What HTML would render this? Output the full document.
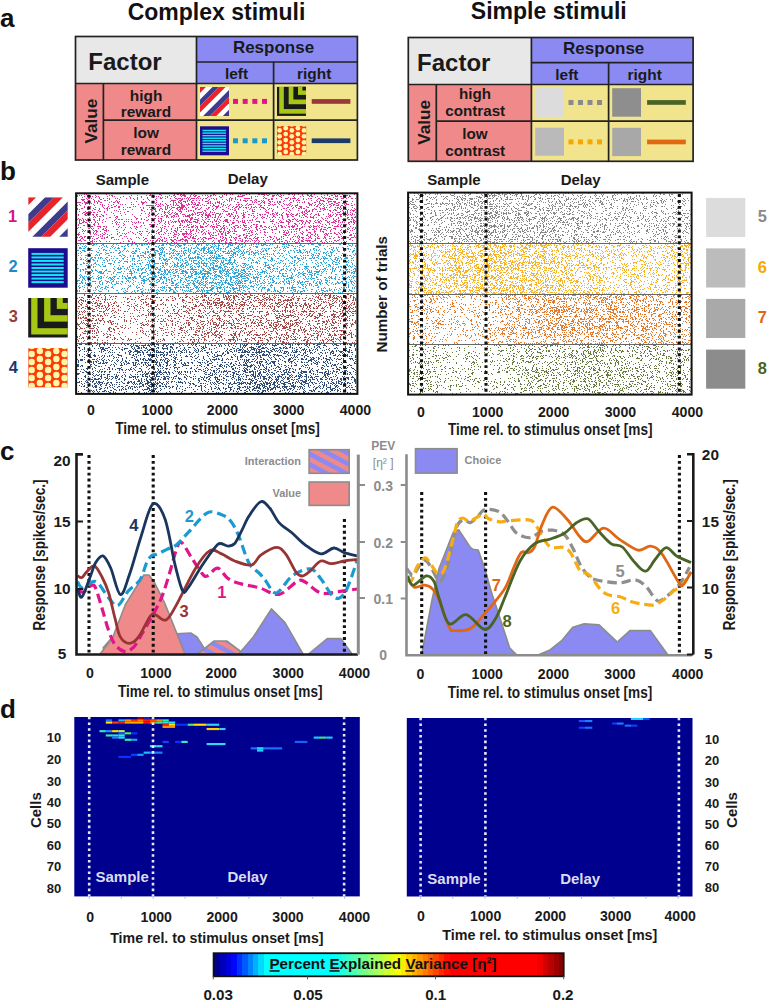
<!DOCTYPE html>
<html><head><meta charset="utf-8"><title>figure</title>
<style>html,body{margin:0;padding:0;background:#fff;overflow:hidden;width:767px;height:1007px;} svg{display:block;} text{font-family:"Liberation Sans", sans-serif;}</style>
</head><body>
<svg width="767" height="1007" viewBox="0 0 767 1007">
<defs><pattern id="hatch" patternUnits="userSpaceOnUse" width="9.25" height="9.25" patternTransform="translate(309 456.2) rotate(28)"><rect width="9.25" height="9.25" fill="#8a8af2"/><rect width="9.25" height="4.6" fill="#f08a8a"/></pattern></defs>
<text x="0.00" y="27.00" font-size="26" fill="#111" text-anchor="start" font-weight="bold" >a</text><text x="216.50" y="19.60" font-size="23" fill="#111" text-anchor="middle" font-weight="bold" >Complex stimuli</text><text x="548.80" y="18.80" font-size="23" fill="#111" text-anchor="middle" font-weight="bold" >Simple stimuli</text><rect x="75.5" y="36.5" width="121.0" height="47.0" fill="#e8e8e8"/><rect x="196.5" y="36.5" width="160.89999999999998" height="47.0" fill="#8a8af2"/><rect x="75.5" y="83.5" width="121.0" height="76.5" fill="#f08a8a"/><rect x="196.5" y="83.5" width="160.89999999999998" height="76.5" fill="#f2e48c"/><clipPath id="cs1"><rect x="200.00" y="87.00" width="29.00" height="29.00"/></clipPath><g clip-path="url(#cs1)"><rect x="200.00" y="87.00" width="29.00" height="29.00" fill="#fff"/><path d="M199.3 87.0 L205.9 87.0 L200.0 92.9 L200.0 86.3Z" fill="#e8232a"/><path d="M212.5 87.0 L219.0 87.0 L200.0 106.0 L200.0 99.5Z" fill="#3e3a8c"/><path d="M219.0 87.0 L225.6 87.0 L200.0 112.6 L200.0 106.0Z" fill="#e8232a"/><path d="M232.1 87.0 L238.7 87.0 L200.0 125.7 L200.0 119.1Z" fill="#3e3a8c"/><path d="M238.7 87.0 L245.3 87.0 L200.0 132.3 L200.0 125.7Z" fill="#e8232a"/><path d="M251.8 87.0 L258.4 87.0 L200.0 145.4 L200.0 138.8Z" fill="#3e3a8c"/><path d="M258.4 87.0 L264.9 87.0 L200.0 151.9 L200.0 145.4Z" fill="#e8232a"/><path d="M271.5 87.0 L278.0 87.0 L200.0 165.0 L200.0 158.5Z" fill="#3e3a8c"/></g><rect x="233.00" y="98.90" width="5.0" height="5.0" fill="#e0148c"/><rect x="242.67" y="98.90" width="5.0" height="5.0" fill="#e0148c"/><rect x="252.33" y="98.90" width="5.0" height="5.0" fill="#e0148c"/><rect x="262.00" y="98.90" width="5.0" height="5.0" fill="#e0148c"/><rect x="277.00" y="86.90" width="29.00" height="29.00" fill="#1a1a1a"/><rect x="279.20" y="86.90" width="26.80" height="26.80" fill="#a6c814"/><rect x="283.83" y="86.90" width="22.17" height="22.17" fill="#1a1a1a"/><rect x="288.67" y="86.90" width="17.33" height="17.33" fill="#a6c814"/><rect x="293.37" y="86.90" width="12.63" height="12.63" fill="#1a1a1a"/><rect x="298.00" y="86.90" width="8.00" height="8.00" fill="#a6c814"/><rect x="302.40" y="86.90" width="3.60" height="3.60" fill="#1a1a1a"/><rect x="311.7" y="99.1" width="38.7" height="4.7" fill="#983838"/><rect x="200.00" y="126.30" width="29.00" height="29.00" fill="#1e0c8e"/><rect x="202.42" y="129.75" width="23.64" height="1.47" fill="#10e6f4"/><rect x="202.42" y="132.34" width="23.64" height="1.47" fill="#10e6f4"/><rect x="202.42" y="134.93" width="23.64" height="1.47" fill="#10e6f4"/><rect x="202.42" y="137.51" width="23.64" height="1.47" fill="#10e6f4"/><rect x="202.42" y="140.10" width="23.64" height="1.47" fill="#10e6f4"/><rect x="202.42" y="142.69" width="23.64" height="1.47" fill="#10e6f4"/><rect x="202.42" y="145.28" width="23.64" height="1.47" fill="#10e6f4"/><rect x="202.42" y="147.87" width="23.64" height="1.47" fill="#10e6f4"/><rect x="202.42" y="150.45" width="23.64" height="1.47" fill="#10e6f4"/><rect x="233.00" y="138.30" width="5.0" height="5.0" fill="#1a98cc"/><rect x="242.67" y="138.30" width="5.0" height="5.0" fill="#1a98cc"/><rect x="252.33" y="138.30" width="5.0" height="5.0" fill="#1a98cc"/><rect x="262.00" y="138.30" width="5.0" height="5.0" fill="#1a98cc"/><clipPath id="cd1"><rect x="277.00" y="126.00" width="29.40" height="29.40"/></clipPath><g clip-path="url(#cd1)"><rect x="277.00" y="126.00" width="29.40" height="29.40" fill="#fa3c0a"/><circle cx="279.61" cy="124.44" r="2.38" fill="#fff6a8"/><circle cx="279.61" cy="130.39" r="2.38" fill="#fff6a8"/><circle cx="279.61" cy="136.35" r="2.38" fill="#fff6a8"/><circle cx="279.61" cy="142.30" r="2.38" fill="#fff6a8"/><circle cx="279.61" cy="148.25" r="2.38" fill="#fff6a8"/><circle cx="279.61" cy="154.21" r="2.38" fill="#fff6a8"/><circle cx="279.61" cy="160.16" r="2.38" fill="#fff6a8"/><circle cx="285.71" cy="122.20" r="2.38" fill="#fff6a8"/><circle cx="285.71" cy="128.16" r="2.38" fill="#fff6a8"/><circle cx="285.71" cy="134.11" r="2.38" fill="#fff6a8"/><circle cx="285.71" cy="140.07" r="2.38" fill="#fff6a8"/><circle cx="285.71" cy="146.02" r="2.38" fill="#fff6a8"/><circle cx="285.71" cy="151.98" r="2.38" fill="#fff6a8"/><circle cx="285.71" cy="157.93" r="2.38" fill="#fff6a8"/><circle cx="291.81" cy="124.44" r="2.38" fill="#fff6a8"/><circle cx="291.81" cy="130.39" r="2.38" fill="#fff6a8"/><circle cx="291.81" cy="136.35" r="2.38" fill="#fff6a8"/><circle cx="291.81" cy="142.30" r="2.38" fill="#fff6a8"/><circle cx="291.81" cy="148.25" r="2.38" fill="#fff6a8"/><circle cx="291.81" cy="154.21" r="2.38" fill="#fff6a8"/><circle cx="291.81" cy="160.16" r="2.38" fill="#fff6a8"/><circle cx="297.91" cy="122.20" r="2.38" fill="#fff6a8"/><circle cx="297.91" cy="128.16" r="2.38" fill="#fff6a8"/><circle cx="297.91" cy="134.11" r="2.38" fill="#fff6a8"/><circle cx="297.91" cy="140.07" r="2.38" fill="#fff6a8"/><circle cx="297.91" cy="146.02" r="2.38" fill="#fff6a8"/><circle cx="297.91" cy="151.98" r="2.38" fill="#fff6a8"/><circle cx="297.91" cy="157.93" r="2.38" fill="#fff6a8"/><circle cx="304.02" cy="124.44" r="2.38" fill="#fff6a8"/><circle cx="304.02" cy="130.39" r="2.38" fill="#fff6a8"/><circle cx="304.02" cy="136.35" r="2.38" fill="#fff6a8"/><circle cx="304.02" cy="142.30" r="2.38" fill="#fff6a8"/><circle cx="304.02" cy="148.25" r="2.38" fill="#fff6a8"/><circle cx="304.02" cy="154.21" r="2.38" fill="#fff6a8"/><circle cx="304.02" cy="160.16" r="2.38" fill="#fff6a8"/></g><rect x="311.7" y="138.4" width="38.7" height="4.7" fill="#1c3a68"/><rect x="75.5" y="36.5" width="281.9" height="123.5" fill="none" stroke="#222" stroke-width="1.7"/><path d="M196.5 36.5V160M75.5 83.5H357.4M196.5 62H357.4M273.6 62V160M103.4 83.5V160M103.4 120.2H357.4" fill="none" stroke="#222" stroke-width="1.7"/><text x="125.00" y="69.60" font-size="24" fill="#1a1a1a" text-anchor="middle" font-weight="bold" >Factor</text><text x="273.50" y="53.30" font-size="17" fill="#1a1a1a" text-anchor="middle" font-weight="bold" >Response</text><text x="236.50" y="79.20" font-size="15.4" fill="#1a1a1a" text-anchor="middle" font-weight="bold" >left</text><text x="314.20" y="79.20" font-size="15.4" fill="#1a1a1a" text-anchor="middle" font-weight="bold" >right</text><text x="146.10" y="100.70" font-size="15.4" fill="#1a1a1a" text-anchor="middle" font-weight="bold" >high</text><text x="146.00" y="117.30" font-size="15.4" fill="#1a1a1a" text-anchor="middle" font-weight="bold" >reward</text><text x="146.10" y="137.60" font-size="15.4" fill="#1a1a1a" text-anchor="middle" font-weight="bold" >low</text><text x="146.00" y="154.60" font-size="15.4" fill="#1a1a1a" text-anchor="middle" font-weight="bold" >reward</text><text transform="translate(90.70,121.10) rotate(-90)" x="0" y="6.19" font-size="17.2" fill="#1a1a1a" text-anchor="middle" font-weight="bold">Value</text><rect x="408.3" y="37.5" width="123.09999999999997" height="47.0" fill="#e8e8e8"/><rect x="531.4" y="37.5" width="161.70000000000005" height="47.0" fill="#8a8af2"/><rect x="408.3" y="84.5" width="123.09999999999997" height="76.80000000000001" fill="#f08a8a"/><rect x="531.4" y="84.5" width="161.70000000000005" height="76.80000000000001" fill="#f2e48c"/><rect x="535.2" y="87.8" width="28.8" height="29.1" fill="#dcdcdc"/><rect x="568.50" y="100.00" width="5.0" height="5.0" fill="#8a8a8a"/><rect x="578.00" y="100.00" width="5.0" height="5.0" fill="#8a8a8a"/><rect x="587.50" y="100.00" width="5.0" height="5.0" fill="#8a8a8a"/><rect x="597.00" y="100.00" width="5.0" height="5.0" fill="#8a8a8a"/><rect x="612.2" y="88.2" width="28.8" height="28.5" fill="#8e8e8e"/><rect x="647.1" y="100.1" width="38.7" height="4.7" fill="#4a6428"/><rect x="535.2" y="127.7" width="28.8" height="28" fill="#bababa"/><rect x="568.50" y="139.40" width="5.0" height="5.0" fill="#f6a800"/><rect x="578.00" y="139.40" width="5.0" height="5.0" fill="#f6a800"/><rect x="587.50" y="139.40" width="5.0" height="5.0" fill="#f6a800"/><rect x="597.00" y="139.40" width="5.0" height="5.0" fill="#f6a800"/><rect x="612.2" y="127.8" width="28.8" height="28.3" fill="#a8a8a8"/><rect x="647.1" y="139.6" width="38.7" height="4.7" fill="#e06810"/><rect x="408.3" y="37.5" width="284.8" height="123.80000000000001" fill="none" stroke="#222" stroke-width="1.7"/><path d="M531.4 37.5V161.3M408.3 84.5H693.1M531.4 62.6H693.1M608.6 62.6V161.3M436.3 84.5V161.3M436.3 121.2H693.1" fill="none" stroke="#222" stroke-width="1.7"/><text x="453.80" y="70.50" font-size="24" fill="#1a1a1a" text-anchor="middle" font-weight="bold" >Factor</text><text x="603.70" y="54.00" font-size="17" fill="#1a1a1a" text-anchor="middle" font-weight="bold" >Response</text><text x="566.90" y="80.20" font-size="15.4" fill="#1a1a1a" text-anchor="middle" font-weight="bold" >left</text><text x="644.70" y="80.20" font-size="15.4" fill="#1a1a1a" text-anchor="middle" font-weight="bold" >right</text><text x="475.00" y="99.40" font-size="15.2" fill="#1a1a1a" text-anchor="middle" font-weight="bold" >high</text><text x="475.20" y="116.10" font-size="15.2" fill="#1a1a1a" text-anchor="middle" font-weight="bold" >contrast</text><text x="475.00" y="139.00" font-size="15.2" fill="#1a1a1a" text-anchor="middle" font-weight="bold" >low</text><text x="475.20" y="155.70" font-size="15.2" fill="#1a1a1a" text-anchor="middle" font-weight="bold" >contrast</text><text transform="translate(423.50,122.30) rotate(-90)" x="0" y="6.19" font-size="17.2" fill="#1a1a1a" text-anchor="middle" font-weight="bold">Value</text><text x="0.00" y="179.80" font-size="26" fill="#111" text-anchor="start" font-weight="bold" >b</text><text x="122.40" y="184.50" font-size="15" fill="#1a1a1a" text-anchor="middle" font-weight="bold" >Sample</text><text x="247.80" y="184.30" font-size="15" fill="#1a1a1a" text-anchor="middle" font-weight="bold" >Delay</text><text x="454.00" y="184.50" font-size="15" fill="#1a1a1a" text-anchor="middle" font-weight="bold" >Sample</text><text x="580.70" y="184.60" font-size="15" fill="#1a1a1a" text-anchor="middle" font-weight="bold" >Delay</text><clipPath id="bs1"><rect x="28.20" y="197.20" width="39.50" height="39.50"/></clipPath><g clip-path="url(#bs1)"><rect x="28.20" y="197.20" width="39.50" height="39.50" fill="#fff"/><path d="M27.3 197.2 L36.2 197.2 L28.2 205.2 L28.2 196.3Z" fill="#e8232a"/><path d="M45.2 197.2 L54.1 197.2 L28.2 223.1 L28.2 214.2Z" fill="#3e3a8c"/><path d="M54.1 197.2 L63.0 197.2 L28.2 232.0 L28.2 223.1Z" fill="#e8232a"/><path d="M72.0 197.2 L80.9 197.2 L28.2 249.9 L28.2 241.0Z" fill="#3e3a8c"/><path d="M80.9 197.2 L89.8 197.2 L28.2 258.8 L28.2 249.9Z" fill="#e8232a"/><path d="M98.8 197.2 L107.7 197.2 L28.2 276.7 L28.2 267.8Z" fill="#3e3a8c"/><path d="M107.7 197.2 L116.6 197.2 L28.2 285.6 L28.2 276.7Z" fill="#e8232a"/><path d="M125.6 197.2 L134.5 197.2 L28.2 303.5 L28.2 294.6Z" fill="#3e3a8c"/></g><rect x="28.20" y="248.20" width="39.50" height="39.50" fill="#1e0c8e"/><rect x="31.50" y="252.90" width="32.20" height="2.00" fill="#10e6f4"/><rect x="31.50" y="256.43" width="32.20" height="2.00" fill="#10e6f4"/><rect x="31.50" y="259.95" width="32.20" height="2.00" fill="#10e6f4"/><rect x="31.50" y="263.47" width="32.20" height="2.00" fill="#10e6f4"/><rect x="31.50" y="267.00" width="32.20" height="2.00" fill="#10e6f4"/><rect x="31.50" y="270.52" width="32.20" height="2.00" fill="#10e6f4"/><rect x="31.50" y="274.05" width="32.20" height="2.00" fill="#10e6f4"/><rect x="31.50" y="277.57" width="32.20" height="2.00" fill="#10e6f4"/><rect x="31.50" y="281.10" width="32.20" height="2.00" fill="#10e6f4"/><rect x="28.20" y="298.00" width="39.50" height="39.50" fill="#1a1a1a"/><rect x="31.20" y="298.00" width="36.50" height="36.50" fill="#a6c814"/><rect x="37.50" y="298.00" width="30.20" height="30.20" fill="#1a1a1a"/><rect x="44.10" y="298.00" width="23.60" height="23.60" fill="#a6c814"/><rect x="50.50" y="298.00" width="17.20" height="17.20" fill="#1a1a1a"/><rect x="56.80" y="298.00" width="10.90" height="10.90" fill="#a6c814"/><rect x="62.80" y="298.00" width="4.90" height="4.90" fill="#1a1a1a"/><clipPath id="bd1"><rect x="28.20" y="348.10" width="39.50" height="39.50"/></clipPath><g clip-path="url(#bd1)"><rect x="28.20" y="348.10" width="39.50" height="39.50" fill="#fa3c0a"/><circle cx="31.70" cy="346.00" r="3.20" fill="#fff6a8"/><circle cx="31.70" cy="354.00" r="3.20" fill="#fff6a8"/><circle cx="31.70" cy="362.00" r="3.20" fill="#fff6a8"/><circle cx="31.70" cy="370.00" r="3.20" fill="#fff6a8"/><circle cx="31.70" cy="378.00" r="3.20" fill="#fff6a8"/><circle cx="31.70" cy="386.00" r="3.20" fill="#fff6a8"/><circle cx="31.70" cy="394.00" r="3.20" fill="#fff6a8"/><circle cx="39.90" cy="343.00" r="3.20" fill="#fff6a8"/><circle cx="39.90" cy="351.00" r="3.20" fill="#fff6a8"/><circle cx="39.90" cy="359.00" r="3.20" fill="#fff6a8"/><circle cx="39.90" cy="367.00" r="3.20" fill="#fff6a8"/><circle cx="39.90" cy="375.00" r="3.20" fill="#fff6a8"/><circle cx="39.90" cy="383.00" r="3.20" fill="#fff6a8"/><circle cx="39.90" cy="391.00" r="3.20" fill="#fff6a8"/><circle cx="48.10" cy="346.00" r="3.20" fill="#fff6a8"/><circle cx="48.10" cy="354.00" r="3.20" fill="#fff6a8"/><circle cx="48.10" cy="362.00" r="3.20" fill="#fff6a8"/><circle cx="48.10" cy="370.00" r="3.20" fill="#fff6a8"/><circle cx="48.10" cy="378.00" r="3.20" fill="#fff6a8"/><circle cx="48.10" cy="386.00" r="3.20" fill="#fff6a8"/><circle cx="48.10" cy="394.00" r="3.20" fill="#fff6a8"/><circle cx="56.30" cy="343.00" r="3.20" fill="#fff6a8"/><circle cx="56.30" cy="351.00" r="3.20" fill="#fff6a8"/><circle cx="56.30" cy="359.00" r="3.20" fill="#fff6a8"/><circle cx="56.30" cy="367.00" r="3.20" fill="#fff6a8"/><circle cx="56.30" cy="375.00" r="3.20" fill="#fff6a8"/><circle cx="56.30" cy="383.00" r="3.20" fill="#fff6a8"/><circle cx="56.30" cy="391.00" r="3.20" fill="#fff6a8"/><circle cx="64.50" cy="346.00" r="3.20" fill="#fff6a8"/><circle cx="64.50" cy="354.00" r="3.20" fill="#fff6a8"/><circle cx="64.50" cy="362.00" r="3.20" fill="#fff6a8"/><circle cx="64.50" cy="370.00" r="3.20" fill="#fff6a8"/><circle cx="64.50" cy="378.00" r="3.20" fill="#fff6a8"/><circle cx="64.50" cy="386.00" r="3.20" fill="#fff6a8"/><circle cx="64.50" cy="394.00" r="3.20" fill="#fff6a8"/></g><text x="12.60" y="222.00" font-size="16.4" fill="#d4148c" text-anchor="middle" font-weight="bold" >1</text><text x="13.00" y="272.30" font-size="16.4" fill="#1a8ac8" text-anchor="middle" font-weight="bold" >2</text><text x="13.20" y="322.30" font-size="16.4" fill="#9a3a3a" text-anchor="middle" font-weight="bold" >3</text><text x="13.20" y="372.70" font-size="16.4" fill="#1a3a6a" text-anchor="middle" font-weight="bold" >4</text><rect x="706.1" y="197.9" width="39.2" height="39.1" fill="#dcdcdc"/><text x="762.30" y="222.30" font-size="16.4" fill="#8a8a8a" text-anchor="middle" font-weight="bold" >5</text><rect x="706.1" y="248.4" width="39.2" height="39.1" fill="#bcbcbc"/><text x="762.30" y="272.80" font-size="16.4" fill="#f5a800" text-anchor="middle" font-weight="bold" >6</text><rect x="706.1" y="298.9" width="39.2" height="39.1" fill="#a9a9a9"/><text x="762.30" y="323.30" font-size="16.4" fill="#e06810" text-anchor="middle" font-weight="bold" >7</text><rect x="706.1" y="349.6" width="39.2" height="39.1" fill="#8c8c8c"/><text x="762.30" y="374.00" font-size="16.4" fill="#4a6428" text-anchor="middle" font-weight="bold" >8</text><rect x="76.1" y="193.3" width="281.29999999999995" height="200.59999999999997" fill="#fff"/><g stroke="#dc1a8e" stroke-width="1" fill="none" stroke-opacity="0.9"><path d="M77 194.5h279" stroke-dasharray="0,7,1,1,1,19,1,43,1,8,2,13,1,2,2,1,2,1,2,6,1,2,1,18,2,9,1,1,1,3,1,1,1,7,1,5,1,2,1,8,2,1,4,1,1,2,1,7,1,2,1,7,2,2,1,1,1,3,1,3,1,4,1,3,1,2,1,6,1,5,1,6,1,4,1,2,1,11,1,1"/><path d="M77 195.5h279" stroke-dasharray="1,1,1,1,1,5,1,1,1,5,1,13,1,1,2,18,1,5,1,8,1,2,2,10,1,7,1,3,2,5,1,1,4,4,1,2,1,1,2,5,1,2,1,1,1,2,2,1,1,1,1,6,1,3,1,11,1,3,3,19,1,2,2,3,3,1,1,1,1,2,1,1,1,10,1,7,1,4,2,1,2,12,1,2,1,3,2,2,1,1,1,6,1,1,2,1,1,6"/><path d="M77 196.5h279" stroke-dasharray="1,6,1,2,2,1,1,1,1,3,1,1,1,8,1,4,1,1,1,8,1,5,1,11,1,12,1,1,1,1,1,6,1,1,1,3,1,3,1,5,1,2,2,4,1,3,2,2,2,8,1,1,1,8,1,2,1,14,6,8,1,3,1,1,1,5,1,8,2,5,2,12,1,6,1,2,1,5,1,1,2,4,1,3,1,7,1,5,3,2,2,3,1,3,2,5"/><path d="M77 197.5h279" stroke-dasharray="0,5,1,12,1,3,1,20,1,9,1,6,1,3,1,5,1,5,1,6,1,1,1,4,1,6,1,12,1,1,1,7,1,9,1,12,2,8,1,4,1,15,1,12,1,16,1,6,1,5,1,20,1,6,1,1,1,8,1,10,2,2,1,7"/><path d="M77 198.5h279" stroke-dasharray="0,9,1,1,2,1,1,7,1,3,1,3,1,1,1,5,1,1,1,8,1,3,1,2,1,3,1,9,1,8,1,3,2,3,1,4,1,4,2,1,3,1,1,1,1,1,1,1,1,2,4,1,1,1,1,1,1,2,1,1,2,4,1,1,1,2,1,12,1,1,2,2,1,8,6,1,1,11,1,1,2,4,2,3,1,8,3,2,1,1,4,2,1,4,1,4,1,1,2,6,2,3,1,1,2,1,3,4,1,1,1,3,3,2,1,4,2,2,1"/><path d="M77 199.5h279" stroke-dasharray="0,4,4,2,1,5,1,6,2,7,1,9,1,14,1,2,1,5,1,4,1,6,1,21,1,3,2,5,1,1,1,11,1,6,1,4,1,1,1,5,1,3,1,2,1,1,1,3,1,1,1,2,1,14,2,11,2,1,2,8,1,8,1,6,1,5,1,2,1,10,1,2,1,7,1,1,3,3,2,18"/><path d="M77 200.5h279" stroke-dasharray="0,5,2,4,2,4,1,3,1,5,2,1,1,8,1,32,1,6,1,14,5,3,3,5,1,1,1,2,2,2,1,2,1,2,1,5,1,18,1,1,1,1,1,8,1,2,3,1,1,2,2,2,1,1,1,4,1,1,1,4,1,15,1,4,1,3,1,2,1,1,2,11,1,4,1,3,4,3,1,13,1,3,1,10"/><path d="M77 201.5h279" stroke-dasharray="0,7,1,9,1,1,1,1,2,11,1,3,1,1,1,1,1,16,1,4,1,3,1,6,1,9,1,7,1,2,1,4,1,1,1,2,3,1,1,3,1,13,3,2,1,6,1,1,1,4,1,4,1,4,1,10,2,5,1,2,1,2,2,2,1,1,1,4,2,1,1,4,1,1,2,2,1,9,1,10,1,12,1,1,1,3,2,3,4,1,3,8,4,4,1,3"/><path d="M77 202.5h279" stroke-dasharray="4,3,3,7,1,2,1,2,2,7,1,3,2,2,2,12,1,9,4,1,1,6,1,2,1,16,1,1,1,2,2,1,1,3,1,5,2,1,1,3,2,8,1,1,1,4,1,1,3,3,1,13,2,13,1,1,1,1,1,4,1,1,2,5,1,3,1,2,1,1,2,9,2,5,1,1,1,2,1,1,1,3,1,5,2,3,1,8,1,5,2,2,2,4,1,11"/><path d="M77 203.5h279" stroke-dasharray="0,5,1,2,3,1,1,1,1,5,1,20,1,23,2,11,1,4,1,4,1,7,1,2,1,3,2,6,1,3,1,2,1,3,1,7,2,1,1,1,1,2,1,3,1,1,1,25,1,12,1,3,1,3,2,8,1,4,1,5,1,18,2,2,1,6,2,1,1,3,1,4,2,3,2,4,1,3,1,4,1,4"/><path d="M77 204.5h279" stroke-dasharray="0,2,1,5,1,3,1,3,1,6,1,1,1,5,1,4,1,6,1,1,1,2,1,5,1,1,1,4,1,3,1,13,1,1,1,1,1,1,1,3,1,3,1,2,1,2,1,4,2,3,1,1,2,1,1,1,3,1,2,3,1,10,1,7,1,1,1,3,1,2,1,5,1,1,2,1,1,4,1,2,3,1,1,4,2,10,1,1,1,1,2,3,1,4,1,1,1,1,1,1,1,6,1,11,3,3,1,2,1,2,1,1,1,5,2,2,2,3,1,5,1,1,3,5,1,1"/><path d="M77 205.5h279" stroke-dasharray="1,2,1,13,1,7,1,1,1,6,1,4,1,29,8,1,1,3,1,3,1,3,2,4,1,1,1,1,2,2,4,2,1,8,3,1,1,3,1,1,1,3,1,2,2,3,1,4,1,1,1,3,1,8,1,3,1,2,1,2,1,11,2,2,1,3,2,3,1,7,1,5,1,1,1,2,1,2,3,11,1,1,1,2,1,2,1,2,1,3,1,2,1,3,1,1,1,2,3,2,2,2,1,5,2,3"/><path d="M77 206.5h279" stroke-dasharray="0,7,1,3,1,1,1,11,1,5,1,5,2,2,2,13,1,1,1,21,2,1,1,4,1,1,1,3,1,7,1,1,4,7,1,1,1,17,1,2,4,3,1,5,1,4,1,2,2,1,1,1,1,9,1,3,1,4,1,16,1,4,1,8,1,3,1,3,3,4,1,9,2,5,1,6,1,9,1,2,1,12"/><path d="M77 207.5h279" stroke-dasharray="0,7,1,2,1,1,1,5,1,7,1,3,1,3,2,5,2,3,1,3,1,1,2,9,1,2,1,5,1,1,1,13,1,1,1,1,1,2,3,2,7,1,1,2,1,3,2,3,1,3,1,6,2,6,2,2,1,5,1,5,1,2,2,2,2,2,1,1,2,1,1,2,1,1,2,1,1,2,1,1,3,3,1,9,1,9,2,4,1,2,1,3,2,5,2,10,1,4,1,1,1,2,1,5,1,1,2,1,1,11,1,3"/><path d="M77 208.5h279" stroke-dasharray="1,3,2,4,1,5,1,5,1,4,1,1,2,1,1,33,1,11,1,4,2,3,1,1,1,3,1,4,2,2,3,3,1,8,2,3,1,5,1,1,1,4,1,2,1,11,1,5,1,3,1,7,1,3,1,12,2,4,1,1,1,11,2,1,1,5,1,5,2,1,1,1,2,9,1,5,1,1,3,12,1,1,1,1,1,2,1,9,1,1"/><path d="M77 209.5h279" stroke-dasharray="1,1,1,7,2,5,2,3,1,7,1,11,1,3,1,1,1,6,1,8,1,5,1,2,2,2,2,3,1,2,1,2,2,3,1,6,1,1,2,1,1,1,1,1,1,8,1,2,2,7,1,4,1,2,1,6,2,6,1,1,1,2,1,2,1,10,1,2,1,1,1,5,1,4,1,2,1,4,1,7,1,7,1,16,1,5,2,1,2,3,1,3,2,1,1,6,2,4,1,2,1,1,2,1,1,2,1,3,1"/><path d="M77 210.5h279" stroke-dasharray="0,15,1,5,1,8,1,6,1,1,1,24,2,8,2,2,1,3,1,9,1,2,1,5,1,1,1,7,1,1,2,1,1,10,2,7,1,10,1,9,2,7,1,8,1,13,1,5,1,13,1,3,1,7,1,6,2,2,1,2,1,10,1,5,2,2,1,1,2,5,1,4,1,2,1,1,3,1"/><path d="M77 211.5h279" stroke-dasharray="0,2,1,5,1,2,3,8,2,3,1,13,1,1,1,6,2,15,1,6,1,3,2,5,1,1,1,3,1,10,3,4,1,1,1,4,1,8,1,2,1,4,1,12,1,1,3,8,1,10,1,4,3,10,1,6,1,15,1,13,1,1,1,1,1,1,2,2,1,4,1,1,2,9,1,9,1,2,1,1,1,1,1,5,1,2"/><path d="M77 212.5h279" stroke-dasharray="0,6,2,1,6,1,2,2,1,6,1,6,1,12,1,24,1,14,2,1,1,1,1,2,1,2,1,5,1,12,1,2,5,1,1,2,1,3,1,1,1,1,1,18,1,2,1,6,1,1,1,20,3,6,1,1,1,5,1,5,1,11,2,1,1,2,1,24,1,4,3,3,1,1,1,1,1,2,1,4,1"/><path d="M77 213.5h279" stroke-dasharray="0,5,1,2,2,3,1,22,1,6,1,20,1,3,1,3,1,8,1,5,1,3,1,2,1,2,1,1,2,2,1,11,1,2,1,1,1,5,1,1,1,3,1,6,3,1,1,1,1,5,2,1,1,4,1,4,1,1,1,8,2,3,1,10,1,3,2,2,2,4,1,3,1,4,1,5,1,1,1,2,1,2,2,4,1,6,1,9,1,6,1,6,1,1,1,2,1,4,1,3"/><path d="M77 214.5h279" stroke-dasharray="0,1,1,5,2,1,1,4,2,2,2,3,1,4,1,18,1,6,1,15,1,2,2,1,1,2,1,3,1,3,1,3,2,4,3,4,3,4,1,1,3,1,1,3,1,1,2,2,2,1,2,2,2,1,1,3,2,5,1,1,2,1,2,10,2,3,2,9,2,1,1,1,2,4,1,1,1,1,1,1,1,2,1,1,1,4,3,1,1,1,2,2,2,5,2,2,1,2,1,4,2,1,1,4,1,4,1,1,1,2,1,2,2,1,3,4,1,1,1,1,1,1,1,1,1,1"/><path d="M77 215.5h279" stroke-dasharray="0,1,1,6,2,1,1,4,1,2,1,5,2,10,1,6,1,18,1,8,1,2,1,2,2,7,1,1,2,5,2,3,1,6,1,1,4,1,1,4,2,3,1,2,6,4,1,3,1,7,1,2,1,4,1,1,1,4,2,7,1,1,1,3,1,2,1,6,1,5,1,3,1,3,2,4,1,3,1,3,2,2,1,2,1,1,1,9,1,3,2,9,2,1,1,3,1,3,1,6,1,3,1,4"/><path d="M77 216.5h279" stroke-dasharray="0,17,1,2,1,1,2,2,1,12,2,16,1,13,1,6,1,2,1,2,2,3,2,3,2,1,1,1,1,1,1,4,1,1,5,11,1,5,2,1,1,4,1,2,1,2,1,7,2,2,1,1,1,2,1,4,2,9,1,7,1,4,1,5,2,7,1,4,2,3,2,5,1,5,2,3,1,2,1,12,1,1,1,1,2,3,1,4,2,3,1,9,1"/><path d="M77 217.5h279" stroke-dasharray="0,12,1,3,1,1,1,13,2,4,1,1,1,17,1,10,1,19,1,1,1,2,1,1,1,15,1,1,2,2,1,6,1,2,1,1,2,3,1,1,2,2,1,1,1,3,1,9,1,3,1,4,2,3,1,4,1,3,1,3,1,1,2,4,1,2,1,2,1,3,1,2,1,4,1,13,1,1,1,3,1,2,4,2,1,4,1,7,1,8,1,8,2,2,2,1,2"/><path d="M77 218.5h279" stroke-dasharray="0,1,1,3,1,16,1,6,1,9,1,19,2,3,1,9,2,1,2,2,1,1,2,17,1,10,3,5,1,7,1,10,1,15,2,2,1,4,1,13,1,5,1,3,1,15,1,11,1,18,1,8,1,2,1,1,1,5,1,4,1,8,1,4,1,3"/><path d="M77 219.5h279" stroke-dasharray="1,1,2,2,1,1,1,2,2,3,2,4,1,3,1,11,1,2,2,1,2,3,1,1,1,2,1,4,1,4,1,2,1,3,1,12,1,11,1,4,1,6,1,1,1,2,2,2,4,4,1,2,1,2,2,4,1,2,1,1,1,5,3,24,1,2,1,14,1,2,1,4,1,4,1,4,2,2,2,1,1,1,1,20,1,4,1,9,1,2,1,5,1,5,2,1,1,1,1,2"/><path d="M77 220.5h279" stroke-dasharray="0,2,1,1,1,1,1,2,1,2,2,3,1,2,1,1,1,2,1,11,1,31,2,5,1,4,1,2,1,1,1,6,1,7,1,2,3,1,3,2,1,6,2,4,1,10,1,1,1,3,1,3,4,2,1,2,1,2,2,4,1,1,1,2,1,1,2,1,1,19,1,7,1,5,1,2,2,5,1,2,4,3,1,2,2,4,1,1,1,2,1,4,2,7,2,2,2,4,1,8,2,1"/><path d="M77 221.5h279" stroke-dasharray="0,2,1,3,2,3,1,6,1,9,1,6,1,3,1,7,1,1,1,1,1,2,1,6,1,19,2,1,1,3,1,2,1,3,1,1,3,1,2,1,2,1,1,1,1,1,2,3,3,1,1,3,1,2,1,2,2,1,1,1,1,2,2,1,1,4,1,1,3,10,1,1,1,1,1,1,1,11,4,3,1,6,4,5,1,1,1,4,3,1,1,1,1,4,2,2,1,1,1,2,2,2,1,3,1,3,2,1,1,5,1,1,1,3,1,1,2,1,1,3,1,7,2,1,1,1,1"/><path d="M77 222.5h279" stroke-dasharray="0,2,1,2,2,1,2,2,1,1,1,3,1,1,1,4,1,12,1,1,1,1,1,12,1,1,1,1,1,1,1,1,1,2,1,7,1,2,1,5,1,4,1,2,1,2,1,1,1,1,1,3,1,2,1,1,1,2,1,1,3,3,3,6,2,6,1,6,1,7,2,3,3,3,1,3,3,3,1,2,1,7,1,3,2,11,1,3,4,4,2,12,1,2,1,2,2,5,2,1,2,7,2,2,4,3,1,1,1,1,1,1,1,3,2,1,1,1,2,1"/><path d="M77 223.5h279" stroke-dasharray="0,2,3,5,1,6,1,3,1,13,1,3,1,6,1,11,1,7,1,15,1,4,1,3,1,11,1,18,1,3,1,2,1,9,1,1,1,4,1,8,2,11,1,26,1,5,1,9,1,5,2,3,1,2,1,2,1,3,1,3,1,6,1,8,1,5,1,12,1,5,1,1"/><path d="M77 224.5h279" stroke-dasharray="0,1,1,8,2,4,2,3,1,17,1,1,1,5,1,7,1,16,2,3,1,2,1,7,1,3,1,10,1,6,1,1,1,1,1,11,1,4,1,4,1,2,1,12,1,1,1,11,1,9,2,1,2,16,1,13,1,6,2,4,1,2,1,17,1,2,1,3,1,8,1,2,1,4,1,2,1,3,1,2"/><path d="M77 225.5h279" stroke-dasharray="0,1,1,4,2,9,1,28,1,17,1,2,1,6,1,10,1,10,1,5,2,1,1,4,2,4,1,1,1,4,1,6,1,3,1,5,3,3,2,4,1,5,3,2,1,2,4,4,1,4,1,3,2,16,1,1,2,4,1,5,1,1,1,2,1,12,1,2,1,3,1,1,1,6,1,5,1,4,1,2,1,4,1,10"/><path d="M77 226.5h279" stroke-dasharray="0,14,2,4,4,2,2,1,1,6,1,5,1,14,1,1,1,3,1,9,3,3,1,7,2,2,1,3,1,11,1,1,1,4,3,2,2,2,3,2,2,3,1,1,3,1,1,3,1,2,1,2,1,6,2,3,1,5,1,5,1,5,2,2,2,2,2,3,1,3,1,1,1,2,1,2,2,1,1,3,2,1,4,2,1,4,1,1,1,3,2,1,1,1,4,1,1,2,2,11,5,1,1,3,2,4,1,5"/><path d="M77 227.5h279" stroke-dasharray="0,1,1,1,1,9,1,9,1,5,1,11,1,2,1,3,1,4,1,5,2,14,2,6,1,1,1,14,1,1,2,2,1,4,2,1,2,2,1,1,1,2,4,8,1,1,1,1,2,4,1,1,1,6,1,2,1,2,2,1,1,4,2,1,1,2,1,3,2,5,1,3,1,1,1,2,1,4,1,4,2,2,1,3,1,2,2,7,2,6,2,2,1,5,1,4,2,2,3,10,2,5,1,4,1,1,1"/><path d="M77 228.5h279" stroke-dasharray="1,10,2,1,1,1,1,4,1,4,1,1,1,25,1,3,1,9,1,15,1,2,1,6,1,3,1,1,1,19,1,15,1,7,1,1,2,2,1,4,1,2,1,6,1,6,1,6,1,2,1,9,1,6,1,19,2,1,2,13,1,1,1,4,1,5,1,5,3,11,1,1,1,2,1,2,1"/><path d="M77 229.5h279" stroke-dasharray="0,5,1,9,1,9,2,2,1,9,2,6,1,11,1,10,1,4,1,5,1,2,1,4,1,4,1,5,1,3,1,1,1,2,1,1,1,1,1,2,1,2,1,1,1,3,1,1,1,8,1,1,1,2,1,1,2,2,1,4,1,4,1,9,3,1,1,7,2,5,3,5,2,1,3,12,1,1,1,1,1,1,2,2,1,6,1,2,1,2,2,2,1,3,2,1,3,5,1,3,1,5,1,3,1,1,2,5,1,1"/><path d="M77 230.5h279" stroke-dasharray="0,6,1,1,1,3,1,3,1,1,2,7,3,1,1,14,1,33,1,3,1,5,1,6,2,1,1,12,1,1,2,2,1,2,1,3,1,4,1,7,1,2,1,4,1,4,1,4,1,8,2,5,1,1,1,4,1,2,1,11,1,10,1,1,1,1,1,11,1,6,2,6,1,5,1,5,1,3,1,9,1,3,2,4,1,1,1,3"/><path d="M77 231.5h279" stroke-dasharray="0,5,1,1,1,9,1,1,2,2,1,5,1,10,1,12,1,8,2,1,1,3,2,8,1,3,2,4,1,4,1,3,2,3,2,3,2,3,2,4,1,4,2,3,1,10,1,1,3,1,1,3,2,1,1,1,1,1,3,10,1,1,1,1,1,3,1,8,1,14,1,4,1,3,1,2,1,2,1,1,1,5,1,11,2,4,1,1,2,6,1,16,1,8"/><path d="M77 232.5h279" stroke-dasharray="0,2,1,10,1,2,1,2,1,7,1,14,1,8,1,3,1,4,1,11,1,8,2,4,1,8,1,2,1,9,1,3,1,7,1,2,1,2,1,3,1,1,1,2,1,1,1,4,1,2,1,1,1,2,2,21,2,7,1,3,2,1,1,4,1,6,1,3,2,1,1,1,1,2,1,8,1,2,1,4,3,3,1,8,1,10,1,3,1,2,1,2,1,4,1,6"/><path d="M77 233.5h279" stroke-dasharray="0,1,1,4,1,5,2,2,1,1,1,6,1,2,1,11,1,4,1,1,1,1,1,6,1,5,1,1,1,6,1,7,1,1,1,6,1,2,1,1,1,3,1,3,1,3,6,1,1,1,1,3,1,7,1,1,1,2,2,3,1,4,1,2,2,2,1,1,2,4,2,11,1,1,2,6,1,18,1,10,2,8,1,4,2,7,1,4,1,9,2,1,1,1,2,2,2,3,1,2,1,1,1,8,1,1,1"/><path d="M77 234.5h279" stroke-dasharray="3,10,1,3,1,1,1,3,1,2,2,2,1,3,1,5,1,7,1,9,1,4,1,10,1,7,1,1,1,1,1,10,3,2,1,2,3,1,1,1,1,1,1,2,1,8,1,2,1,3,1,1,1,6,1,2,2,2,1,10,1,6,2,7,1,2,1,1,1,6,1,18,3,3,1,4,1,7,1,4,1,3,2,2,1,1,1,6,1,1,2,8,2,2,1,9,2,4"/><path d="M77 235.5h279" stroke-dasharray="0,1,1,19,1,3,1,6,1,10,2,19,1,5,1,4,1,1,1,13,1,4,1,4,1,4,1,7,1,4,1,13,1,1,2,1,2,8,2,3,1,8,2,2,1,2,2,2,2,13,1,19,2,1,1,9,1,7,2,2,1,3,1,2,1,7,1,1,1,21,3,2,1,1"/><path d="M77 236.5h279" stroke-dasharray="0,3,2,2,2,3,1,1,1,1,1,6,1,1,1,4,1,11,1,4,1,1,1,33,1,13,2,8,3,3,1,2,1,1,1,14,1,9,1,1,1,8,1,6,2,6,1,2,1,5,1,13,2,3,1,6,1,1,1,9,1,1,1,1,1,1,1,8,1,1,1,4,1,2,1,5,1,4,1,1,1,6,1,2,1,12,1,1"/><path d="M77 237.5h279" stroke-dasharray="1,1,1,2,1,1,1,2,2,9,1,5,1,1,2,3,3,22,1,1,1,4,1,9,1,7,1,2,1,4,1,1,1,1,1,3,1,6,2,1,1,2,1,1,2,6,1,2,3,6,2,6,1,2,1,1,1,3,1,1,1,1,1,1,2,7,3,7,1,2,2,2,1,1,1,3,1,2,2,4,1,4,1,5,1,4,1,4,1,1,1,1,3,5,2,6,1,6,2,8,1,3,2,2,1,1,1,2,2,2,3,1,1"/><path d="M77 238.5h279" stroke-dasharray="0,4,2,4,1,4,1,3,2,3,2,1,1,6,1,10,1,4,1,2,1,8,1,5,2,8,1,2,2,4,1,1,1,10,1,4,1,5,2,2,4,2,1,3,1,2,2,1,4,2,1,1,1,5,1,2,2,7,1,1,1,2,2,4,1,1,1,1,2,2,1,1,3,15,1,2,1,2,1,3,1,6,1,7,1,3,1,3,1,1,1,2,1,3,1,1,3,3,1,1,1,3,2,2,1,7,3,6,1,5"/><path d="M77 239.5h279" stroke-dasharray="0,3,1,2,1,5,1,4,1,19,1,1,1,1,1,12,1,12,1,12,1,2,1,1,1,7,2,2,2,4,4,1,2,10,1,3,1,1,1,4,1,11,1,3,1,1,1,3,1,4,1,6,1,8,1,5,1,5,1,6,1,1,1,4,3,1,1,8,1,2,1,5,1,3,1,11,1,10,1,12,1,3,1,5,2,5"/><path d="M77 240.5h279" stroke-dasharray="0,1,3,3,2,3,1,2,1,6,1,28,1,14,1,3,1,2,1,1,2,2,2,1,1,1,2,3,1,4,3,2,1,1,3,3,4,3,1,2,1,8,1,9,1,4,2,1,3,2,1,3,2,3,1,2,1,1,1,1,1,2,2,1,1,3,1,1,1,1,1,1,1,7,1,1,1,5,1,2,1,7,2,8,1,2,1,2,2,2,6,3,2,5,1,3,1,8,2,1,2,4,1,8,1,3"/><path d="M77 241.5h279" stroke-dasharray="0,4,1,8,3,1,1,1,1,3,1,5,1,2,1,13,1,4,2,2,1,12,2,5,1,2,2,2,1,2,1,1,2,6,2,8,1,2,1,1,1,5,3,2,1,1,1,1,1,1,2,6,1,5,2,1,1,3,1,15,2,2,1,1,1,2,1,4,1,3,1,4,1,8,2,4,1,1,2,4,1,1,1,2,1,1,1,3,1,2,3,3,1,1,1,2,2,6,2,4,1,2,1,1,1,4,1,7,1,1,1,9"/><path d="M77 242.5h279" stroke-dasharray="0,10,3,2,1,27,1,11,1,1,1,13,1,4,1,1,1,11,1,3,1,2,1,1,1,10,1,7,1,7,1,10,1,4,1,5,2,2,3,3,2,7,1,9,1,3,1,6,1,9,1,3,1,4,1,2,1,7,3,1,1,10,1,6,1,4,1,1,1,2,1,5,1,7,1,14"/></g><g stroke="#1a9ad2" stroke-width="1" fill="none" stroke-opacity="0.9"><path d="M77 243.5h279" stroke-dasharray="1,4,2,2,1,1,3,6,1,2,1,9,1,3,1,1,1,1,5,11,3,4,1,4,2,5,1,3,1,3,2,1,1,1,3,2,2,2,1,5,2,3,1,1,1,3,7,4,1,2,1,1,1,2,1,2,3,4,1,6,2,1,1,1,1,2,1,1,1,4,1,1,1,2,3,1,4,5,2,4,1,7,3,6,2,4,1,3,1,5,1,3,3,5,1,1,1,1,1,1,1,10,1,1,1,3,1,1,4,3,1,11"/><path d="M77 244.5h279" stroke-dasharray="0,3,1,2,1,4,1,2,1,1,2,1,1,5,2,9,1,2,1,10,2,2,2,2,2,2,1,1,2,1,1,1,2,1,1,2,1,9,2,2,1,2,2,3,1,2,2,4,3,6,1,4,3,1,1,4,1,1,1,3,1,1,1,3,1,3,1,2,1,2,3,1,1,2,1,3,1,1,2,2,1,5,1,1,1,2,1,1,1,2,1,1,3,4,1,1,1,9,3,1,1,1,1,11,1,7,1,2,3,4,3,18,2,3,1,3,1,3,1,3"/><path d="M77 245.5h279" stroke-dasharray="0,1,1,6,1,6,2,7,1,1,1,2,1,5,1,5,1,6,1,1,1,3,1,5,1,3,2,8,1,1,1,5,1,1,3,6,4,2,1,1,4,2,1,3,1,1,1,5,1,1,1,2,1,4,2,2,1,4,1,2,2,8,1,1,3,5,1,1,1,4,1,3,1,1,1,9,3,2,2,1,1,7,1,10,2,1,2,6,3,2,1,14,2,2,1,6,1,18,2,1,1,2,1"/><path d="M77 246.5h279" stroke-dasharray="0,5,1,1,1,1,1,12,1,4,1,1,1,4,1,1,1,7,2,1,1,3,1,8,1,10,1,6,2,1,1,16,1,1,1,1,2,15,1,7,1,6,2,1,1,1,1,1,1,4,1,3,2,8,2,3,1,1,1,8,1,1,3,19,1,4,1,1,1,1,1,6,1,1,1,1,1,4,2,11,3,9,1,19,1,3,1,3,1"/><path d="M77 247.5h279" stroke-dasharray="0,2,2,4,1,2,1,13,1,4,1,4,1,2,1,2,1,29,1,9,1,2,2,1,1,4,1,5,1,2,1,5,1,1,1,4,1,3,1,1,1,5,2,1,1,1,1,1,2,1,1,4,1,7,2,6,1,1,1,1,1,2,2,7,1,5,2,16,1,1,2,1,1,4,1,2,2,10,1,18,1,12,1,1,1,2,1,1,1,3,2,12"/><path d="M77 248.5h279" stroke-dasharray="0,2,3,1,2,3,1,2,1,6,1,2,1,8,1,3,1,2,3,4,2,7,1,2,1,1,1,7,1,12,2,1,2,6,2,9,1,1,2,3,1,2,1,1,2,2,2,2,5,2,2,3,1,2,3,1,2,1,1,1,1,4,1,4,4,10,1,12,1,1,1,1,1,1,2,1,1,3,1,7,1,1,1,8,2,17,2,9,1,4,1,3,1,2,1,10,2,5,1,1"/><path d="M77 249.5h279" stroke-dasharray="0,26,2,19,1,14,1,7,1,2,2,7,1,1,1,1,1,2,1,3,1,2,2,13,1,1,1,8,1,1,1,1,2,2,2,5,1,3,1,1,1,4,1,7,2,4,1,4,1,2,1,2,1,10,1,3,1,2,1,11,1,18,1,3,1,1,1,4,1,2,1,2,1,2,1,5,1,5,2,4,1,5,1,4,1,1,1,5"/><path d="M77 250.5h279" stroke-dasharray="2,3,3,2,1,3,2,6,1,3,1,1,2,2,1,5,2,2,1,3,1,3,1,7,2,14,1,3,3,2,1,1,1,9,2,1,1,5,1,2,3,1,1,1,1,4,2,3,2,1,2,3,1,1,1,1,1,1,1,2,1,2,1,7,1,2,1,2,1,3,1,1,1,2,1,5,1,5,1,1,1,5,1,1,2,6,1,1,1,3,1,3,1,1,1,4,2,1,1,2,2,1,2,3,1,5,1,3,1,1,1,1,1,13,1,1,1,2,1,5,1,9,2,1"/><path d="M77 251.5h279" stroke-dasharray="0,3,1,3,2,10,1,23,1,1,1,3,1,1,1,3,2,1,2,2,1,5,1,1,2,1,1,3,1,2,2,3,1,1,1,4,1,4,1,1,2,1,1,1,1,1,1,4,1,1,1,3,2,2,1,4,1,2,1,1,2,1,1,3,2,1,1,3,4,2,1,1,3,3,2,1,1,1,1,1,1,2,3,2,2,5,1,1,1,1,2,2,1,7,1,9,1,3,1,5,1,4,2,5,2,1,1,10,1,6,1,2,1,2,1,4,2,4,1,4,1,2,2,2"/><path d="M77 252.5h279" stroke-dasharray="0,4,1,7,1,7,2,6,1,4,2,1,1,5,2,10,1,2,1,7,2,1,1,1,2,5,2,4,3,1,1,6,1,1,1,9,1,1,1,3,1,2,1,1,2,3,1,3,1,3,2,1,3,2,1,7,1,3,1,1,1,3,3,2,1,3,1,1,1,1,1,2,1,1,1,1,1,1,3,3,1,16,1,9,1,5,1,2,2,1,2,1,1,1,1,1,1,1,1,4,1,8,2,1,1,3,3,19,1,3"/><path d="M77 253.5h279" stroke-dasharray="0,1,1,1,1,10,1,8,2,4,3,9,2,12,4,4,1,3,2,4,1,4,1,2,2,1,1,4,2,1,2,1,2,1,1,1,3,1,1,1,2,1,1,3,1,2,2,2,1,3,1,2,3,2,4,1,2,4,1,4,5,1,1,1,3,5,2,1,1,4,1,3,3,2,1,1,1,5,2,5,1,3,1,1,1,1,2,6,1,12,1,4,1,3,1,4,1,1,2,3,1,1,1,2,1,2,1,4,1,5,1,12,1"/><path d="M77 254.5h279" stroke-dasharray="0,19,1,2,1,5,1,16,1,22,1,3,1,1,1,3,1,3,3,2,1,4,1,6,1,1,1,5,1,4,1,7,3,16,1,1,1,13,2,1,1,1,1,2,1,2,1,4,2,1,1,2,1,3,1,2,1,1,2,2,1,1,1,1,1,1,1,12,1,25,2,5,1,6,1,4,1,21,1,1,1"/><path d="M77 255.5h279" stroke-dasharray="0,1,1,2,1,3,2,3,1,4,1,1,1,1,1,8,2,9,2,2,2,5,1,2,1,3,2,1,4,4,1,4,3,3,1,3,2,6,1,1,2,2,1,2,1,1,1,1,1,3,2,11,1,2,1,2,1,2,1,1,1,1,1,3,2,1,2,5,1,1,2,1,1,3,1,4,2,9,1,1,1,18,1,5,1,2,1,5,1,6,1,3,1,2,1,1,1,1,2,2,1,1,1,1,1,1,2,7,1,1,2,1,1,2,1,6,1,5,1,1,2,3,1,1"/><path d="M77 256.5h279" stroke-dasharray="0,34,1,2,1,6,1,3,1,4,1,2,1,3,2,4,1,5,1,10,1,3,1,6,1,8,2,6,1,6,1,1,2,3,2,7,1,2,1,1,1,1,3,11,1,2,1,4,1,22,1,1,1,1,1,1,1,5,1,3,1,2,1,7,1,3,2,5,1,10,1,5,1,3,1,1,1,4,2,7,1,4,1,7,1,4"/><path d="M77 257.5h279" stroke-dasharray="0,3,1,4,1,5,2,1,2,2,1,1,2,4,2,16,1,2,1,11,1,1,1,2,2,1,1,1,2,1,1,2,1,3,1,2,1,6,2,1,1,2,2,2,1,6,1,1,1,1,1,1,1,1,2,1,4,8,2,1,3,1,2,4,2,5,3,1,1,5,1,3,2,4,1,4,1,4,1,2,2,7,1,12,1,6,2,1,2,1,1,5,1,1,1,6,1,1,1,1,2,5,1,1,1,9,2,3,1,4,3,5,1,2"/><path d="M77 258.5h279" stroke-dasharray="0,4,1,5,1,2,2,3,1,2,1,1,1,1,1,2,1,5,1,1,1,2,2,4,2,8,3,4,1,8,1,3,2,5,2,2,1,2,1,4,1,2,1,1,2,2,1,3,2,3,5,1,1,1,2,1,2,2,1,1,1,1,2,1,1,1,1,1,6,1,3,1,1,3,1,10,1,3,1,2,1,1,1,6,1,2,1,3,2,5,2,4,2,7,1,5,1,4,3,1,1,1,1,1,1,3,3,1,2,3,1,2,1,1,5,2,1,4,1,1,2,2,1,2,4,3,2,3"/><path d="M77 259.5h279" stroke-dasharray="0,3,2,1,1,2,1,3,1,1,2,12,1,2,1,13,1,3,1,4,1,1,1,10,1,5,1,7,1,3,4,1,2,6,1,1,1,3,1,6,1,11,1,4,1,3,1,5,1,8,1,3,2,3,1,9,1,7,1,14,1,3,2,12,1,12,1,3,1,17,1,3,1,6,1,2,2,1,1,3,1,14"/><path d="M77 260.5h279" stroke-dasharray="1,7,1,7,2,2,1,5,2,2,1,1,1,2,1,2,1,3,1,1,1,10,1,5,2,1,1,6,1,1,1,3,1,6,1,2,2,1,1,10,1,1,1,1,1,2,2,2,1,1,1,1,4,2,1,2,2,2,1,3,1,1,4,1,1,3,1,1,1,1,2,1,3,3,2,12,1,3,2,4,1,9,1,1,1,1,1,1,1,5,2,1,1,4,1,5,2,3,2,5,1,4,1,3,2,6,1,4,1,3,1,3,2,1,1,8,1,2,1,1,1,2"/><path d="M77 261.5h279" stroke-dasharray="0,9,1,10,1,9,1,6,1,5,1,3,4,2,1,3,1,2,1,11,1,1,1,2,1,11,2,4,1,10,1,3,1,3,1,1,1,4,1,2,1,6,1,6,2,1,1,2,1,1,1,5,1,4,1,21,1,2,1,11,1,4,1,5,1,9,1,1,1,3,1,24,1,9,2,4,1,5,3,8"/><path d="M77 262.5h279" stroke-dasharray="0,6,1,11,1,6,1,1,1,9,1,3,2,7,1,14,1,4,1,1,1,4,1,7,1,2,1,7,1,3,1,2,1,4,3,5,1,4,2,1,1,2,1,4,1,2,2,3,1,3,3,4,4,1,2,2,1,13,1,1,1,1,3,6,3,11,1,1,1,9,1,3,1,2,1,5,1,8,1,4,1,2,2,2,1,1,1,5,1,2,2,1,1,7,1,1,1,2,1,4"/><path d="M77 263.5h279" stroke-dasharray="0,6,2,1,2,1,1,4,2,12,4,11,1,8,1,1,1,2,1,1,2,8,1,2,1,1,5,1,1,1,2,1,3,2,1,3,1,2,2,3,1,1,2,2,1,2,1,2,4,1,1,1,7,2,2,1,2,1,1,3,1,1,1,2,4,1,1,1,1,2,1,6,4,5,1,5,1,1,1,5,1,9,1,1,1,1,1,3,1,1,1,3,1,1,2,3,1,9,1,8,1,2,1,2,1,3,1,6,1,6,1,12,1,3"/><path d="M77 264.5h279" stroke-dasharray="1,2,2,6,1,2,1,1,1,2,1,1,1,3,1,7,1,2,1,18,1,1,2,4,1,5,3,1,1,2,2,10,1,1,1,6,2,1,1,3,2,3,1,1,1,1,1,5,1,1,1,4,1,2,1,3,1,1,1,7,1,2,2,2,1,1,1,1,2,3,1,7,1,1,1,1,1,14,1,1,1,2,1,2,1,2,1,10,1,8,1,5,1,1,1,3,1,9,1,5,1,5,2,3,1,1,3,8,2,4,1,3"/><path d="M77 265.5h279" stroke-dasharray="0,9,1,4,1,7,1,5,1,13,1,10,1,14,1,2,1,1,4,8,2,2,1,5,1,1,1,1,2,2,2,1,1,2,2,4,1,6,1,3,2,1,1,3,1,2,1,1,3,3,1,1,1,14,1,1,1,2,1,1,1,1,1,3,1,13,4,3,2,10,1,4,1,3,2,2,1,20,1,1,1,5,1,2,2,16,1,1,1,4,1,1"/><path d="M77 266.5h279" stroke-dasharray="0,16,1,1,1,4,1,2,3,8,1,7,2,5,1,1,2,3,1,1,1,2,1,6,1,1,2,1,2,5,1,2,1,5,1,1,1,2,2,1,2,1,1,1,2,1,1,4,2,2,1,2,3,1,1,3,2,1,1,4,1,1,3,1,2,3,3,5,2,2,2,3,1,3,1,3,2,1,1,4,1,6,2,3,1,3,1,3,1,5,1,2,1,1,1,15,5,4,2,2,2,4,1,4,1,1,1,2,1,4,1,1,2,1,2,3,1,1,1,1,1,2,1"/><path d="M77 267.5h279" stroke-dasharray="0,10,1,5,1,24,1,1,1,6,1,1,1,14,1,3,1,2,1,4,2,4,1,1,1,5,1,2,1,2,1,4,1,3,1,4,1,1,1,2,1,2,1,2,1,7,1,1,3,4,4,2,1,2,1,1,1,3,1,8,3,2,1,1,2,1,1,7,1,6,4,8,1,14,1,4,1,5,2,4,1,1,1,1,1,10,1,5,1,3,1,1,1,2,1,4,1,4,1,4"/><path d="M77 268.5h279" stroke-dasharray="2,6,1,27,1,3,2,1,2,2,1,2,1,4,2,4,1,1,1,1,2,2,1,1,1,4,1,1,1,1,1,2,1,18,1,3,1,7,2,9,2,3,1,1,2,1,3,3,1,1,1,1,1,2,1,5,2,2,1,10,1,1,1,4,1,9,1,4,2,3,2,1,2,5,1,2,1,4,1,3,1,8,1,1,2,7,1,8,2,6,2,1,1,9,1,8,2"/><path d="M77 269.5h279" stroke-dasharray="0,3,1,1,2,1,2,4,1,3,1,6,1,3,1,7,1,3,3,5,1,1,1,1,1,4,1,1,2,2,2,2,1,4,1,2,1,1,2,1,3,3,1,1,2,2,1,1,2,1,3,2,2,5,2,1,7,1,1,4,2,3,1,1,1,2,5,4,1,1,2,1,2,1,2,2,1,1,1,1,1,2,1,1,2,2,1,2,2,4,2,3,1,3,1,4,1,1,1,4,1,3,3,3,1,2,1,2,1,1,1,3,1,2,1,2,1,2,1,7,2,2,1,1,2,1,1,1,1,2,1,1,1,2,1,4,1,4,3,1,1,3,1,1,1"/><path d="M77 270.5h279" stroke-dasharray="0,3,1,2,1,7,2,2,2,8,2,8,1,14,1,2,1,3,2,2,1,3,1,3,2,2,1,5,2,3,2,1,1,1,1,1,1,3,1,3,1,2,2,1,1,7,1,6,1,1,2,1,1,3,2,2,1,5,2,1,3,2,1,1,1,2,1,2,2,1,1,2,4,9,1,7,1,3,1,6,1,6,2,3,1,3,2,3,1,2,1,9,1,1,1,1,1,7,1,4,1,7,1,1,1,5,1,2,1,2,1,4,1,3,1"/><path d="M77 271.5h279" stroke-dasharray="0,3,1,4,3,1,2,1,1,4,1,1,3,2,1,3,3,3,1,6,1,2,1,4,3,2,1,11,1,4,1,1,1,4,1,2,2,1,2,2,2,3,1,2,2,3,6,3,1,1,1,1,3,3,2,2,5,5,3,2,3,1,1,1,4,4,1,4,1,1,1,3,2,2,2,2,1,2,1,1,1,4,4,4,1,1,1,2,1,1,1,1,1,6,1,7,1,8,1,3,1,1,1,1,1,2,6,1,1,1,1,2,1,5,1,1,1,4,1,5,1,1,3,3,3"/><path d="M77 272.5h279" stroke-dasharray="0,8,1,3,1,1,1,6,4,1,1,9,1,3,4,10,1,2,1,1,1,5,4,4,1,2,2,2,3,4,2,2,3,1,1,2,2,5,1,2,3,2,1,2,1,1,2,1,1,1,2,5,3,3,1,1,1,3,2,1,1,3,1,1,1,3,1,1,4,3,2,2,1,12,1,1,3,1,1,1,1,4,1,7,1,11,1,6,2,2,1,5,4,4,3,3,1,8,1,12,1,2,1,1,1,1,2,1,1,1"/><path d="M77 273.5h279" stroke-dasharray="0,8,1,7,1,6,4,3,1,5,1,9,1,3,1,1,4,6,1,1,2,4,1,2,1,3,2,2,1,2,1,1,1,1,1,1,1,5,2,3,1,1,4,2,2,3,2,2,3,1,2,1,10,2,1,5,2,2,1,1,2,1,2,2,3,2,3,2,2,1,2,1,2,6,1,6,1,2,1,1,1,9,2,1,2,1,2,5,1,5,1,1,2,1,3,6,1,1,2,5,1,4,1,4,1,13,1,5,1,1,2,1"/><path d="M77 274.5h279" stroke-dasharray="0,3,1,6,1,23,1,4,1,14,1,9,1,6,1,2,1,2,1,5,3,1,1,1,2,2,1,14,1,5,1,2,3,1,1,2,2,1,2,1,1,2,1,4,2,4,1,3,2,1,1,5,1,3,2,1,2,2,1,2,1,1,1,1,1,2,1,1,1,1,2,21,1,9,1,3,1,2,1,2,2,3,1,1,3,2,1,2,2,16,2,4,2,13"/><path d="M77 275.5h279" stroke-dasharray="0,2,1,1,1,8,1,7,1,5,1,17,1,4,1,3,1,7,2,6,1,4,1,1,2,2,1,4,1,9,3,1,2,4,1,1,1,2,1,2,2,11,1,3,1,3,1,1,2,1,3,2,1,1,1,2,2,7,3,1,2,2,1,1,3,9,1,7,1,2,1,3,1,4,1,3,2,3,1,3,1,3,1,2,1,4,2,6,2,1,1,5,2,28,1,2,1,2"/><path d="M77 276.5h279" stroke-dasharray="0,3,1,1,1,1,1,1,1,1,2,2,1,4,1,2,2,5,1,5,3,3,1,2,1,1,1,2,1,6,2,3,2,2,3,6,5,4,1,2,1,5,1,4,1,2,1,5,1,3,4,4,1,2,1,2,4,1,2,5,1,1,1,1,4,3,2,1,1,1,1,1,6,2,6,3,1,3,1,2,1,3,2,3,2,2,3,2,1,2,2,2,1,1,3,1,1,3,1,1,1,3,1,2,1,4,1,2,1,2,1,4,1,12,1,1,1,3,1,6,1,2,1,2,1,3,1,1,2"/><path d="M77 277.5h279" stroke-dasharray="0,3,1,1,2,3,2,1,2,6,2,1,1,1,1,2,1,2,2,1,1,1,1,10,1,2,3,1,4,4,1,2,1,5,3,3,1,3,3,1,3,2,1,5,1,3,1,1,1,5,3,1,1,1,1,5,3,1,2,2,1,3,1,4,2,3,1,1,1,7,2,1,2,3,2,1,1,4,2,3,1,1,6,5,1,3,1,4,1,15,4,5,1,6,1,5,1,4,2,6,2,2,1,1,2,3,1,3,1,3,2,2,1,1,1,1,1,1,1,2"/><path d="M77 278.5h279" stroke-dasharray="0,2,1,3,2,8,1,2,1,1,1,1,2,6,1,1,2,1,1,3,2,3,1,2,2,1,3,2,1,1,2,4,2,3,1,1,1,5,1,5,2,2,1,1,1,4,2,8,2,2,1,3,1,4,3,5,2,1,3,2,1,1,1,1,1,6,1,1,1,2,1,3,2,3,3,4,4,1,2,4,2,2,1,2,1,9,1,1,1,3,1,1,1,4,1,2,3,1,3,10,1,2,1,1,1,1,1,1,3,11,1,2,1,1,2,1,2,6,1,2,2,6,1,2"/><path d="M77 279.5h279" stroke-dasharray="0,5,1,1,1,3,1,9,1,12,2,1,1,11,1,5,1,10,2,2,2,8,2,1,1,1,1,3,1,1,2,1,1,5,1,2,1,4,2,8,1,5,1,1,1,1,1,7,1,1,2,1,1,7,1,3,2,6,1,2,1,6,1,6,1,1,1,6,1,2,1,2,1,1,1,11,1,1,1,7,1,9,1,2,1,3,1,5,2,1,1,4,1,9,1,2,2,3,1,1,1,3,1,1,1,4"/><path d="M77 280.5h279" stroke-dasharray="3,2,1,2,1,2,1,1,1,10,1,3,1,4,1,2,1,13,2,4,1,7,6,2,1,6,1,2,1,6,1,2,1,1,1,2,2,4,2,4,1,1,2,1,2,1,1,2,2,2,1,5,1,5,1,6,2,1,1,1,3,2,1,2,1,2,2,1,1,1,1,2,4,2,1,4,1,3,1,3,1,8,2,10,1,3,1,2,1,1,1,5,1,14,1,6,1,3,3,1,1,20,1,3,1,1"/><path d="M77 281.5h279" stroke-dasharray="1,3,1,6,1,3,4,3,2,5,3,3,2,2,1,1,1,2,2,3,1,1,1,1,1,4,1,7,2,4,2,1,1,1,1,3,2,3,1,2,1,4,2,7,1,3,1,2,1,5,1,1,1,1,1,2,1,2,1,1,2,5,1,8,1,3,1,4,1,4,1,2,3,1,1,1,2,4,1,1,2,1,1,1,1,1,1,4,1,3,1,4,2,5,1,1,2,2,1,1,2,4,1,2,1,1,1,2,1,2,4,4,1,3,1,1,1,1,1,5,1,9,1,3,2,2,2,3,3,2,1"/><path d="M77 282.5h279" stroke-dasharray="0,4,2,2,1,3,2,8,1,2,1,4,1,1,1,1,1,4,1,5,1,6,1,3,1,4,1,2,1,2,1,6,1,4,2,4,2,5,1,2,2,4,1,1,1,2,1,1,1,4,1,2,1,2,2,1,1,1,2,2,1,1,1,1,5,1,1,1,4,1,1,1,3,1,1,2,2,1,1,1,1,1,1,1,2,7,3,5,1,4,1,2,1,4,1,1,2,2,1,2,1,3,1,2,1,2,1,1,1,1,1,3,2,1,3,1,1,8,1,2,1,2,2,4,2,2,1,2,1,4,2,1,1,1,1,3,1,1,1,2,1,1,1,2"/><path d="M77 283.5h279" stroke-dasharray="1,1,2,1,1,2,1,1,2,1,1,4,1,3,1,2,1,3,1,4,1,4,3,1,1,4,1,6,1,8,1,1,2,5,1,1,1,8,1,1,1,1,2,4,3,2,2,9,3,2,3,3,3,2,1,2,1,2,1,1,1,2,3,2,1,2,1,2,1,1,3,5,1,1,4,1,1,1,2,4,1,2,1,1,1,4,2,1,2,3,2,5,2,1,1,1,1,3,1,2,3,8,1,1,1,6,1,1,2,4,2,2,2,1,1,3,1,4,1,3,2,1,2,2,1,3,1,4,1,2,1,1"/><path d="M77 284.5h279" stroke-dasharray="0,9,1,13,1,1,1,9,1,1,2,5,1,11,1,5,1,9,2,2,1,21,2,5,2,4,1,4,2,4,1,1,2,2,1,1,1,8,1,1,1,2,3,4,5,2,1,1,1,18,1,1,1,12,1,12,1,4,1,3,1,3,1,3,3,1,1,3,1,1,1,5,1,2,1,6,1,5,1,1,1,12,1,3,1,3"/><path d="M77 285.5h279" stroke-dasharray="0,2,1,4,1,6,1,6,1,9,1,19,1,1,1,6,1,4,1,10,1,1,2,9,2,3,3,1,1,1,2,6,3,1,1,4,2,2,1,1,1,2,3,5,3,5,1,1,1,8,1,1,2,2,1,1,3,1,2,1,1,2,1,2,1,2,1,2,1,3,1,2,1,2,1,2,3,19,1,9,1,3,1,2,1,1,1,3,3,10,1,19,1,4,1,2"/><path d="M77 286.5h279" stroke-dasharray="0,1,1,3,1,8,1,5,1,1,1,5,2,5,1,16,2,5,1,6,1,9,1,8,1,1,1,11,1,3,1,2,1,2,1,7,1,1,2,7,1,5,1,2,1,1,1,3,1,3,1,2,1,3,1,7,1,2,1,1,1,1,1,3,4,6,1,9,1,21,1,5,1,4,1,1,1,7,1,4,1,29,1,6,1"/><path d="M77 287.5h279" stroke-dasharray="0,2,2,3,1,2,1,2,1,4,1,1,1,3,2,2,1,1,2,2,2,15,1,7,1,1,2,10,1,1,1,1,1,3,1,1,2,1,2,1,1,1,3,3,5,1,2,1,2,1,3,1,1,4,3,1,1,1,2,1,1,1,2,1,2,1,2,3,5,1,1,2,2,1,1,2,2,2,1,2,3,1,1,1,1,1,1,5,1,2,1,2,1,2,4,5,1,2,1,5,4,3,1,1,1,1,5,3,2,4,1,11,2,5,1,10,1,5,1,1,2,1,1,1,1,3,1,1,1,1"/><path d="M77 288.5h279" stroke-dasharray="0,2,1,7,1,7,1,4,1,3,2,7,1,8,1,1,1,2,1,9,1,4,1,8,1,10,1,1,1,4,2,4,1,12,1,4,1,2,1,1,1,4,1,3,1,3,3,2,2,1,2,3,1,5,1,1,6,1,1,3,1,4,2,8,1,3,1,1,1,3,1,5,1,6,1,1,1,3,1,1,1,1,2,9,2,2,1,14,1,1,1,1,1,3,1,9,1,3,2,7,1,1,1,1"/><path d="M77 289.5h279" stroke-dasharray="0,6,1,12,1,5,1,3,1,14,1,5,1,12,2,3,1,2,1,1,1,6,1,2,1,5,1,3,3,2,1,4,1,1,1,7,3,5,1,2,1,1,1,6,3,4,1,4,1,1,1,8,2,4,1,1,1,5,1,5,1,4,1,2,1,5,3,4,1,8,1,9,3,15,2,5,1,2,1,7,1,1,1,2,1,1,1,3,1,2,1,5,1,6"/><path d="M77 290.5h279" stroke-dasharray="1,1,1,13,1,1,1,2,1,9,1,7,2,7,1,8,1,2,2,4,1,4,1,4,2,1,1,1,1,2,3,2,1,2,2,2,1,2,1,5,1,1,1,1,1,1,1,1,1,6,1,1,1,1,2,1,1,1,6,5,1,6,1,1,1,2,2,2,1,3,3,3,2,9,1,6,1,5,3,4,2,1,1,2,1,2,1,6,2,1,1,1,1,2,1,4,2,2,1,8,1,4,3,2,2,1,2,3,1,3,1,4,1,5,3,4"/><path d="M77 291.5h279" stroke-dasharray="1,1,1,5,1,3,1,9,3,6,1,14,1,2,2,4,1,1,1,2,1,3,2,8,1,1,1,5,1,5,1,3,1,3,2,2,1,7,1,1,1,1,3,4,3,1,1,1,1,1,1,2,1,4,1,4,2,1,2,2,1,3,1,1,1,3,2,4,1,4,1,2,2,6,1,4,1,5,1,3,1,1,1,1,1,1,2,3,1,4,1,6,2,1,1,2,3,1,1,6,1,4,1,2,1,4,2,1,1,4,1,9,1,5,1,2,2,1,1,1"/><path d="M77 292.5h279" stroke-dasharray="0,12,1,4,1,23,1,5,2,5,1,3,1,5,2,2,1,1,1,1,1,1,1,4,2,15,3,7,1,9,1,1,1,6,1,3,3,5,1,4,2,5,4,3,1,1,1,1,1,4,1,6,1,15,1,13,2,11,1,4,1,2,1,14,1,1,1,4,1,10,1,4,1,1,1,1,1,13"/></g><g stroke="#9a3434" stroke-width="1" fill="none" stroke-opacity="0.9"><path d="M77 294.5h279" stroke-dasharray="0,7,1,7,1,7,1,4,1,36,1,14,1,20,1,7,1,14,1,2,1,6,1,3,2,6,1,3,1,10,1,1,1,3,3,3,1,7,1,4,2,2,1,6,1,18,1,7,1,13,1,2,1,3,1,2,1,2,1,1,1,16,2,4,1,2"/><path d="M77 295.5h279" stroke-dasharray="0,7,1,2,1,1,1,2,1,3,1,2,1,4,1,4,1,33,1,3,1,4,1,2,1,22,1,6,1,10,1,5,1,1,3,3,1,3,1,3,1,4,1,1,1,2,1,1,2,1,1,1,2,5,1,7,3,1,1,5,1,1,1,6,1,2,1,3,1,1,1,1,2,2,1,8,1,12,1,5,1,6,1,1,1,2,4,1,2,2,2,1,1,13,2,4"/><path d="M77 296.5h279" stroke-dasharray="0,14,1,3,1,9,1,5,1,1,1,1,2,13,1,7,1,2,1,4,1,7,1,15,1,1,1,5,1,7,2,4,1,5,1,2,2,1,2,17,1,1,2,1,2,3,2,1,2,5,1,3,3,6,2,4,1,1,1,4,1,4,1,6,2,3,1,5,1,3,1,2,1,13,1,2,1,1,1,5,1,4,2,2,1,3,2,1,1,2,1,1,2,3,1,2,1,2"/><path d="M77 297.5h279" stroke-dasharray="0,2,1,1,2,8,1,5,2,2,1,3,1,4,1,12,1,1,1,9,1,3,1,16,2,1,1,3,1,4,1,5,1,5,1,1,1,2,2,2,1,6,2,2,1,1,1,3,1,1,1,2,1,11,2,1,1,1,1,1,1,2,2,3,1,2,1,2,1,2,1,1,2,3,2,7,1,2,2,1,1,3,1,1,1,2,1,4,1,4,2,1,1,2,1,11,1,8,1,1,2,1,1,4,1,3,2,1,1,1,1,1,1,2,1,1,1,2,1,1,1,3,1,2,2,1"/><path d="M77 298.5h279" stroke-dasharray="1,5,1,9,2,3,1,6,1,9,1,11,2,9,1,7,1,1,1,1,1,21,1,2,1,3,1,10,1,3,1,13,1,4,1,2,4,6,2,1,1,3,2,7,2,5,1,4,1,2,2,5,2,2,1,1,1,3,1,17,2,3,3,2,1,2,1,3,2,1,1,5,1,1,1,7,2,3,5,3,1,3,2,1,1,4,1,1,1"/><path d="M77 299.5h279" stroke-dasharray="0,3,2,5,1,1,1,2,1,9,1,1,2,1,1,1,1,2,1,14,1,3,2,1,1,6,3,1,1,4,3,8,1,4,2,7,1,6,2,8,1,2,3,5,2,3,1,6,1,3,1,4,1,1,2,1,1,1,1,2,1,3,2,2,2,3,2,2,1,7,1,2,2,2,2,1,4,5,3,4,1,1,2,1,2,1,1,4,1,9,1,5,1,4,4,2,1,6,1,4,1,3,2,10,1,1,1"/><path d="M77 300.5h279" stroke-dasharray="0,2,1,1,3,1,1,10,1,1,1,6,1,34,1,11,4,4,2,4,1,1,1,3,2,8,3,7,1,9,3,1,1,2,3,2,1,2,3,8,1,1,1,2,1,1,1,9,2,6,1,1,2,1,1,1,2,2,1,1,1,2,1,2,1,1,1,3,1,1,1,2,9,5,2,4,3,4,2,3,1,1,1,10,1,1,1,2,1,2,1,2,1,2,1,1,1,3,1,3,2,1,1"/><path d="M77 301.5h279" stroke-dasharray="0,1,1,4,1,1,1,7,1,6,1,3,1,10,1,8,1,4,1,5,1,5,1,3,1,36,1,3,1,9,1,1,1,8,1,5,1,7,2,10,1,7,2,5,1,1,1,3,1,7,1,18,1,1,1,3,1,26,1,3,1,2,1,1,1,1,1,6,1,2,1,3,1,2,1,6,1,6"/><path d="M77 302.5h279" stroke-dasharray="0,1,1,2,1,5,2,2,1,3,2,7,1,2,1,2,1,3,1,1,1,4,1,5,2,14,1,1,2,5,1,1,1,8,1,19,1,4,3,1,1,4,1,5,1,1,1,1,3,3,5,1,5,3,2,2,3,3,1,2,1,2,3,4,2,6,4,2,2,3,1,5,1,2,3,3,1,4,1,1,2,2,1,1,1,7,1,10,1,6,2,1,1,1,1,5,1,1,1,4,1,1,3,1,1,4,1,1,1,1"/><path d="M77 303.5h279" stroke-dasharray="0,2,1,2,1,6,1,2,1,1,2,1,1,1,3,6,1,4,2,19,1,8,1,4,1,2,2,9,1,14,1,7,1,14,2,5,1,1,1,1,1,1,1,1,1,1,3,2,1,3,2,1,1,3,1,1,1,3,1,4,1,4,1,10,1,3,1,1,1,4,2,2,4,4,1,3,1,2,1,1,1,2,2,2,1,4,2,2,1,4,2,3,1,2,1,7,1,2,2,6,1,1,1,1,2,5,1,2,1,1"/><path d="M77 304.5h279" stroke-dasharray="0,3,2,4,1,10,1,2,1,7,1,2,1,11,1,7,1,5,1,3,1,4,3,8,1,2,2,1,1,1,1,5,1,5,1,15,1,1,1,4,1,1,1,4,2,1,2,3,2,3,3,1,1,3,2,1,1,3,3,2,5,1,1,5,1,7,1,1,1,1,1,5,1,6,1,1,1,1,2,3,2,1,1,2,1,8,1,2,3,1,1,2,1,2,1,5,1,8,3,7,1,2,1,4,1,2,1,2,2,1"/><path d="M77 305.5h279" stroke-dasharray="0,4,1,5,1,4,1,4,3,2,1,1,1,3,2,3,1,2,1,1,1,8,2,6,2,9,1,3,2,5,1,7,1,5,1,2,1,8,1,2,1,8,2,2,1,1,3,10,3,1,1,1,2,2,2,1,2,2,2,6,1,1,2,1,1,2,2,2,1,1,1,5,1,3,1,1,1,2,1,3,1,3,1,3,1,5,1,2,2,1,2,1,2,2,2,2,1,1,2,2,2,7,3,5,1,2,1,2,2,5,1,1,1,3,2,2,1,1,1,4"/><path d="M77 306.5h279" stroke-dasharray="0,1,2,5,3,1,1,5,2,2,1,1,2,2,1,2,1,3,1,4,2,10,1,1,1,1,1,3,1,2,1,7,1,1,2,3,2,18,1,5,1,1,3,3,1,4,3,1,1,5,1,2,1,1,3,8,1,2,2,4,2,1,1,3,1,3,1,2,1,9,2,1,2,4,1,1,1,2,1,1,2,1,1,1,1,2,3,4,1,1,1,3,2,5,1,2,2,1,1,3,1,1,2,5,1,1,1,6,1,4,2,3,1,3,1,2,1,1,1,1,1,1,2,5,1"/><path d="M77 307.5h279" stroke-dasharray="0,5,2,3,1,10,1,6,1,1,1,12,1,13,1,7,1,10,1,13,1,4,1,4,1,5,1,1,1,5,2,12,1,3,1,6,1,1,1,2,1,4,1,1,2,9,1,9,2,19,1,3,1,3,1,3,1,2,3,2,2,4,1,6,1,3,1,1,1,3,1,3,1,4,1,1,1,2,1,2,1,10,1,6,1,1,1,2,1,1,1"/><path d="M77 308.5h279" stroke-dasharray="0,1,1,2,1,3,1,5,2,3,1,2,1,1,1,1,1,2,1,2,1,2,1,1,1,14,1,4,1,5,1,2,1,9,1,4,1,4,1,23,2,3,3,8,1,1,1,1,1,1,1,2,1,4,1,2,1,5,1,2,2,1,1,1,1,1,1,1,2,2,2,3,1,1,1,3,1,1,1,3,1,2,1,3,1,1,1,2,1,2,1,10,1,10,1,5,1,3,1,3,1,2,2,1,2,3,3,6,1,6,1,7,3,1,1,1,2,3"/><path d="M77 309.5h279" stroke-dasharray="0,13,1,2,2,11,1,1,1,9,1,9,1,7,1,11,1,7,1,2,1,13,2,4,1,1,1,7,1,2,1,6,1,11,1,21,1,8,1,4,1,4,1,2,1,17,2,10,1,7,1,8,1,5,1,15,1,15,1,8,1,3,1,2"/><path d="M77 310.5h279" stroke-dasharray="0,7,1,7,1,4,1,7,1,1,1,4,2,4,1,1,1,13,1,2,1,1,1,3,1,3,1,5,1,8,1,4,1,5,1,4,1,7,1,2,2,7,3,3,1,8,1,6,2,1,1,4,1,8,2,2,1,30,1,2,1,1,1,4,1,1,2,1,1,2,1,1,1,3,1,7,1,5,1,9,1,2,1,9,1,8,2,1,1,2,1,6,1"/><path d="M77 311.5h279" stroke-dasharray="1,1,1,1,1,1,1,1,1,1,1,1,1,2,3,4,3,1,2,6,1,3,1,8,2,1,1,20,1,1,1,1,1,9,1,3,1,1,1,5,1,3,1,4,3,1,1,8,1,3,1,4,1,4,1,1,2,3,1,2,1,3,8,4,1,1,1,3,2,6,2,1,1,3,1,1,4,4,1,5,2,1,3,1,1,1,1,2,1,1,1,1,2,2,2,6,6,2,5,2,1,5,1,2,2,3,1,2,3,3,2,1,1,2,3,1,2,1,4"/><path d="M77 312.5h279" stroke-dasharray="0,2,1,2,1,1,1,18,1,10,1,1,1,22,1,9,1,17,1,9,1,8,1,1,1,9,1,4,1,5,1,3,2,4,1,5,1,10,1,16,1,5,1,6,2,17,1,4,1,1,1,5,1,4,1,2,1,7,1,9,1,11,2,4,1,2,1,1,1,3,1,4"/><path d="M77 313.5h279" stroke-dasharray="0,1,1,10,2,8,1,4,1,1,1,1,1,3,1,5,1,4,1,6,1,1,1,15,1,1,2,13,1,4,1,1,1,1,4,3,1,6,2,1,1,2,1,4,1,1,1,5,2,6,3,6,1,5,2,1,1,6,4,2,1,1,1,10,1,8,1,2,1,2,1,3,2,2,1,11,1,6,1,7,2,2,1,4,3,1,1,10,1,6,2,6,1,3,2,1,1"/><path d="M77 314.5h279" stroke-dasharray="0,2,2,1,1,14,1,6,1,37,2,4,1,1,1,27,1,26,1,18,1,13,2,12,1,13,3,6,1,6,2,6,1,4,1,2,1,1,1,1,1,3,1,2,1,2,1,6,2,10,5,4,1,15"/><path d="M77 315.5h279" stroke-dasharray="0,1,1,6,1,6,3,2,2,1,2,3,1,1,1,5,2,9,1,13,1,2,1,3,2,1,1,1,1,1,1,1,2,2,1,1,1,1,1,5,1,1,1,5,1,2,1,4,1,4,1,3,1,2,1,1,2,2,1,3,1,2,1,3,3,1,2,4,1,1,1,2,2,2,1,6,2,2,1,3,5,9,1,2,1,1,1,9,2,1,2,2,1,2,8,7,1,2,1,3,2,1,2,4,1,1,4,8,2,1,1,4,1,2,2,2,1,3,1,1,2,2"/><path d="M77 316.5h279" stroke-dasharray="0,6,1,4,1,1,1,2,1,1,1,4,1,1,1,8,1,7,1,10,1,2,1,3,1,1,1,13,1,3,1,10,2,1,1,8,2,2,1,13,4,1,1,8,1,4,1,1,1,4,1,5,1,10,1,3,1,8,2,1,2,2,1,3,1,9,1,3,1,1,2,1,2,2,1,2,1,2,2,1,1,9,1,2,2,2,2,3,1,4,1,2,1,1,1,3,3,1,2,2,3,3,1,1,1,6"/><path d="M77 317.5h279" stroke-dasharray="0,1,1,1,1,1,2,1,2,23,1,3,2,5,1,2,1,21,1,8,1,22,1,8,1,2,3,7,2,1,1,3,1,11,1,9,1,1,1,9,1,1,2,8,1,5,1,2,1,13,4,6,3,4,1,4,1,7,1,8,4,8,1,5,2,1,1,1,1,6,1,1,1,8"/><path d="M77 318.5h279" stroke-dasharray="0,1,1,1,2,2,3,5,2,4,1,3,2,27,1,2,1,19,1,6,1,3,1,5,1,2,2,7,1,5,1,1,2,14,1,4,1,3,1,1,3,14,2,3,1,3,1,2,2,11,2,1,1,2,1,9,2,2,2,3,1,12,1,4,1,10,2,1,1,4,1,9,1,6,1,1,1,2,3,2,1,6"/><path d="M77 319.5h279" stroke-dasharray="0,10,1,8,1,1,1,3,1,15,1,5,1,10,1,1,1,7,1,12,1,4,1,3,1,11,1,11,1,2,1,2,1,13,1,5,1,1,1,2,1,9,1,3,1,1,1,11,1,2,1,2,2,8,1,11,1,4,2,11,2,4,1,2,1,22,1,2,1,1,2,9,1,1,1,5,1,3"/><path d="M77 320.5h279" stroke-dasharray="0,6,1,1,2,3,3,2,2,2,3,1,1,5,2,13,1,1,1,3,1,17,1,14,1,4,1,1,1,1,1,13,3,3,2,6,1,6,1,2,1,1,1,6,2,3,1,1,1,2,1,3,1,3,1,1,1,3,2,5,1,2,1,4,1,1,2,5,3,1,1,1,1,3,1,5,2,5,2,2,3,2,1,9,1,2,1,5,2,6,1,1,1,3,1,5,1,1,1,2,3,1,1,1,1,2,1,2,1"/><path d="M77 321.5h279" stroke-dasharray="0,4,1,5,1,1,1,1,1,8,1,3,1,2,2,1,1,1,2,10,1,1,1,3,1,5,1,9,1,1,1,1,1,3,1,2,1,2,3,1,2,5,2,4,2,15,1,1,1,4,4,3,1,3,1,8,1,1,1,3,2,4,1,4,1,2,1,10,1,2,1,4,1,5,1,10,4,3,1,5,1,1,1,7,2,5,1,1,1,5,2,1,1,3,3,1,2,1,1,2,1,2,1,4,1,14,1"/><path d="M77 322.5h279" stroke-dasharray="0,4,1,1,1,4,1,8,1,6,1,3,1,1,2,21,1,8,1,9,1,22,1,4,1,5,1,1,2,7,1,2,1,7,1,1,1,2,3,3,1,4,1,4,1,3,1,13,1,3,2,1,1,2,1,1,3,3,1,2,1,2,1,2,4,6,1,1,1,1,1,6,4,1,1,22,2,2,1,4,2,1,2,17,2"/><path d="M77 323.5h279" stroke-dasharray="1,2,1,1,1,1,1,1,3,3,1,1,2,1,1,1,1,11,1,1,1,1,1,1,1,12,1,9,2,5,1,6,1,5,1,5,1,5,1,4,1,6,1,1,1,1,1,1,1,6,2,4,1,3,1,2,1,2,1,2,1,2,1,3,2,1,1,1,4,2,1,1,4,3,1,1,2,4,1,1,3,2,1,3,2,4,1,2,1,1,1,4,1,6,1,1,2,1,1,1,1,1,1,1,1,2,1,2,1,5,2,7,3,2,1,3,1,3,1,2,2,3,1,1,1,4,3,2,1,1,1,2,1"/><path d="M77 324.5h279" stroke-dasharray="3,5,1,1,1,2,1,12,1,7,2,4,1,19,1,4,2,1,2,1,1,3,1,8,1,4,1,5,1,2,1,7,1,4,2,6,1,4,2,2,1,4,1,2,4,1,1,4,1,7,1,1,1,6,2,3,1,12,1,2,1,7,2,2,1,1,2,1,1,1,2,4,1,1,1,1,1,1,2,2,2,8,1,2,1,7,1,7,2,4,1,12,1,1,1,4,3,2"/><path d="M77 325.5h279" stroke-dasharray="0,1,1,7,2,5,3,26,1,2,1,15,1,1,2,2,1,3,1,14,1,1,1,3,1,2,1,5,1,6,2,8,1,5,1,2,1,8,3,2,3,2,1,4,2,1,1,11,1,1,1,2,1,4,1,1,2,1,2,6,3,1,1,2,2,2,1,1,1,2,1,4,3,2,1,2,1,9,1,1,1,2,1,8,1,8,3,4,1,8,1,3,1,4"/><path d="M77 326.5h279" stroke-dasharray="0,2,1,10,1,2,1,3,1,17,2,3,1,29,1,12,1,14,1,6,1,11,1,1,1,2,2,7,1,3,1,1,1,3,1,13,1,1,2,7,1,1,1,1,1,3,1,2,1,6,1,1,1,4,1,2,3,2,1,2,3,1,1,2,2,3,1,2,1,2,1,4,1,8,1,4,1,5,1,3,1,21,1,4"/><path d="M77 327.5h279" stroke-dasharray="0,3,1,5,1,7,1,3,1,10,2,10,2,2,1,4,1,9,2,17,1,7,1,3,1,8,2,1,1,1,1,4,2,1,1,6,1,2,1,5,1,3,3,3,1,1,1,5,1,2,2,2,2,6,1,21,1,4,2,1,1,2,1,2,1,4,5,1,1,10,1,1,1,7,1,4,2,2,1,5,1,1,1,4,1,1,3,2,1,6,1,2,1,6"/><path d="M77 328.5h279" stroke-dasharray="1,2,3,1,1,4,5,2,1,11,2,1,1,1,1,3,2,5,1,3,1,8,1,4,1,10,1,6,3,11,1,5,3,8,1,4,1,1,3,2,1,3,1,3,1,4,1,1,1,4,2,1,1,4,2,2,1,1,2,1,2,2,2,6,1,3,1,3,1,1,1,3,2,5,4,5,4,3,2,9,1,3,1,5,2,1,1,1,1,1,1,2,1,1,1,3,1,2,1,1,1,1,2,1,1,6,1,2,1,9"/><path d="M77 329.5h279" stroke-dasharray="0,2,1,17,1,10,2,3,2,35,1,2,1,11,1,1,1,11,2,8,1,1,1,1,1,8,1,6,1,1,1,2,1,30,1,17,1,9,1,2,1,2,1,7,2,4,3,2,1,2,1,1,2,5,1,9,1,1,1,1,2,3,1,25,1"/><path d="M77 330.5h279" stroke-dasharray="0,8,1,4,1,1,1,1,1,2,1,11,1,4,1,25,1,1,1,8,1,1,1,1,1,5,1,1,1,10,1,6,2,1,1,2,1,8,2,1,1,6,1,4,1,4,1,12,1,11,1,1,1,8,1,1,1,13,1,4,1,3,1,3,1,3,1,3,2,3,1,3,2,1,1,1,1,1,2,4,1,1,1,2,1,10,1,6,1,2,1,1,4,7,1,5"/><path d="M77 331.5h279" stroke-dasharray="0,7,3,1,1,3,1,1,1,3,1,2,1,5,1,2,2,7,1,20,1,2,1,2,1,1,1,8,1,13,2,13,1,8,1,2,2,2,1,1,1,5,1,4,3,2,1,1,1,10,1,2,1,3,1,1,1,5,1,1,2,12,1,5,3,2,1,17,2,3,1,5,2,3,1,5,1,1,1,1,2,1,1,5,1,3,2,2,2,3,1,14"/><path d="M77 332.5h279" stroke-dasharray="0,5,1,13,1,1,1,15,1,7,1,9,1,3,1,5,1,22,2,1,1,4,1,7,1,2,1,2,1,7,2,5,1,4,3,1,1,2,2,3,1,4,1,10,1,4,1,3,1,1,1,2,2,5,1,7,1,1,1,9,1,9,2,6,1,7,1,1,1,13,1,3,1,2,1,17,1,5,1,1,1,4"/><path d="M77 333.5h279" stroke-dasharray="0,6,3,1,1,1,1,2,1,1,1,1,1,6,1,2,1,11,1,24,1,1,1,11,1,5,1,7,1,6,2,5,1,18,2,1,2,3,1,1,1,4,1,13,3,3,1,4,1,4,1,15,1,5,1,4,2,8,1,5,2,2,1,10,1,5,2,1,2,3,1,5,1,1,1,4,1,9,1,1,1,3,2,4"/><path d="M77 334.5h279" stroke-dasharray="0,3,1,6,1,16,1,2,1,1,2,8,1,16,1,8,1,3,1,3,3,15,1,2,1,14,1,3,4,4,1,2,1,1,1,5,2,1,1,1,2,2,2,7,2,2,2,2,2,7,2,2,1,2,4,2,1,1,3,3,2,7,1,3,2,1,1,1,1,6,1,3,1,6,1,2,2,1,1,7,1,2,1,1,1,5,2,3,2,2,1,1,5,3,2,1,1,1,1,2"/><path d="M77 335.5h279" stroke-dasharray="0,3,1,8,1,6,2,5,1,6,1,2,1,32,1,6,1,3,1,4,1,3,2,4,1,5,1,3,1,2,1,2,1,6,1,1,2,2,2,5,1,2,1,2,3,2,2,7,1,2,2,1,2,3,1,2,1,4,1,1,1,3,1,2,4,2,1,3,1,3,1,8,1,1,1,3,1,1,2,2,1,7,1,11,3,3,2,1,1,7,3,1,1,1,3,4,1,3,1,1,1,3,1,3,1"/><path d="M77 336.5h279" stroke-dasharray="1,1,1,6,1,1,2,2,1,1,1,12,2,16,1,22,1,4,1,37,1,12,2,2,1,7,1,3,2,11,1,2,1,2,1,25,1,10,1,6,1,4,1,1,1,2,1,1,1,9,1,5,1,5,1,2,1,10,1,8,1,2,1,7,1,3,1"/><path d="M77 337.5h279" stroke-dasharray="1,4,2,9,3,2,1,7,2,2,1,3,1,5,1,20,1,32,1,6,1,1,2,7,2,4,1,3,2,4,1,6,1,2,2,1,1,10,3,1,1,14,1,3,1,2,3,8,3,2,1,1,1,1,1,1,1,3,1,1,1,1,1,2,1,2,1,2,1,2,1,3,3,2,1,4,1,1,2,6,1,3,1,2,1,1,1,5,2,3,2,5,2,3"/><path d="M77 338.5h279" stroke-dasharray="0,2,1,1,1,1,1,30,2,5,1,6,1,10,1,23,1,35,1,4,1,14,1,4,1,8,1,3,1,7,1,1,1,4,3,5,1,1,1,1,1,5,1,1,1,6,2,5,2,7,1,3,1,8,1,8,1,8,1,6,1,1,1,1,1,2,1,15"/><path d="M77 339.5h279" stroke-dasharray="1,9,1,4,1,4,1,14,1,1,1,2,1,4,2,4,1,1,2,3,1,15,1,1,1,4,1,1,1,2,2,7,1,4,1,3,1,5,1,2,2,1,2,1,1,1,1,2,1,2,2,7,1,8,1,5,7,2,1,1,1,1,1,3,2,2,1,4,1,11,2,2,1,5,1,2,1,3,2,1,1,3,1,1,5,7,2,1,1,2,1,1,1,1,1,2,1,4,1,2,1,1,1,1,1,1,3,2,1,1,1,1,2,3,1,10"/><path d="M77 340.5h279" stroke-dasharray="0,1,1,5,1,12,1,4,1,4,1,19,1,1,1,19,1,6,1,5,1,1,1,17,1,7,1,3,1,3,1,5,1,1,1,5,1,2,1,3,1,1,1,4,1,2,2,2,1,1,1,1,1,3,1,4,1,4,1,3,1,2,1,1,3,4,2,6,1,4,1,6,1,13,1,1,2,2,2,6,1,4,1,1,2,4,1,1,2,7,1,8,1,6,1"/><path d="M77 341.5h279" stroke-dasharray="0,1,1,4,1,53,1,18,1,1,1,1,1,18,2,2,1,8,1,1,1,3,1,10,1,7,1,12,1,4,1,7,4,11,1,9,1,6,1,2,1,1,1,1,2,11,1,10,2,15,1,3,1,4,2,1,1,4,1,2,1,12"/><path d="M77 342.5h279" stroke-dasharray="0,4,1,8,2,2,2,1,1,4,1,1,2,1,1,6,1,7,1,12,1,4,1,10,1,1,1,3,1,17,1,1,1,10,1,3,2,3,1,1,1,3,1,12,1,11,1,5,1,13,1,8,2,3,1,4,1,7,1,6,3,1,1,1,1,4,1,4,1,7,2,2,1,8,1,1,1,1,1,2,1,6,1,9,1,2,1,5,1,1,1,1"/></g><g stroke="#1a3a6c" stroke-width="1" fill="none" stroke-opacity="0.9"><path d="M77 343.5h279" stroke-dasharray="0,3,2,1,1,3,3,1,4,1,1,7,1,5,3,7,1,1,2,1,1,2,1,6,1,6,1,1,1,5,2,2,3,2,1,4,1,1,2,1,1,7,2,2,1,7,1,6,1,6,1,1,3,3,2,3,2,6,2,6,1,6,2,2,1,3,3,4,5,1,2,1,4,1,3,1,1,7,2,1,1,8,3,2,2,2,3,3,1,1,2,1,3,7,2,6,1,4,2,5,8,4,2"/><path d="M77 344.5h279" stroke-dasharray="0,2,3,3,2,4,1,5,1,1,2,2,2,2,1,2,1,10,1,2,1,2,2,2,1,1,1,11,1,2,1,1,1,1,1,1,1,1,3,4,3,2,1,1,1,1,2,5,1,2,1,5,1,2,1,1,1,1,2,8,1,2,1,2,1,6,1,1,1,3,1,3,1,2,1,4,1,3,1,1,1,1,1,1,2,3,1,2,1,1,3,2,1,1,2,1,1,2,1,2,1,2,1,1,2,2,2,2,2,1,3,1,1,2,1,1,3,1,1,2,1,1,2,1,1,3,2,2,4,3,1,7,1,1,3,3,1,6,1,1,3,2,2"/><path d="M77 345.5h279" stroke-dasharray="1,14,1,3,1,2,1,4,1,5,1,2,1,11,1,4,1,2,1,1,3,1,1,1,5,1,3,1,1,2,1,3,1,3,2,2,2,5,1,6,1,2,1,3,1,4,1,2,1,3,1,5,1,5,2,1,2,3,1,1,1,3,1,2,1,4,1,6,1,2,4,13,1,1,1,2,1,6,5,6,1,6,1,1,1,5,1,6,2,2,1,6,2,5,3,7,1,2,3,11,2,2,1,1"/><path d="M77 346.5h279" stroke-dasharray="0,15,1,6,1,31,2,3,3,4,1,5,1,4,2,7,1,2,1,3,2,7,1,16,1,4,1,1,1,1,1,13,1,1,1,7,1,5,1,4,1,2,1,1,1,5,1,4,1,1,3,13,1,10,1,4,1,16,1,6,1,3,2,6,1,18,1,8,1,1"/><path d="M77 347.5h279" stroke-dasharray="0,1,2,4,1,4,1,10,4,4,2,2,1,2,1,2,1,3,1,8,1,2,1,3,2,1,1,1,2,1,1,3,1,6,2,3,1,4,1,2,3,3,2,6,1,3,3,2,1,8,2,1,2,9,1,15,1,7,1,1,1,1,1,4,5,4,2,2,2,1,2,5,1,6,2,2,2,1,1,2,2,1,1,3,1,2,1,1,1,6,1,5,1,2,1,1,1,3,1,12,1,8,1,3,2,5"/><path d="M77 348.5h279" stroke-dasharray="0,2,1,4,1,3,1,5,1,3,1,1,1,1,2,1,3,11,1,4,4,4,1,1,1,2,3,1,1,3,2,4,2,3,1,1,1,3,6,4,1,3,1,3,1,3,1,9,1,2,1,3,1,1,2,4,1,4,1,9,1,2,1,5,2,2,2,3,1,4,1,3,1,1,3,1,1,3,4,2,1,2,1,2,1,1,3,2,2,1,1,1,3,4,1,1,1,5,1,3,1,6,1,4,1,3,1,8,1,4,2,1,1,5,1,2,1,8,1"/><path d="M77 349.5h279" stroke-dasharray="0,5,1,1,1,16,4,5,1,5,1,4,2,1,1,8,1,1,1,11,1,1,3,11,1,3,1,2,1,2,1,9,1,1,1,2,1,6,1,2,1,3,1,6,1,1,1,15,1,2,2,4,1,2,3,1,1,3,1,3,4,1,1,1,3,7,1,3,3,4,1,16,2,4,3,1,1,2,1,3,1,1,1,1,1,8,1,1,1,20,1,5,1"/><path d="M77 350.5h279" stroke-dasharray="0,3,1,9,2,9,1,2,2,1,1,4,1,9,1,6,2,4,3,2,2,2,2,2,2,3,2,1,2,12,1,7,2,2,1,1,1,1,1,7,1,1,1,1,1,2,1,2,2,20,1,2,1,4,1,1,1,1,3,1,1,1,2,2,1,1,1,3,1,1,1,2,1,1,1,4,1,3,2,2,1,1,1,1,1,1,1,1,1,9,1,1,1,1,1,4,1,1,1,1,1,3,2,1,1,4,1,4,1,1,1,4,1,2,1,3,1,1,1,5,1,1,1,2,1,1,1,3,1"/><path d="M77 351.5h279" stroke-dasharray="0,2,1,4,1,1,1,1,1,10,1,1,1,1,1,5,1,18,1,1,2,2,6,2,1,4,1,5,2,1,1,1,1,1,1,3,1,4,2,1,1,1,1,3,1,1,2,4,1,2,1,5,1,2,1,1,1,1,1,8,1,5,1,1,1,5,1,1,1,2,2,2,1,1,1,5,1,1,4,1,1,6,1,1,2,1,4,1,3,2,2,2,1,1,1,2,1,3,4,4,1,2,3,1,1,5,1,1,1,1,1,5,1,15,3,2,1,2,4,2,1,1,3,6"/><path d="M77 352.5h279" stroke-dasharray="0,11,1,2,1,2,1,6,1,6,1,1,1,1,1,1,1,4,1,5,1,3,2,2,1,3,4,1,2,2,2,2,1,1,1,1,1,1,8,2,2,1,2,1,1,1,1,1,1,4,2,1,1,1,1,2,2,2,1,2,2,8,3,2,1,3,2,6,1,3,2,3,1,5,2,1,5,1,3,2,2,1,7,2,1,3,3,8,1,1,1,2,1,1,1,1,1,2,1,1,4,3,1,3,2,4,2,2,1,5,2,3,1,1,1,2,2,1,1,6,2,1,1,4,2,1,2,3"/><path d="M77 353.5h279" stroke-dasharray="0,10,1,2,1,14,1,19,1,3,1,7,1,5,1,6,1,12,1,3,1,12,1,11,1,14,1,4,1,9,2,3,2,27,1,2,1,3,1,5,1,13,3,2,1,14,1,1,1,4,1,1,1,5,1,3,1,2,1,4,1,1,2,8,1,1,1,11"/><path d="M77 354.5h279" stroke-dasharray="0,2,1,4,1,9,1,17,1,4,2,10,2,2,1,1,2,3,1,2,1,3,4,3,1,1,1,3,3,1,1,1,2,3,1,1,1,2,1,12,1,1,1,6,1,10,1,4,1,2,1,4,1,2,1,7,1,1,1,5,1,2,1,2,2,2,4,2,1,4,3,1,2,1,1,3,3,1,1,9,1,2,1,3,1,3,2,3,1,3,1,11,1,10,1,4,1,3,1,7,1,4,1,3"/><path d="M77 355.5h279" stroke-dasharray="0,2,1,6,1,6,3,2,1,3,1,1,1,4,1,1,1,6,4,10,2,4,1,1,1,7,4,4,1,1,1,1,1,2,2,1,1,2,2,5,1,3,1,5,1,8,1,11,1,6,1,2,5,2,1,9,1,5,4,4,1,3,1,3,1,2,2,1,5,1,1,1,1,3,1,1,6,6,1,1,1,1,1,1,1,2,1,3,2,2,2,14,1,4,1,6,3,2,1,1,1,1,2,1,3,7,1"/><path d="M77 356.5h279" stroke-dasharray="0,5,1,7,1,3,2,5,1,2,1,2,1,1,1,3,1,7,1,12,1,1,1,7,1,4,1,4,1,1,1,6,1,7,1,2,1,10,3,2,2,2,1,3,1,4,1,4,1,3,1,2,3,3,1,9,1,3,1,1,1,2,3,2,1,4,2,1,1,1,1,1,1,2,1,7,1,4,1,4,1,3,1,2,2,7,1,1,1,7,1,2,2,11,1,5,1,10,1,7,1,1,1,1,1,1,1,3,1"/><path d="M77 357.5h279" stroke-dasharray="0,7,1,4,3,7,1,3,1,10,1,1,1,1,1,7,1,4,2,3,1,14,2,4,1,3,1,2,1,8,1,1,2,4,1,10,1,4,1,5,1,9,2,16,2,4,1,2,2,4,1,10,1,2,2,7,1,1,1,2,1,8,1,7,1,1,1,1,1,1,1,6,1,5,1,1,2,2,1,1,1,4,1,5,2,24,1"/><path d="M77 358.5h279" stroke-dasharray="0,20,1,4,1,10,1,8,1,3,1,7,1,5,1,2,2,3,1,1,1,4,1,9,3,6,2,19,2,6,1,5,1,6,1,1,1,3,1,4,1,9,1,16,1,2,1,5,1,6,1,4,1,3,1,4,1,4,2,1,1,8,2,3,1,4,1,1,2,3,2,3,1,1,2,3,1,3,1,2,1,3,1,1,1,5,4,3"/><path d="M77 359.5h279" stroke-dasharray="1,2,3,1,1,3,2,2,3,1,1,2,1,1,1,2,1,3,1,8,1,4,1,12,1,1,1,2,1,1,2,1,1,2,4,4,1,3,2,1,1,1,1,2,1,2,1,3,1,1,1,3,1,9,1,7,1,4,1,5,1,1,5,1,2,2,1,3,1,1,1,1,1,1,1,4,1,2,1,1,1,1,1,1,1,1,2,2,2,2,1,3,2,1,2,2,1,3,1,3,2,3,1,7,3,3,2,2,1,2,3,1,2,3,4,4,1,2,1,4,4,1,1,4,1,1,3,2,1,6,1,1,1,2,1"/><path d="M77 360.5h279" stroke-dasharray="0,1,1,1,3,14,1,4,2,2,1,2,1,2,1,3,1,1,1,3,1,2,1,3,1,5,4,4,1,1,3,1,2,2,2,1,1,3,1,1,1,1,1,2,1,1,1,3,2,5,2,12,1,7,1,3,1,3,1,3,1,6,2,15,1,5,1,1,3,6,1,9,1,2,1,9,1,3,1,5,2,3,1,14,4,2,1,1,1,9,1,2,1,2,1,11,1,8,1,2"/><path d="M77 361.5h279" stroke-dasharray="0,1,1,8,1,2,2,1,1,1,2,1,1,4,1,7,1,5,1,3,1,3,2,11,1,14,1,1,1,1,1,6,1,2,2,5,2,3,1,17,1,9,2,2,1,23,2,7,1,1,1,1,1,2,2,1,1,2,1,1,4,3,1,4,5,2,1,5,2,2,1,1,3,4,1,3,1,6,1,2,1,3,1,2,1,4,1,1,1,1,1,8,1,18,1"/><path d="M77 362.5h279" stroke-dasharray="0,1,1,6,1,5,1,1,1,2,1,3,1,2,1,1,3,6,1,5,1,2,1,2,1,1,1,3,2,1,2,4,2,1,3,1,1,3,2,1,3,1,1,1,1,3,3,5,1,1,1,5,1,2,1,2,2,2,2,5,3,1,1,1,1,2,1,4,1,4,1,4,1,1,2,2,1,2,1,7,1,3,1,1,1,1,1,1,2,5,2,1,1,1,1,3,2,3,1,1,3,10,1,3,1,1,1,2,1,6,2,1,1,1,2,5,1,2,2,1,1,3,2,2,1,2,1,10,1,1,1,1,2,7,1,1"/><path d="M77 363.5h279" stroke-dasharray="0,12,1,3,1,4,3,1,3,1,1,8,1,5,1,2,1,2,3,3,1,1,1,2,1,2,1,3,1,1,1,8,1,2,1,6,2,8,1,1,1,2,1,2,2,2,1,3,1,7,1,4,1,3,3,18,2,3,1,3,1,5,2,10,1,1,2,6,1,1,2,2,2,3,1,12,1,3,1,15,1,2,2,1,1,7,1,2,1,1,1,7,1,3,1,11,2"/><path d="M77 364.5h279" stroke-dasharray="2,11,2,2,1,16,1,1,1,2,1,4,1,2,1,1,1,6,1,1,1,1,1,1,1,3,1,1,1,2,1,1,1,2,1,1,2,2,2,2,1,3,1,2,1,3,2,6,2,1,1,15,1,5,2,8,1,2,2,4,2,2,1,2,1,2,1,3,1,2,2,1,1,4,1,1,1,6,1,1,1,3,1,1,1,5,1,4,1,1,1,14,1,7,1,2,1,3,1,4,2,8,1,5,1,1,2,1,1,2,2,7,1,6"/><path d="M77 365.5h279" stroke-dasharray="2,2,2,7,1,4,2,8,1,4,1,3,1,5,3,10,3,7,1,2,1,1,3,2,1,3,1,1,2,5,2,1,1,4,2,7,6,5,1,2,1,1,2,6,2,3,1,6,2,1,1,1,1,3,1,4,2,3,2,1,1,1,5,2,3,1,1,3,1,1,1,1,2,7,1,2,2,8,2,2,1,2,1,2,3,5,1,2,2,1,1,13,2,2,1,4,1,1,3,7,1,3,2,1,2,4"/><path d="M77 366.5h279" stroke-dasharray="2,1,1,1,1,8,1,6,2,1,1,12,1,21,1,4,1,5,1,10,1,1,1,1,1,3,1,6,1,8,1,18,1,2,1,9,2,3,3,2,1,1,1,2,1,1,2,14,5,3,1,3,1,3,1,2,1,4,1,5,2,2,1,4,1,4,1,9,1,1,1,13,1,6,1,2,2,2,1,4,1,19"/><path d="M77 367.5h279" stroke-dasharray="0,17,1,13,2,11,1,9,1,3,1,10,1,4,1,1,1,9,1,6,1,3,3,1,2,11,1,5,1,8,1,4,2,9,1,3,1,4,1,3,1,3,1,4,1,2,1,2,1,3,1,1,1,2,1,4,1,1,1,2,1,6,1,1,2,5,1,2,1,16,1,1,1,1,1,11,2,13,1,2,2,3,1,2,1,3,1,4"/><path d="M77 368.5h279" stroke-dasharray="0,9,2,4,1,2,1,8,1,4,1,2,1,4,4,9,1,2,1,5,2,8,1,4,1,2,1,2,1,1,1,2,3,6,1,2,1,8,1,3,2,4,1,8,1,1,1,8,1,1,2,3,1,8,2,1,1,1,1,5,1,1,2,7,1,3,1,6,2,6,1,1,1,4,1,8,2,1,1,6,2,8,1,2,1,8,1,1,1,8,2,3,1,3,1,2,1,1,1,5,2,2"/><path d="M77 369.5h279" stroke-dasharray="2,2,1,1,1,3,1,4,1,7,1,1,1,4,1,1,1,2,1,2,1,3,1,1,2,3,1,1,1,1,2,2,1,6,1,6,1,4,2,3,1,7,1,2,1,7,1,16,1,3,3,2,1,4,1,1,1,6,1,14,2,5,1,4,1,1,2,1,1,4,2,4,2,1,2,1,1,1,1,2,1,7,2,4,3,1,1,3,1,1,1,3,1,8,1,2,1,6,1,3,1,2,1,1,1,8,4,14,1,1"/><path d="M77 370.5h279" stroke-dasharray="0,7,1,10,1,3,1,19,1,2,1,2,1,3,1,5,1,5,1,16,1,1,1,2,1,10,1,20,1,5,1,3,1,1,1,3,1,1,2,1,1,2,1,4,1,1,1,7,1,7,1,1,2,1,1,4,1,4,1,1,1,5,1,2,2,4,2,7,2,1,1,2,1,5,1,5,1,8,1,1,1,3,2,10,1,4,1,5,1,4,3,8,1"/><path d="M77 371.5h279" stroke-dasharray="0,3,1,4,2,2,1,3,1,3,1,1,1,1,2,1,2,3,2,21,1,5,3,1,1,2,1,3,1,2,2,1,1,1,1,1,2,4,1,2,1,6,1,1,1,1,1,1,1,2,2,1,1,2,1,1,1,2,2,1,1,4,2,8,2,4,1,1,1,1,4,1,3,4,2,1,2,3,3,3,5,1,1,1,1,2,1,2,1,2,1,1,1,8,2,1,1,2,1,2,1,1,1,3,2,7,6,2,2,2,1,3,1,7,2,1,1,1,1,2,2,1,2,4,1,1,2,1,1,5,1,2"/><path d="M77 372.5h279" stroke-dasharray="0,5,2,2,2,4,1,5,1,2,1,2,1,4,1,7,1,1,1,3,1,1,1,11,1,4,1,2,1,2,1,3,1,1,3,1,4,1,4,1,2,2,1,5,2,1,1,3,1,1,1,2,1,14,2,3,1,3,1,1,1,1,1,2,1,1,1,3,1,4,3,3,1,6,3,1,2,2,1,1,1,3,2,2,3,3,1,1,2,3,1,4,1,2,3,1,3,2,2,3,1,1,2,1,4,2,2,6,1,1,4,1,2,2,1,3,1,3,1,3,2,1,1,5,2,4,1"/><path d="M77 373.5h279" stroke-dasharray="3,13,1,50,1,1,3,1,3,4,1,1,1,2,1,3,1,2,1,3,1,4,1,1,1,9,1,13,1,5,1,1,1,2,1,11,1,5,2,1,1,6,1,9,1,1,1,2,3,6,1,5,2,9,1,2,1,10,1,2,2,8,1,1,1,8,1,1,1,1,3,1,1,1,1,5,1,8,1,2,1,5"/><path d="M77 374.5h279" stroke-dasharray="2,10,2,1,1,3,1,2,1,1,1,1,2,2,3,4,1,1,1,7,1,5,1,4,1,1,1,2,1,1,2,1,3,3,2,1,1,1,2,2,2,1,1,3,1,1,1,9,1,1,1,1,1,1,1,8,1,10,2,1,2,2,1,1,1,1,1,3,1,2,1,2,1,3,1,2,1,2,3,1,1,1,1,2,1,5,3,1,1,2,2,1,1,4,1,1,1,1,1,1,1,1,1,3,1,2,4,2,2,2,1,7,2,4,2,6,1,1,1,1,1,6,2,1,3,5,1,7,1,1,1,1,1,1,1,1,1,3,1"/><path d="M77 375.5h279" stroke-dasharray="0,8,1,7,1,1,1,1,2,2,1,5,1,8,1,1,1,3,1,2,1,5,1,10,1,2,1,3,1,4,1,1,1,19,1,9,1,23,3,6,1,5,1,6,2,5,1,6,3,1,1,1,2,1,1,1,1,1,1,1,1,5,1,3,1,7,1,2,1,6,2,1,1,3,1,1,1,1,2,4,1,3,1,13,2,1,1,8,1,19"/><path d="M77 376.5h279" stroke-dasharray="0,7,2,2,1,5,1,5,2,5,1,1,1,1,2,2,3,3,1,3,1,3,1,2,4,1,2,3,2,1,3,1,1,2,3,1,4,3,2,1,3,5,3,7,1,2,1,1,1,3,1,1,1,4,1,3,1,3,2,5,1,3,1,1,1,4,3,1,1,2,1,1,1,2,1,2,1,1,1,2,1,4,1,1,3,1,2,1,1,1,4,3,1,2,1,2,1,1,5,3,1,3,1,1,1,3,2,1,3,1,1,1,3,1,1,2,1,3,4,4,1,1,1,2,1,4,1,1,1,6,1,1,1,7,1,3"/><path d="M77 377.5h279" stroke-dasharray="0,8,1,6,1,8,1,2,2,1,1,5,1,1,1,1,1,4,1,6,3,1,1,1,1,1,1,9,1,2,3,2,1,5,1,2,2,3,1,1,1,1,1,4,1,5,2,4,2,9,2,1,1,1,2,2,1,3,4,5,1,8,2,4,2,6,1,7,2,4,1,2,2,3,3,4,1,1,2,2,1,1,1,1,1,1,2,1,1,1,1,1,1,4,1,1,1,4,1,1,1,1,3,1,1,7,1,2,2,3,2,5,1,5,1,2,3,2,3,2"/><path d="M77 378.5h279" stroke-dasharray="0,1,1,2,1,12,2,2,2,1,1,4,2,1,1,2,1,2,2,2,1,4,1,10,1,5,1,4,1,4,1,1,1,1,1,2,1,4,3,1,2,4,1,1,1,2,3,5,1,6,1,1,1,2,2,3,1,2,1,2,1,5,1,1,1,5,2,6,1,2,1,3,1,1,1,1,1,6,1,2,1,1,1,3,1,1,1,2,4,2,1,1,1,4,1,1,1,3,1,1,1,2,3,8,2,6,1,5,1,3,1,3,2,5,1,1,1,7,1,2,2,2,2,1,2,5,1,1"/><path d="M77 379.5h279" stroke-dasharray="0,6,1,7,2,1,5,1,1,4,1,2,1,2,1,6,2,4,2,7,1,2,1,1,1,2,1,2,1,1,1,2,2,4,1,1,2,1,1,2,3,2,1,3,1,6,1,1,1,4,1,6,1,4,1,2,1,1,1,4,2,5,1,1,3,1,1,4,1,5,1,3,1,1,3,2,1,1,2,1,4,3,2,6,2,1,1,1,1,3,1,2,4,4,1,3,2,2,2,1,1,1,2,6,1,1,1,2,2,1,3,2,1,2,3,2,2,2,1,1,2,1,1,1,1,3,2,6,1,2,1,2,2"/><path d="M77 380.5h279" stroke-dasharray="0,9,1,6,1,13,1,8,1,7,1,13,2,1,1,4,2,2,2,5,1,40,2,4,2,4,1,5,1,2,1,3,1,2,1,1,1,7,1,1,1,1,1,10,3,3,1,3,1,6,1,2,1,4,2,3,2,6,1,3,1,4,1,1,3,2,2,1,1,1,1,6,1,14,1,5,1,2,1,12,2"/><path d="M77 381.5h279" stroke-dasharray="0,2,1,1,1,3,1,1,1,2,1,1,2,2,1,1,2,3,1,17,1,6,1,1,2,2,1,2,3,1,1,2,1,2,2,1,1,4,1,3,1,6,1,1,1,2,2,1,1,3,1,1,1,3,1,5,1,8,1,6,1,1,1,7,3,15,1,7,1,7,1,1,1,3,1,2,2,1,1,2,1,4,1,3,1,1,1,1,1,1,1,2,1,4,2,6,1,1,1,3,5,3,1,7,1,2,1,5,1,3,1,4,1,1,3,4,1,8,2"/><path d="M77 382.5h279" stroke-dasharray="3,6,3,3,1,3,1,1,5,4,2,1,2,4,2,1,1,2,1,4,3,1,1,1,2,5,1,1,1,4,5,1,1,1,1,1,1,1,2,2,1,3,1,3,1,4,1,1,5,2,1,2,1,9,1,11,1,1,1,1,1,2,1,2,2,4,1,3,1,3,1,2,3,1,1,1,3,1,1,2,2,2,3,6,1,1,3,1,1,1,1,1,3,1,1,2,1,3,4,4,2,1,1,1,1,1,1,1,1,1,3,3,1,1,2,1,1,5,1,1,1,1,1,3,1,3,2,2,1,1,1,2,2,1,1,2,2,3,1,2,1"/><path d="M77 383.5h279" stroke-dasharray="0,4,1,2,1,4,1,4,2,1,1,1,1,2,1,1,1,1,2,3,1,11,2,2,2,3,1,1,1,1,1,2,3,3,4,2,2,1,1,1,3,2,2,3,1,1,1,13,1,2,1,3,2,1,2,6,2,1,1,1,1,4,1,2,1,1,1,2,2,2,2,4,3,2,4,2,5,1,1,1,4,1,1,1,2,4,2,1,2,1,5,2,2,2,1,3,4,3,3,1,1,2,1,4,2,3,4,3,1,2,2,2,1,4,1,3,1,1,2,1,2,1,1,1,2,1,1,2,2,1,1,1,2,4,1"/><path d="M77 384.5h279" stroke-dasharray="0,5,1,11,1,3,1,1,2,4,1,2,1,2,1,1,1,1,1,2,1,13,1,1,1,1,1,1,1,2,2,1,1,1,1,2,2,1,3,1,1,4,1,1,1,1,1,9,1,13,1,2,2,12,1,3,1,2,1,1,1,6,1,1,1,3,1,1,2,5,2,1,1,4,1,2,2,4,1,1,3,1,2,1,1,1,2,2,1,1,3,3,2,3,3,4,1,2,1,7,2,1,1,3,1,4,1,8,1,1,1,1,1,5,1,2,1,4,2,1,1,12"/><path d="M77 385.5h279" stroke-dasharray="0,2,1,4,1,4,1,2,1,2,2,3,1,4,2,3,1,1,1,13,2,14,2,4,2,2,2,2,1,2,2,4,1,11,1,11,1,5,2,3,2,3,1,12,1,9,1,8,1,16,1,2,1,1,2,1,3,4,2,3,2,1,1,6,1,6,3,1,1,7,1,4,1,1,1,8,1,3,2,1,1,3,1,3,1,1,2,7,1,3,1,1,1,4"/><path d="M77 386.5h279" stroke-dasharray="0,4,1,1,2,3,1,3,1,1,3,4,1,7,1,4,1,3,2,1,2,2,1,3,1,1,2,1,1,1,1,2,3,1,1,2,1,2,6,1,1,2,2,1,2,1,2,1,2,2,2,3,1,2,1,1,1,12,1,2,2,1,1,2,1,5,1,4,1,12,1,3,1,5,2,4,2,1,1,1,1,2,2,2,2,1,1,2,1,1,3,2,1,4,1,1,2,1,1,2,6,1,1,1,5,1,1,1,3,2,1,3,1,5,1,3,1,1,1,2,1,2,1,3,1,4,2,1,1,4,1,1,1,2,1,6,1"/><path d="M77 387.5h279" stroke-dasharray="0,9,2,5,1,1,2,2,1,5,1,1,1,2,1,1,1,4,1,5,1,4,1,1,1,3,2,1,1,1,1,7,2,2,1,1,1,3,1,8,1,3,1,1,1,3,1,10,1,1,1,1,1,9,1,3,1,5,1,4,1,1,1,4,1,4,4,7,2,1,2,1,1,1,1,1,2,3,1,1,4,3,2,2,1,1,2,2,3,1,3,2,1,1,3,6,2,3,1,1,1,1,1,6,1,3,1,2,2,1,1,3,1,3,4,4,1,1,1,8,2,1,1,1,2,3"/><path d="M77 388.5h279" stroke-dasharray="0,11,1,11,2,2,1,2,1,5,1,8,1,2,1,2,1,1,1,1,1,14,3,3,4,3,1,3,1,4,1,6,1,2,1,5,1,15,1,9,1,2,2,2,2,3,1,1,2,3,1,3,1,2,3,7,2,4,4,1,3,2,1,1,1,1,2,2,3,1,1,4,1,2,1,2,1,2,3,2,1,5,1,1,1,1,1,10,2,3,1,1,1,3,1,3,1,1,3,4,1,5,1,10"/><path d="M77 389.5h279" stroke-dasharray="0,7,1,3,1,7,1,2,2,13,2,3,1,1,1,1,1,1,2,5,1,4,1,4,1,1,4,1,1,1,1,1,1,1,1,5,1,14,1,5,1,10,1,3,1,3,1,6,1,2,1,5,1,1,1,5,1,4,2,5,1,1,1,6,1,2,1,2,2,6,1,6,2,1,3,2,1,8,1,2,2,1,1,2,1,3,1,1,1,3,1,9,1,1,1,10,1,3,3,2,1,1,1,2,1,4,1,4,1,1,3,1"/><path d="M77 390.5h279" stroke-dasharray="0,9,1,4,1,1,1,2,1,7,2,4,2,4,1,2,1,1,1,13,1,7,1,5,2,3,1,5,1,23,2,15,1,2,1,15,1,9,1,2,1,6,2,2,2,3,1,2,1,1,2,1,2,3,4,1,1,2,1,9,1,1,1,1,1,2,1,4,1,11,1,4,3,1,2,9,1,6,2,1,1,2,2,6,1,9,1"/><path d="M77 391.5h279" stroke-dasharray="0,1,1,13,1,1,1,2,1,1,1,2,3,1,1,1,1,4,1,12,1,12,1,8,1,2,2,1,1,1,1,1,1,10,1,7,1,1,1,2,1,11,2,6,1,2,1,2,1,3,2,11,2,2,1,3,1,2,1,1,1,7,2,2,1,6,1,1,1,2,2,1,1,2,1,5,1,4,2,8,1,5,2,6,1,1,1,5,2,1,1,3,2,2,1,4,1,2,1,6,1,2,1,2,1,12"/><path d="M77 392.5h279" stroke-dasharray="0,4,1,11,1,4,1,10,2,2,1,1,1,8,1,8,1,4,2,4,1,1,1,3,1,6,1,8,1,3,1,10,1,9,1,15,1,8,1,1,1,3,1,1,1,12,1,6,2,12,1,2,2,10,1,11,1,2,1,3,1,6,1,3,2,3,1,12,1,4,3,18,1,2,1,5"/></g><path d="M76.1 243.5H357.4" stroke="#666" stroke-width="1" fill="none"/><path d="M76.1 293.5H357.4" stroke="#666" stroke-width="1" fill="none"/><path d="M76.1 343.5H357.4" stroke="#666" stroke-width="1" fill="none"/><path d="M89.0 194.8V392.9" stroke="#111" stroke-width="3.1" stroke-dasharray="2.9,3.0" fill="none"/><path d="M153.0 194.8V392.9" stroke="#111" stroke-width="3.1" stroke-dasharray="2.9,3.0" fill="none"/><path d="M344.6 194.8V392.9" stroke="#111" stroke-width="3.1" stroke-dasharray="2.9,3.0" fill="none"/><rect x="76.1" y="193.3" width="281.29999999999995" height="200.59999999999997" fill="none" stroke="#111" stroke-width="2"/><rect x="408.1" y="192.6" width="283.5" height="202.00000000000003" fill="#fff"/><g stroke="#7a7a7a" stroke-width="1" fill="none" stroke-opacity="0.9"><path d="M409 193.5h282" stroke-dasharray="0,5,1,2,1,7,1,4,1,6,1,16,1,9,1,3,1,1,1,5,2,6,1,2,1,3,2,3,4,2,1,4,1,1,1,2,2,4,1,1,2,11,1,2,1,5,2,3,2,2,1,3,1,2,1,6,1,2,1,19,1,6,1,36,2,8,2,15,2,30"/><path d="M409 194.5h282" stroke-dasharray="0,9,1,2,1,3,1,3,1,5,1,1,1,2,1,9,1,3,1,10,1,3,2,10,1,2,1,3,1,2,1,2,1,3,2,2,1,1,3,3,1,4,3,3,1,13,2,2,1,6,1,12,1,3,1,8,1,9,1,12,1,5,1,1,1,10,1,2,1,3,1,5,1,26,1,5,1,2,2,4,1,1,2,5,1,3,1,8"/><path d="M409 195.5h282" stroke-dasharray="0,5,1,4,1,3,1,27,3,8,1,1,1,3,1,13,1,6,2,1,5,3,1,3,1,7,1,1,1,1,1,4,1,4,1,1,1,5,1,5,1,6,1,3,1,2,2,1,1,5,1,9,1,3,1,2,2,12,1,1,1,5,1,9,2,1,1,20,1,2,1,13,1,2,1,12,1,10,1,10"/><path d="M409 196.5h282" stroke-dasharray="0,18,1,8,1,4,1,1,1,2,2,6,1,2,1,1,1,5,1,10,2,1,1,5,3,1,1,2,1,1,1,3,1,5,1,2,1,8,1,3,1,1,2,2,1,1,1,2,1,1,1,11,1,5,1,1,1,4,1,6,1,12,1,6,1,4,1,4,1,3,1,2,1,4,1,4,1,17,1,5,1,2,1,4,1,8,1,1,1,3,1,10,1,20"/><path d="M409 197.5h282" stroke-dasharray="1,6,1,2,2,1,1,6,1,1,1,1,1,1,1,9,1,11,1,2,1,1,1,15,4,2,1,2,1,5,1,6,1,5,2,2,1,11,1,5,1,1,1,3,1,3,1,1,1,18,1,1,2,5,1,11,1,1,1,1,1,5,1,16,1,4,1,15,1,1,1,3,1,11,1,27,1,16"/><path d="M409 198.5h282" stroke-dasharray="0,3,1,6,1,2,1,7,1,3,1,9,1,1,1,7,1,1,1,4,1,1,3,3,4,1,1,1,1,3,1,5,1,1,3,1,1,3,2,3,1,5,1,9,1,1,1,2,1,5,1,6,1,3,2,1,1,4,3,1,1,2,1,11,1,1,1,2,1,2,1,1,1,3,1,11,1,3,3,1,1,3,1,8,1,1,1,5,1,2,1,5,1,1,2,2,1,3,1,3,1,1,1,9,1,4,1,13,1,7,1,3,1,3"/><path d="M409 199.5h282" stroke-dasharray="0,3,2,2,3,3,1,3,2,4,1,3,1,6,1,3,1,9,2,2,2,2,1,4,3,5,1,3,1,4,1,8,1,4,1,3,3,1,4,2,1,6,2,1,1,2,1,5,2,6,1,2,1,8,1,3,1,7,3,1,1,2,1,1,1,7,1,5,1,13,1,7,1,1,1,5,1,4,1,1,2,1,1,1,1,1,1,3,1,2,1,2,1,2,2,14,1,3,1,3,1,1,1,11,1,6"/><path d="M409 200.5h282" stroke-dasharray="0,3,1,13,1,9,1,12,1,2,1,5,1,3,1,1,1,2,1,1,1,8,1,14,1,1,1,3,1,3,1,23,1,12,1,7,1,10,1,4,1,1,1,13,1,1,1,2,1,2,1,6,2,1,1,1,1,5,1,1,1,5,1,1,2,5,2,2,1,10,1,12,1,1,1,6,2,2,1,7,1,9,1,2,1,2,1,2"/><path d="M409 201.5h282" stroke-dasharray="0,1,2,3,1,3,1,9,1,19,1,7,1,1,1,11,1,2,1,1,1,1,1,1,2,1,2,5,1,2,1,5,1,5,1,12,1,8,1,5,1,5,1,1,1,6,1,3,1,3,1,2,2,4,1,6,1,5,1,10,2,4,1,4,2,21,1,1,1,1,1,3,3,1,1,20,1,4,1,1,1,1,1,6,1,4,1,5,2,6"/><path d="M409 202.5h282" stroke-dasharray="1,2,2,22,1,5,1,13,1,1,1,3,1,4,1,1,1,4,2,3,1,2,1,6,1,21,1,13,1,11,1,5,1,1,1,3,1,1,1,4,1,3,1,9,1,3,1,1,1,1,1,4,1,1,1,6,1,6,2,1,1,6,1,4,1,23,1,2,1,5,1,3,1,1,2,2,1,3,1,1,1,27"/><path d="M409 203.5h282" stroke-dasharray="0,1,1,16,3,1,1,3,3,2,1,1,2,1,3,1,1,1,2,3,1,2,2,3,2,3,1,1,1,2,1,2,1,3,2,1,1,2,1,2,1,2,1,3,1,1,1,3,1,2,1,2,2,5,1,2,1,1,1,2,1,1,1,2,1,1,2,22,1,1,1,1,1,1,1,2,1,3,1,4,1,8,1,1,1,4,1,3,1,7,2,3,1,4,1,10,1,4,1,2,1,11,1,3,1,10,2,3,1,12,1,2,1,3,1,2,1,5"/><path d="M409 204.5h282" stroke-dasharray="1,1,4,9,3,4,1,1,1,6,2,2,1,3,1,3,1,1,1,2,1,2,1,3,1,1,1,4,2,1,1,3,1,5,2,1,1,1,4,2,1,8,2,1,1,9,1,5,1,1,2,1,1,1,2,5,1,1,1,8,1,3,1,2,1,6,1,1,1,5,1,7,4,2,1,1,2,2,1,3,1,6,3,6,2,14,1,7,1,3,1,3,1,7,1,2,1,11,1,13,1,3,1,7"/><path d="M409 205.5h282" stroke-dasharray="0,6,1,3,1,26,1,5,1,6,1,6,1,2,1,4,2,2,1,2,1,14,1,11,1,9,1,8,3,19,1,1,1,1,1,8,1,1,1,5,2,11,1,1,1,1,1,11,1,11,1,17,1,6,1,13,1,4,1,15,1,1,1,10,1,6"/><path d="M409 206.5h282" stroke-dasharray="0,4,2,1,1,5,1,8,1,1,1,4,1,1,1,13,2,1,1,1,1,1,1,8,1,6,1,2,1,1,1,6,4,1,1,1,2,1,1,1,1,1,2,2,1,1,1,3,1,9,1,10,2,3,1,9,1,2,1,1,2,3,2,5,2,1,2,1,1,1,3,1,1,4,1,1,1,3,1,1,1,3,1,8,1,8,1,3,1,4,1,10,1,10,1,1,1,4,2,3,1,4,2,1,1,15,2,9"/><path d="M409 207.5h282" stroke-dasharray="1,3,1,3,1,9,2,3,1,20,2,6,1,3,1,5,2,7,2,13,1,3,1,14,1,6,4,10,2,6,1,2,1,5,1,9,1,12,1,2,1,5,1,1,1,15,1,7,2,11,1,2,1,3,1,12,1,6,1,22,1,17"/><path d="M409 208.5h282" stroke-dasharray="0,2,1,2,3,4,1,4,1,19,1,1,1,1,1,3,1,3,1,2,1,1,1,1,1,7,1,4,1,1,3,3,1,3,3,1,1,1,1,5,1,3,1,4,1,3,2,1,1,7,1,3,3,2,1,3,1,2,1,4,2,1,1,1,1,2,1,2,1,1,2,4,1,1,2,3,1,3,1,14,2,11,2,2,1,2,1,4,1,4,2,2,2,16,3,19,1,4,1,5,2,1,1,10"/><path d="M409 209.5h282" stroke-dasharray="0,10,2,3,1,3,2,16,2,3,1,1,1,3,1,9,1,9,1,12,1,2,1,5,1,5,1,5,1,5,1,16,1,4,2,2,1,8,1,5,1,10,2,18,1,5,1,26,1,2,1,3,1,1,2,22,1,11,1,8,1,14"/><path d="M409 210.5h282" stroke-dasharray="0,3,1,2,1,15,1,2,1,4,2,1,1,2,1,3,1,1,1,1,1,1,1,6,1,6,1,5,3,3,1,1,2,1,1,5,1,3,1,7,1,1,1,1,1,3,1,5,4,4,1,13,1,2,1,2,4,1,1,4,1,1,1,5,1,5,1,7,2,9,1,15,2,16,1,1,1,2,1,14,1,1,1,15,1,16,1,3,1,3,1,2,1,1"/><path d="M409 211.5h282" stroke-dasharray="0,7,1,7,1,9,1,30,1,1,3,4,1,13,1,4,1,1,1,1,1,1,1,13,1,1,2,10,2,8,2,9,1,12,1,5,1,1,1,3,1,7,2,1,1,6,1,11,1,11,1,5,1,10,1,2,1,16,1,8,1,1,1,12,1,1,1,12"/><path d="M409 212.5h282" stroke-dasharray="1,11,2,8,1,3,1,6,2,3,1,5,1,12,2,7,1,5,1,8,2,3,3,3,1,1,1,2,1,1,1,3,1,5,1,5,3,1,1,1,1,13,1,5,1,2,2,1,1,3,1,1,1,9,1,4,1,5,1,4,1,21,1,8,1,5,1,3,1,4,1,5,1,10,1,2,3,5,1,10,3,1,2,12"/><path d="M409 213.5h282" stroke-dasharray="0,1,1,16,1,2,2,3,1,4,1,8,1,1,1,1,1,4,1,2,2,11,1,1,1,1,2,6,1,1,4,4,2,3,1,1,4,1,3,5,1,1,2,4,2,1,2,2,1,3,2,2,1,2,1,1,1,2,1,3,1,1,3,8,1,1,1,2,2,8,1,4,1,1,1,2,1,6,2,3,2,6,1,4,2,1,1,2,1,3,1,9,1,1,1,3,1,1,1,5,1,3,1,3,2,5,1,1,1,2,1,3,1,3,1,2,1,3,3,1,2,2"/><path d="M409 214.5h282" stroke-dasharray="0,1,1,2,1,11,1,9,1,9,1,2,1,2,1,5,2,4,1,5,1,1,3,7,1,7,1,4,2,2,2,3,1,2,1,8,1,2,3,5,2,11,1,8,1,5,1,7,3,2,3,2,2,16,1,15,1,3,1,7,1,5,1,40,1,9,1,1,1,3,1,8,1"/><path d="M409 215.5h282" stroke-dasharray="0,11,1,2,1,11,2,3,1,3,1,9,1,1,1,4,2,4,1,5,1,4,1,2,1,9,2,2,2,4,1,13,2,1,1,7,1,1,1,11,1,5,1,34,2,4,1,1,1,1,1,16,2,13,1,2,1,13,1,2,1,12,1,25,1,1,1,6"/><path d="M409 216.5h282" stroke-dasharray="0,6,1,1,1,5,2,7,2,9,1,21,2,2,2,4,1,8,3,2,2,1,1,2,1,2,2,3,1,3,1,12,1,6,1,7,2,8,1,7,1,1,1,1,1,5,2,16,1,2,1,5,1,4,1,1,1,4,1,12,1,2,2,7,1,1,1,7,1,5,1,1,1,3,1,4,2,3,1,9,2,1,1,15,1,2"/><path d="M409 217.5h282" stroke-dasharray="1,1,1,1,1,2,1,5,1,1,1,5,2,9,2,4,1,2,2,5,1,1,2,1,1,1,1,3,1,2,2,1,2,1,1,2,1,4,1,1,1,2,1,1,3,2,2,3,1,1,1,2,1,7,1,1,2,1,3,9,3,5,1,1,1,1,2,5,1,1,1,5,1,3,1,1,1,6,3,3,1,4,1,3,1,3,1,8,1,10,1,2,1,7,2,1,1,4,2,6,1,4,1,9,1,1,1,9,1,2,1,4,1,2,1,4,1,3,3,3"/><path d="M409 218.5h282" stroke-dasharray="1,9,1,1,2,7,1,6,1,2,2,3,1,1,1,3,2,1,1,1,2,2,1,2,1,1,1,2,1,5,4,1,1,1,2,5,2,1,1,2,1,1,1,5,1,1,1,2,2,5,1,2,1,1,1,2,1,3,1,2,1,4,2,5,4,1,1,2,1,2,1,5,4,7,1,1,3,1,1,1,2,8,1,2,1,2,1,1,1,8,2,2,1,6,3,4,1,7,1,6,2,3,1,5,1,7,1,6,1,4,1,4,2,4,1,7,1,3"/><path d="M409 219.5h282" stroke-dasharray="0,1,1,2,1,11,1,6,1,3,1,1,2,10,1,8,1,10,2,2,1,3,1,1,1,7,1,3,1,10,1,2,2,1,1,1,1,6,1,2,1,1,1,4,4,1,1,5,1,2,1,1,1,2,1,9,1,2,1,5,1,1,1,1,2,1,1,2,2,19,1,1,1,2,1,2,2,6,1,2,1,4,1,19,1,3,1,1,1,4,1,8,1,5,1,12,1,3,1,6"/><path d="M409 220.5h282" stroke-dasharray="2,2,1,1,1,4,2,5,1,3,1,6,1,2,1,8,1,3,1,10,1,2,2,1,1,7,3,1,1,2,1,1,1,1,1,4,1,1,1,6,1,4,1,2,1,1,1,1,1,1,2,2,1,3,1,2,1,11,1,2,1,1,1,3,1,3,1,5,2,3,1,7,1,4,1,3,1,17,1,5,1,3,1,1,1,4,1,5,1,3,1,2,1,6,1,1,1,5,1,3,1,6,1,4,1,2,1,3,1,20,1,1"/><path d="M409 221.5h282" stroke-dasharray="0,5,1,1,1,2,1,2,1,12,1,8,1,6,2,5,3,14,2,1,1,1,1,6,1,4,1,4,1,4,1,11,1,8,1,3,1,1,1,8,2,2,1,1,1,3,1,3,1,3,1,1,2,3,1,3,1,9,1,2,3,16,1,28,1,4,1,1,1,10,1,1,1,8,1,2,1,2,1,1,2,8,1,6,2,7"/><path d="M409 222.5h282" stroke-dasharray="0,7,2,5,1,7,1,2,1,1,1,5,1,14,1,2,2,1,1,2,1,4,1,16,3,4,1,9,1,3,2,2,1,3,1,1,1,1,1,15,1,5,1,14,1,1,1,1,3,1,2,7,1,6,1,5,1,1,1,6,1,8,1,16,1,5,1,46,1,14"/><path d="M409 223.5h282" stroke-dasharray="0,7,1,2,1,2,1,18,1,9,1,1,2,2,1,1,1,3,1,2,2,2,1,4,1,4,2,1,1,1,1,11,1,2,1,1,1,13,1,12,1,1,1,5,1,2,1,1,1,3,1,1,1,1,2,3,1,1,1,11,1,1,1,4,3,1,1,1,1,3,3,13,1,7,1,4,1,3,1,1,2,2,1,6,1,8,1,7,1,1,1,1,1,5,1,5,1,2,1,1,1,1,3,9,1,1,2,1,1,1"/><path d="M409 224.5h282" stroke-dasharray="0,1,1,6,1,10,1,5,1,4,1,8,1,2,1,11,1,1,1,1,1,9,1,7,1,1,1,6,1,4,1,4,1,6,1,2,2,5,1,2,2,4,1,12,1,2,1,2,1,12,2,1,1,1,2,8,1,9,1,8,1,3,1,1,1,2,1,4,1,14,1,1,1,14,1,2,1,10,1,5,1,6,1,3,2,3,1,2,1,5,1,3"/><path d="M409 225.5h282" stroke-dasharray="1,3,1,2,1,3,1,3,1,2,2,22,1,3,1,2,1,1,2,4,1,5,2,6,2,1,1,2,1,2,3,1,3,4,3,1,1,2,1,1,2,4,1,6,1,3,2,6,1,1,1,2,2,2,1,8,1,3,1,8,1,2,1,2,1,5,2,11,1,3,1,1,1,3,1,3,3,8,1,3,2,7,1,8,2,5,1,4,1,4,1,1,1,1,1,4,1,2,1,3,1,2,1,5,1,5,1,4,1"/><path d="M409 226.5h282" stroke-dasharray="0,4,1,5,1,19,2,5,1,17,1,4,1,1,1,2,1,2,1,2,3,1,1,4,1,1,6,1,1,1,2,2,1,2,3,4,1,1,2,16,1,1,2,2,1,2,2,1,1,7,1,1,1,13,1,3,1,4,1,1,1,2,1,2,3,5,1,6,1,1,1,12,2,8,2,8,2,5,1,2,1,3,1,2,1,10,1,6,1,3,2,3,1,4,1,1,1,2"/><path d="M409 227.5h282" stroke-dasharray="0,6,2,27,1,1,1,2,1,10,1,10,1,6,1,7,1,3,2,2,1,2,1,6,1,3,1,12,1,5,1,1,1,2,2,3,1,1,1,3,1,4,1,4,2,5,1,3,1,12,2,13,1,7,1,3,1,2,1,6,1,8,1,3,1,3,1,1,1,15,1,7,2,2,1,2,3,19,1,4"/><path d="M409 228.5h282" stroke-dasharray="0,6,2,2,1,12,1,3,1,1,2,13,1,2,3,2,1,4,1,1,1,2,1,4,1,1,1,1,1,3,1,3,2,8,1,4,2,8,2,2,2,1,2,5,1,1,1,1,3,3,1,7,1,3,2,1,2,5,1,1,1,4,1,9,1,1,3,7,1,5,1,3,1,5,1,12,1,6,1,3,1,5,1,6,1,14,1,20,1,1,1,5,1,3,1,1"/><path d="M409 229.5h282" stroke-dasharray="0,2,1,6,2,1,1,14,1,5,1,2,1,2,1,10,2,1,1,2,2,5,1,3,1,5,1,11,2,6,1,4,1,2,1,1,1,6,1,2,1,2,1,1,1,9,1,3,1,1,1,4,1,3,1,1,1,17,1,5,1,6,1,7,1,10,1,1,1,2,1,3,1,14,1,18,1,1,1,3,1,4,1,3,2,5,1,16,1,4"/><path d="M409 230.5h282" stroke-dasharray="1,1,2,6,1,3,1,4,1,2,1,1,1,3,2,1,1,4,1,2,1,1,1,2,2,4,1,3,1,6,1,1,1,2,2,2,1,1,2,5,1,4,1,1,1,7,3,6,1,5,1,3,1,1,1,1,1,3,1,6,1,4,2,3,1,3,1,1,3,2,1,9,1,5,2,10,2,3,1,5,2,10,1,7,1,1,1,5,1,13,1,6,2,11,2,2,1,1,1,8,1,3,1,5,1,6"/><path d="M409 231.5h282" stroke-dasharray="0,1,3,8,1,13,1,2,2,7,1,3,3,2,1,1,2,4,1,6,2,1,2,1,2,2,1,1,1,3,1,1,1,3,1,1,1,2,1,1,1,1,1,1,1,2,1,1,1,4,1,4,2,1,2,3,2,1,1,2,1,7,1,3,1,1,1,2,2,1,1,3,2,3,2,4,1,5,1,1,1,4,1,11,2,1,3,1,1,2,1,1,1,6,1,3,1,2,1,9,1,4,1,3,1,7,2,4,1,3,1,6,1,1,1,7,1,9,1,1,1,5"/><path d="M409 232.5h282" stroke-dasharray="0,1,1,3,1,5,2,2,2,6,1,1,1,1,1,1,2,2,1,3,1,1,1,1,1,1,1,3,1,3,1,8,1,5,4,3,1,1,1,3,2,1,3,1,2,3,1,1,2,9,2,2,1,2,1,3,2,8,1,2,1,2,7,2,1,4,1,10,1,1,1,6,1,8,1,3,2,4,2,7,3,6,1,1,1,3,2,1,1,2,1,3,1,3,1,5,1,1,1,8,1,7,1,4,1,4,2,10,1,3,1,3,2,3"/><path d="M409 233.5h282" stroke-dasharray="0,17,1,14,1,15,1,2,1,4,1,5,1,5,1,8,1,3,2,7,1,7,1,15,1,10,1,5,1,11,1,18,1,43,1,5,1,7,1,4,1,11,1,6,1,5,1,4,1,1,1,10,1,5,1,4,1,2"/><path d="M409 234.5h282" stroke-dasharray="0,2,1,12,1,1,1,7,1,1,1,3,1,2,1,9,1,2,1,4,1,4,1,2,1,1,1,5,2,1,3,3,1,1,1,1,1,6,1,6,1,1,1,5,1,2,2,9,1,2,1,9,1,4,2,4,1,4,2,1,1,3,1,4,1,7,3,2,1,1,1,8,2,4,1,1,1,10,1,2,1,1,1,16,1,22,1,1,2,5,1,7,1,18"/><path d="M409 235.5h282" stroke-dasharray="0,8,1,6,1,9,2,2,1,7,1,11,1,7,3,4,1,1,1,10,2,1,1,1,2,2,1,6,1,2,2,11,1,1,1,1,1,4,1,6,1,4,1,2,2,3,1,1,1,5,1,4,1,1,2,7,1,2,1,1,1,15,1,14,2,1,1,13,1,29,1,20,2,14"/><path d="M409 236.5h282" stroke-dasharray="0,3,1,1,2,3,1,6,1,11,1,2,1,2,2,3,4,2,1,3,2,2,2,2,1,3,2,4,1,6,1,10,1,2,1,3,1,2,1,7,1,2,1,1,2,2,1,5,1,1,1,6,1,4,2,2,1,3,1,4,1,2,1,12,1,6,1,2,1,9,1,2,3,8,1,13,2,2,1,3,1,1,1,5,1,17,1,1,1,5,1,3,1,1,1,6,1,3,1,4,1,1,1,5"/><path d="M409 237.5h282" stroke-dasharray="0,2,1,4,2,6,1,10,1,6,1,8,2,14,2,3,1,6,2,4,2,3,1,3,1,1,3,5,2,6,1,2,1,7,2,1,2,2,3,3,1,1,1,3,1,8,1,1,1,4,2,9,1,3,2,6,1,1,2,1,1,8,1,1,1,2,1,5,1,2,1,1,1,13,1,3,1,20,1,13,1,1,1,8,2,14"/><path d="M409 238.5h282" stroke-dasharray="0,4,1,6,1,5,1,3,2,2,1,1,1,7,1,6,2,1,3,2,1,1,1,3,1,6,1,7,1,2,1,4,1,19,1,8,1,14,1,8,2,18,1,11,2,3,1,17,1,44,1,15,1,3,1,1,1,4,1,16,1,5"/><path d="M409 239.5h282" stroke-dasharray="0,2,1,3,1,3,1,3,2,2,4,2,1,10,1,9,1,4,1,3,2,1,1,2,2,2,2,1,1,4,1,1,1,1,2,3,1,3,2,1,1,1,3,1,2,5,3,1,2,1,1,5,1,3,3,2,1,1,1,7,1,2,1,2,1,1,1,1,2,1,3,1,2,8,1,4,2,1,1,6,1,1,1,1,1,3,1,4,1,5,3,2,2,7,2,1,1,2,2,6,1,6,1,3,1,4,1,3,1,1,1,10,2,5,1,3,1,4,2,8,1"/><path d="M409 240.5h282" stroke-dasharray="0,6,1,1,2,2,1,2,1,4,1,3,1,3,1,4,1,12,1,6,1,4,1,6,1,5,2,5,1,8,1,12,1,11,1,1,1,1,1,6,1,3,2,10,1,8,1,1,2,11,1,3,1,1,1,1,1,3,1,4,1,9,1,10,1,4,1,10,1,3,1,18,2,3,2,10,1,5,1,2,1,5,1,4,1,4"/><path d="M409 241.5h282" stroke-dasharray="1,3,1,1,1,3,1,2,1,8,1,3,2,3,1,13,2,1,1,1,1,4,1,1,1,1,1,2,2,2,2,2,1,6,1,1,3,3,1,4,1,1,2,3,1,1,1,2,2,4,1,6,1,5,2,4,1,6,1,5,1,2,1,4,2,1,1,2,1,2,1,2,1,3,2,1,1,1,2,3,1,2,2,4,2,1,1,9,1,1,1,16,1,4,1,1,1,1,2,1,1,3,2,12,2,2,1,7,1,1,3,3,1,6,1,2,1,6"/><path d="M409 242.5h282" stroke-dasharray="0,1,1,4,1,1,1,2,1,5,1,10,1,10,1,4,1,4,2,1,1,14,1,6,1,3,1,2,1,1,3,1,2,12,1,9,2,1,1,3,1,1,2,1,3,1,1,1,2,2,2,2,1,4,1,3,1,8,2,8,1,2,1,3,1,4,1,1,1,2,2,16,1,8,1,11,1,1,1,3,1,4,1,8,1,7,1,11,1,2,1,1,2,8,1,1,2,2"/></g><g stroke="#f5aa10" stroke-width="1" fill="none" stroke-opacity="0.9"><path d="M409 244.5h282" stroke-dasharray="0,1,1,8,1,12,1,1,1,7,1,9,1,9,1,6,1,5,1,2,2,8,1,1,1,3,2,6,1,1,2,8,1,5,1,5,2,2,1,5,1,3,2,3,2,1,1,1,1,3,1,4,2,12,1,2,1,1,1,3,1,5,1,4,1,15,1,10,1,14,1,9,1,19,1,1,1,5,1,5,1,4,1,3,3"/><path d="M409 245.5h282" stroke-dasharray="0,1,3,4,1,1,1,1,1,1,1,3,2,2,1,5,1,2,1,1,2,1,1,2,1,1,1,2,1,2,1,4,1,5,2,7,3,2,4,1,1,2,2,3,3,1,1,4,1,1,1,3,3,1,1,7,2,3,1,1,3,1,1,1,1,1,1,1,1,1,6,1,3,1,1,2,1,1,2,5,2,3,1,3,2,3,1,2,2,3,1,3,2,5,1,1,1,5,1,6,2,4,4,5,1,1,2,12,2,2,1,2,1,11,1,4,1,7,1,1,1,4,2,1,4,1,1,1"/><path d="M409 246.5h282" stroke-dasharray="1,1,1,1,1,1,1,1,3,1,1,2,1,3,1,1,1,1,1,4,2,2,1,5,1,4,1,1,2,1,1,2,1,8,2,3,1,1,1,1,1,1,1,2,2,2,1,2,1,2,1,2,1,1,1,1,1,1,3,1,1,2,3,1,2,2,1,3,2,2,1,3,2,1,1,2,1,5,2,1,1,1,1,9,1,5,1,2,1,1,2,2,1,2,1,13,1,3,1,2,2,2,1,1,1,4,1,6,2,2,1,1,1,3,1,8,1,11,1,5,1,7,1,5,1,2,3,1,2,7,3,2,2,1,1,2"/><path d="M409 247.5h282" stroke-dasharray="0,4,3,4,1,1,1,3,2,2,1,3,1,1,1,1,1,3,1,2,1,16,1,2,1,1,2,1,1,7,2,2,2,6,1,4,1,1,1,2,3,7,2,5,2,1,1,3,3,2,1,4,1,8,4,3,1,4,2,5,3,2,2,2,1,2,1,6,1,9,2,4,1,1,1,1,1,3,3,5,1,8,1,1,1,3,2,1,1,6,1,4,1,2,2,3,1,3,1,4,1,2,1,6,1,1,1,4,1,2,1,5,1,1,1,1,1"/><path d="M409 248.5h282" stroke-dasharray="0,2,1,13,1,8,1,17,1,1,2,2,1,1,1,6,1,7,1,8,2,2,1,2,2,4,1,2,1,3,1,9,1,4,1,3,5,7,1,2,1,4,1,3,1,9,1,2,1,2,1,5,1,4,1,2,3,1,1,2,1,20,1,15,1,10,1,6,1,1,1,8,1,2,1,3,1,1,1,1,1,3,1,5,1,5,1,5,2,6"/><path d="M409 249.5h282" stroke-dasharray="0,1,1,3,1,4,2,9,1,14,1,1,1,1,1,2,1,2,1,1,2,2,1,1,2,1,1,1,1,1,1,12,1,4,2,2,1,7,1,3,1,3,1,1,1,3,1,6,2,4,1,1,2,11,2,7,1,5,1,3,1,1,1,4,1,2,1,4,1,3,1,3,1,10,2,1,2,8,1,4,1,3,1,2,1,5,1,5,1,1,1,2,1,2,1,10,1,20,1,2,1,7,2,1,2,3"/><path d="M409 250.5h282" stroke-dasharray="0,4,1,1,1,4,1,12,1,3,1,1,1,1,1,8,1,4,1,3,2,1,1,4,1,3,1,8,3,2,1,5,1,2,1,2,1,1,3,3,1,3,1,2,1,4,1,2,1,1,2,12,1,7,1,4,1,2,1,1,1,1,3,14,1,5,1,1,1,3,1,1,1,1,1,11,1,4,1,4,1,3,1,1,1,4,1,10,1,3,1,10,1,2,1,1,1,12,1,4,2,8,1,4,2,2,1"/><path d="M409 251.5h282" stroke-dasharray="0,4,1,3,1,1,1,1,1,4,1,6,1,6,1,2,1,1,1,1,3,1,1,2,1,2,2,3,3,4,1,1,1,7,2,3,3,2,1,2,3,1,1,1,1,8,2,2,1,1,1,1,1,5,1,1,1,1,2,1,2,5,2,3,7,4,2,5,1,3,1,3,1,1,2,2,1,1,1,6,1,7,1,2,1,9,1,2,1,1,1,1,1,1,1,2,1,3,1,12,1,4,1,2,1,1,1,2,1,2,1,1,2,3,1,7,2,1,1,5,1,1,1,4,1,1,1,1,1,8"/><path d="M409 252.5h282" stroke-dasharray="0,6,1,2,1,2,1,1,1,9,1,7,2,2,2,2,1,4,1,4,4,3,1,2,1,2,1,1,1,3,1,15,1,2,1,2,2,1,2,3,4,5,1,5,2,9,1,3,1,6,1,10,1,4,1,3,1,10,1,6,1,5,2,4,1,1,1,5,1,7,1,9,1,6,1,5,1,4,1,7,1,9,1,9,1,1,1,4,1,1,2,3,1,2,1,2,1,3"/><path d="M409 253.5h282" stroke-dasharray="0,1,1,2,1,1,1,3,2,5,1,5,1,1,2,9,1,7,1,1,1,2,1,2,2,3,3,2,3,1,1,2,1,1,3,3,1,3,1,2,1,6,3,1,3,1,1,4,1,3,3,6,1,7,3,6,2,1,1,1,1,3,1,9,1,3,1,2,1,5,1,2,1,13,1,2,1,2,1,1,1,1,1,6,1,3,2,5,1,1,1,1,1,8,1,19,2,2,1,9,2,4,1,4,1,1,1,4,2,3,1"/><path d="M409 254.5h282" stroke-dasharray="1,1,3,1,2,2,1,4,1,3,1,2,1,12,1,2,1,1,1,2,1,2,1,4,1,2,2,1,1,6,1,3,1,4,1,4,1,1,3,1,6,6,2,4,1,1,1,1,2,2,1,1,4,4,1,2,1,5,1,1,1,3,1,4,1,1,2,1,1,4,1,1,2,1,1,2,1,2,1,5,1,3,1,5,1,2,1,1,3,13,2,5,2,3,2,2,1,1,1,9,1,2,1,3,1,5,1,1,1,11,1,7,1,4,1,5,2,4,1,1,1,1"/><path d="M409 255.5h282" stroke-dasharray="0,1,1,3,4,3,4,1,1,4,1,2,2,1,1,1,1,2,2,5,1,2,1,1,3,2,1,7,1,5,1,1,1,2,4,1,1,4,3,1,1,1,2,3,1,2,2,1,1,3,2,2,1,3,1,1,3,8,1,1,1,4,1,3,3,5,1,2,1,12,2,2,1,2,3,2,1,5,1,1,1,1,2,1,1,2,1,3,1,2,1,2,1,4,2,6,1,1,1,2,1,1,1,2,1,4,1,1,1,2,1,5,1,1,1,6,2,10,2,5,1,1,1,1,1,6,1,1,1,3,1,2,1"/><path d="M409 256.5h282" stroke-dasharray="1,4,4,1,1,5,1,5,1,1,1,5,1,2,1,1,2,2,1,1,2,2,1,3,1,3,2,1,1,1,8,5,3,1,1,3,1,2,1,3,2,1,1,1,1,3,1,3,1,2,1,1,1,8,1,1,5,2,1,3,1,1,1,1,2,1,2,1,1,9,2,9,5,4,3,4,1,9,2,1,1,2,1,2,1,1,1,3,1,5,1,5,1,12,1,3,1,4,1,2,1,2,1,5,1,1,1,10,2,4,1,1,2,1,1,4,2,6,1"/><path d="M409 257.5h282" stroke-dasharray="0,4,1,1,1,7,1,4,1,3,1,5,1,7,1,1,1,3,1,6,1,3,2,1,1,1,2,1,2,2,1,1,1,3,1,6,1,4,1,2,1,2,3,2,1,16,1,6,2,6,2,1,2,3,2,2,1,3,1,1,1,3,1,2,2,2,1,9,1,3,2,3,1,11,1,5,1,1,2,6,1,1,1,2,1,1,1,1,1,21,1,1,2,6,1,7,1,1,2,2,1,3,1,4,1,2,1,4,2,2,3"/><path d="M409 258.5h282" stroke-dasharray="0,5,3,2,1,1,1,1,1,3,1,3,1,17,7,1,2,3,1,4,1,5,1,1,2,9,3,1,3,3,1,6,1,1,1,1,1,6,2,2,1,2,1,2,2,7,2,2,1,4,2,1,1,5,1,1,2,2,1,4,2,3,1,2,1,3,1,2,1,10,1,7,1,3,2,1,1,4,1,12,2,20,1,2,1,18,1,3,1,4,1,9,1,3,1,2"/><path d="M409 259.5h282" stroke-dasharray="0,1,1,12,2,4,1,1,1,3,1,5,1,13,1,1,1,10,1,1,1,1,1,2,2,6,3,1,1,1,1,1,1,1,1,2,1,2,2,1,2,16,1,3,1,4,1,3,1,4,1,5,1,1,1,2,1,2,1,4,1,3,1,20,1,4,1,10,1,2,1,13,1,7,1,8,1,1,1,5,1,13,2,8,1,7,1,4,2,4,1,3,2,2"/><path d="M409 260.5h282" stroke-dasharray="1,5,1,4,1,4,1,4,2,3,1,6,1,3,2,1,1,3,1,1,1,2,1,1,1,6,1,2,3,1,1,5,1,2,1,1,4,1,2,2,1,4,1,4,2,4,1,1,1,3,1,2,1,3,1,5,1,5,1,5,1,1,2,5,1,2,2,7,1,2,1,2,2,1,1,7,1,7,2,11,2,10,1,6,2,19,3,12,1,6,1,2,1,3,1,6,1,6,1,4,1,2"/><path d="M409 261.5h282" stroke-dasharray="1,2,1,2,1,2,1,1,1,3,1,8,1,3,1,8,1,1,1,5,2,1,1,3,1,7,1,2,1,1,1,1,2,4,1,4,1,1,1,2,1,1,2,1,2,1,2,3,1,2,3,1,1,1,2,1,1,5,1,1,1,1,1,1,1,1,1,2,2,8,1,1,1,1,1,2,4,3,1,2,1,3,1,6,1,4,1,1,1,7,1,4,1,17,1,26,1,1,1,3,1,1,1,13,1,5,1,2,1,10,1,6,1,1,1,2"/><path d="M409 262.5h282" stroke-dasharray="0,1,1,1,2,3,1,4,1,1,1,7,1,2,2,7,2,3,1,4,1,1,1,1,1,2,2,3,3,3,1,11,1,1,2,5,4,3,1,2,2,1,1,4,4,4,2,1,3,1,1,1,2,1,3,1,5,1,1,2,1,5,2,2,1,2,3,1,1,4,1,12,1,1,2,7,1,5,1,4,1,5,1,4,2,19,4,7,1,5,1,5,1,3,1,12,1,3,2,5,1,4,2"/><path d="M409 263.5h282" stroke-dasharray="1,3,1,11,1,6,1,1,1,1,1,1,3,2,1,3,2,1,1,5,1,2,1,2,1,2,2,2,3,2,1,9,1,1,2,1,1,1,2,2,1,4,3,1,2,2,2,1,1,4,1,1,2,1,2,5,3,1,1,2,1,3,1,1,2,1,5,1,1,1,1,1,1,1,1,2,1,6,1,1,2,1,1,7,2,2,1,7,1,1,1,6,2,5,1,7,1,5,1,2,1,2,1,2,1,2,1,2,1,9,1,1,1,3,1,4,1,5,1,4,1,2,1,1,1,3,1,2,4,1,4,1,1"/><path d="M409 264.5h282" stroke-dasharray="0,6,1,3,1,4,2,1,1,5,2,2,1,9,1,2,1,4,1,6,1,5,1,7,3,2,1,1,1,1,4,2,1,12,3,4,2,2,1,1,2,3,2,10,2,1,2,10,1,8,1,2,2,4,1,5,1,2,1,1,1,4,1,2,1,3,1,4,1,3,1,3,2,17,1,1,1,1,1,14,2,1,2,9,1,2,1,1,2,12,1,2,1,1,2,5,1,1,1,2"/><path d="M409 265.5h282" stroke-dasharray="0,2,1,5,1,5,1,1,1,1,1,1,1,4,1,9,1,3,1,2,2,1,3,2,2,1,1,3,1,3,1,3,3,5,1,2,6,3,1,1,2,1,3,2,1,4,2,2,1,1,1,1,1,1,1,1,2,2,2,1,1,2,3,1,2,3,2,7,1,5,1,1,1,5,1,3,1,1,1,1,2,2,1,1,2,2,4,1,2,5,3,2,1,4,1,10,2,3,1,5,1,2,1,4,1,11,1,1,1,3,1,7,1,5,1,1,3,5,1,4,1,4,2,1,1,2"/><path d="M409 266.5h282" stroke-dasharray="0,6,1,4,1,3,2,1,1,27,1,2,2,10,1,3,1,1,1,1,1,3,1,3,4,1,1,2,2,2,1,1,1,6,1,2,1,2,1,3,2,6,1,6,1,3,1,1,2,4,1,10,1,2,1,5,1,1,1,4,1,13,1,7,2,1,1,14,1,11,1,2,2,6,1,1,1,5,1,4,1,1,1,35,1,5"/><path d="M409 267.5h282" stroke-dasharray="0,5,1,1,1,1,1,3,2,3,1,3,1,5,1,1,1,2,1,2,1,3,3,1,1,2,1,1,2,1,1,1,1,3,1,4,1,1,1,2,2,2,2,5,2,1,1,1,1,6,4,1,4,2,2,2,1,2,1,2,3,4,1,2,2,4,1,2,1,2,1,1,2,4,2,3,1,1,1,2,1,2,2,3,1,4,1,4,2,1,3,2,4,3,1,1,4,5,2,1,2,7,4,1,1,2,1,15,1,2,1,7,1,2,2,1,1,4,1,3,1,11,1,1,1,3,2,3,1"/><path d="M409 268.5h282" stroke-dasharray="2,1,5,2,1,2,1,1,1,1,5,2,1,5,1,2,1,4,3,2,1,3,6,8,1,4,7,1,1,1,1,2,1,1,1,3,1,2,2,2,1,1,2,3,1,2,1,1,4,1,2,5,2,3,1,2,2,2,1,1,2,3,1,1,1,1,4,1,1,3,1,6,2,3,1,4,1,3,1,8,2,2,1,2,1,3,1,4,1,2,1,7,2,1,1,4,2,8,3,1,1,3,1,2,1,2,2,1,3,5,1,1,1,14,1,4,2,4,1,2,1,2"/><path d="M409 269.5h282" stroke-dasharray="0,1,1,7,1,3,1,5,1,1,2,2,1,5,1,1,1,2,1,8,2,1,1,5,1,4,2,2,1,7,2,1,2,1,1,1,1,4,1,2,1,4,1,2,1,2,1,2,1,2,1,1,1,1,2,12,1,10,1,7,1,3,1,9,1,3,1,2,1,5,1,6,2,4,1,3,1,1,1,6,1,2,1,4,1,8,1,3,1,1,1,1,1,3,1,9,1,7,1,6,1,4,4,3,1,10,2,3,1,5"/><path d="M409 270.5h282" stroke-dasharray="0,1,1,6,1,1,2,1,2,4,1,1,1,1,4,3,1,2,2,1,1,1,1,1,4,2,2,1,2,3,1,1,4,2,1,2,2,1,4,1,2,1,1,2,1,2,2,1,2,1,2,1,1,1,1,3,2,3,2,5,1,1,3,1,2,6,1,1,1,3,2,4,3,1,1,3,1,1,1,1,1,3,2,3,2,3,3,4,1,14,1,5,2,16,1,5,1,1,1,1,1,1,1,2,1,2,1,3,1,2,1,2,1,5,1,2,1,2,1,7,1,7,1,3,1,1,1,2,2,1,2,5"/><path d="M409 271.5h282" stroke-dasharray="0,1,1,2,1,4,1,10,1,4,1,7,1,9,2,4,3,1,2,1,3,2,1,1,1,3,1,2,2,7,1,2,1,3,1,3,1,6,1,4,1,10,1,4,1,1,1,7,1,5,1,6,2,4,1,4,2,1,1,3,1,7,1,3,2,9,1,3,1,9,1,19,1,17,2,12,1,8,1,7,1,16"/><path d="M409 272.5h282" stroke-dasharray="0,2,1,15,1,1,1,2,1,23,2,1,2,3,3,10,3,2,1,2,1,3,1,7,1,2,2,1,3,2,1,3,1,8,3,1,1,5,1,5,1,2,1,3,1,2,1,5,2,1,1,1,1,3,2,2,1,2,1,5,1,8,1,1,1,1,1,13,1,9,2,3,1,5,2,1,1,3,1,10,1,2,1,4,1,3,1,2,1,17,1,10,1,1,1,3"/><path d="M409 273.5h282" stroke-dasharray="1,3,2,5,2,6,1,4,1,3,1,1,2,1,1,1,1,2,1,5,2,5,1,3,1,8,1,3,1,8,1,8,1,3,2,6,1,1,1,1,1,2,1,1,1,1,1,6,2,4,4,1,2,2,1,3,1,5,1,1,1,2,1,9,2,1,1,2,1,3,1,11,1,1,1,5,1,1,1,2,1,4,1,5,1,1,2,7,1,11,1,4,2,7,1,3,1,1,1,16,1,9,1,1,1,7"/><path d="M409 274.5h282" stroke-dasharray="0,5,1,6,2,5,1,11,1,1,1,3,1,4,1,1,1,1,3,2,1,1,1,6,1,3,3,2,2,5,2,1,1,6,1,1,1,4,1,3,1,8,1,1,1,4,1,7,1,2,1,2,1,1,1,2,1,3,1,1,1,13,2,3,1,3,1,1,1,17,1,2,2,18,1,6,1,7,1,2,5,1,1,6,1,5,1,2,1,4,1,3,1,6,1,7,2,4,1,7"/><path d="M409 275.5h282" stroke-dasharray="1,4,1,3,1,4,2,1,3,4,2,7,1,6,3,2,2,1,1,1,1,2,6,4,1,3,2,1,1,4,3,4,2,4,2,2,1,1,1,4,1,4,1,6,1,1,1,1,2,1,1,3,5,4,2,1,1,3,1,3,1,1,1,1,1,3,1,4,1,5,1,1,2,1,1,9,1,2,2,4,2,2,1,4,1,13,1,6,1,1,1,10,2,1,1,1,1,13,1,1,2,1,1,4,1,1,2,4,1,1,1,6,2,6"/><path d="M409 276.5h282" stroke-dasharray="0,1,1,13,1,4,1,6,2,5,1,6,1,2,1,5,1,3,1,3,1,1,2,3,2,5,2,2,5,1,3,2,1,2,2,9,2,1,1,3,2,3,3,4,1,4,1,2,1,4,1,2,1,1,1,3,1,2,1,2,2,8,1,3,1,10,1,6,2,1,1,3,2,1,1,3,1,8,1,3,1,3,1,7,1,1,2,1,1,2,1,1,1,2,1,2,2,5,1,1,1,12,1,5,1,3,2,4,1,6,1,1"/><path d="M409 277.5h282" stroke-dasharray="0,3,1,4,1,2,1,3,1,1,1,3,1,5,2,4,1,1,2,1,2,2,4,1,1,2,2,1,3,1,2,4,1,1,2,3,1,1,1,9,2,1,2,2,1,1,2,2,1,3,1,1,2,1,1,1,3,8,1,1,1,4,1,1,2,2,1,1,1,1,1,4,1,2,1,2,1,8,2,1,1,1,1,10,2,3,1,1,1,3,1,2,1,5,2,2,1,1,1,1,1,11,1,14,1,1,1,10,1,6,1,10,1,6,1,1,1,2,1,1,2,1,1,2,2,2,1,1"/><path d="M409 278.5h282" stroke-dasharray="0,11,1,4,1,1,1,1,1,2,1,7,1,5,1,3,1,2,1,2,1,4,1,4,1,3,1,3,1,3,1,3,1,3,1,3,2,1,3,3,1,2,1,6,4,1,1,1,2,2,1,1,1,1,1,1,1,3,1,5,2,5,1,2,1,1,1,4,1,2,1,3,2,4,4,2,2,13,1,2,1,2,1,2,1,3,2,4,1,2,1,5,1,4,1,10,1,5,2,18,1,7,1,2,1,5,1,5,1,10"/><path d="M409 279.5h282" stroke-dasharray="0,3,1,3,1,4,1,1,1,1,1,1,1,2,1,4,1,1,1,2,2,1,1,1,2,1,1,2,1,19,3,7,2,1,1,2,2,4,1,3,2,1,1,5,1,10,1,5,1,1,2,4,2,3,3,1,1,4,1,2,1,1,1,1,1,2,1,4,2,6,1,2,1,6,1,8,1,1,2,1,1,6,1,6,1,17,3,3,1,3,2,16,1,4,2,4,2,3,1,1,1,3,1,5,1,3,1,1,1,4"/><path d="M409 280.5h282" stroke-dasharray="1,15,2,4,1,1,1,1,1,4,1,3,1,1,1,1,2,3,2,1,2,3,1,2,3,2,1,3,3,1,2,5,1,2,1,7,3,4,2,1,3,11,4,1,1,1,1,1,3,1,3,3,1,1,1,1,1,2,1,1,1,5,2,3,5,1,1,4,3,2,1,1,2,5,1,4,1,3,2,2,1,2,4,15,1,4,1,7,1,8,1,6,1,8,1,5,1,2,1,4,3,5,2,2,5,4"/><path d="M409 281.5h282" stroke-dasharray="0,1,3,3,2,2,1,3,1,2,1,2,1,8,1,2,1,6,1,6,2,3,1,7,1,3,1,7,2,1,3,1,1,1,1,8,1,1,1,7,2,1,1,2,1,5,1,2,1,3,1,2,1,6,1,2,1,3,2,2,1,6,2,2,1,1,1,1,1,2,1,5,1,1,4,4,1,4,1,10,1,4,1,2,2,15,1,6,3,2,1,4,1,2,1,6,1,5,1,19,1,1,3,9"/><path d="M409 282.5h282" stroke-dasharray="0,6,1,2,1,2,1,10,2,2,1,5,1,1,1,9,1,7,1,1,4,4,1,1,1,2,2,7,1,2,1,5,2,3,3,2,1,5,2,4,1,1,1,2,1,2,1,9,2,1,1,1,1,2,1,1,1,3,1,2,1,5,1,3,1,1,1,5,3,3,2,2,1,12,1,3,2,1,1,3,1,5,1,2,1,11,2,3,2,2,1,4,1,13,1,1,2,10,3,12,2,3,1,3"/><path d="M409 283.5h282" stroke-dasharray="1,1,1,4,1,3,1,2,2,4,1,5,2,9,1,2,1,2,1,1,4,5,2,2,1,2,1,5,1,3,1,3,1,2,1,3,2,3,1,3,1,1,1,10,1,1,2,8,1,5,1,4,1,1,2,2,2,12,1,1,1,3,1,7,1,4,1,5,1,2,1,3,1,4,1,5,1,28,1,1,1,7,1,9,1,2,1,23,1,3,1,1,1,7,1,1"/><path d="M409 284.5h282" stroke-dasharray="1,7,1,1,2,4,1,2,1,5,2,5,1,3,1,8,1,2,1,2,1,1,2,2,1,10,1,2,1,1,1,1,1,1,2,2,1,1,1,4,1,3,1,2,2,4,2,9,1,7,3,2,3,4,1,3,1,1,1,11,2,2,1,23,1,8,1,19,1,4,1,8,2,11,1,6,3,12,1,25"/><path d="M409 285.5h282" stroke-dasharray="3,8,1,2,1,6,1,1,1,3,1,1,3,5,1,1,1,1,1,5,1,1,1,1,2,2,2,1,1,2,1,3,1,3,1,2,2,1,1,3,1,1,1,2,2,1,1,2,2,3,2,1,1,1,2,1,3,1,1,1,1,1,3,3,2,1,3,4,2,2,1,2,1,1,4,1,4,2,1,2,3,1,1,1,1,5,1,1,2,1,2,1,1,2,1,1,1,5,2,2,1,4,2,2,2,5,1,3,1,4,1,4,1,1,1,2,2,3,1,4,1,1,1,13,1,2,1,4,2,2,1,1,1,5,2,1,1,4,2,1,1,4"/><path d="M409 286.5h282" stroke-dasharray="0,2,1,7,1,1,3,1,1,14,1,2,1,2,1,3,2,1,1,1,2,6,1,2,2,5,1,2,1,3,1,1,1,11,2,5,1,1,1,6,1,2,3,1,2,3,2,7,1,6,1,3,1,3,1,5,1,4,1,1,1,1,2,5,1,5,1,3,1,2,1,9,1,17,1,13,1,7,1,8,1,8,1,5,1,10,1,13,1,10"/><path d="M409 287.5h282" stroke-dasharray="3,1,1,2,1,1,4,2,1,3,1,1,1,7,1,5,1,1,2,1,1,6,1,4,2,2,3,1,2,1,1,1,6,1,1,1,2,1,1,1,2,1,1,1,2,2,1,2,1,2,1,2,2,1,2,1,1,1,1,3,1,1,1,1,3,3,1,5,1,1,1,4,1,1,3,1,2,1,3,2,1,7,1,3,1,7,1,2,1,5,1,1,1,1,1,1,1,1,1,4,1,1,1,3,1,1,1,4,1,2,1,3,2,7,1,4,1,3,1,1,1,1,1,7,1,2,1,3,3,2,1,11,1,1,1,1,1,5,1,9"/><path d="M409 288.5h282" stroke-dasharray="0,9,1,3,1,1,3,5,1,1,2,5,1,6,2,4,1,3,1,7,1,5,1,3,1,1,1,1,4,2,1,5,3,1,2,1,2,1,1,1,1,1,1,2,1,2,1,3,1,1,1,1,1,1,2,3,1,1,2,3,1,5,2,5,1,2,1,4,1,2,1,1,1,4,1,6,1,4,1,2,1,6,1,5,5,4,1,3,1,1,1,5,1,17,1,11,1,3,1,1,1,10,1,3,1,1,1,5,1,10,2,4,1"/><path d="M409 289.5h282" stroke-dasharray="0,7,1,14,1,8,2,12,1,12,1,1,1,3,1,5,1,3,1,3,1,2,2,6,2,6,3,4,1,2,1,2,1,1,1,1,2,3,3,6,3,1,1,4,1,5,1,1,1,3,2,3,1,5,1,3,1,2,1,12,2,8,1,2,2,20,1,1,2,5,1,1,1,4,1,1,2,6,1,2,1,4,1,5,1,3,2,21"/><path d="M409 290.5h282" stroke-dasharray="0,2,1,2,2,1,1,2,1,3,2,2,3,7,1,4,1,1,1,5,2,4,1,1,2,1,4,3,4,2,5,3,2,1,1,2,1,1,1,3,1,3,1,1,7,2,1,1,2,5,2,2,1,2,1,4,2,3,2,3,1,1,1,2,2,1,1,3,1,1,1,2,2,1,1,3,2,1,1,1,2,1,3,1,1,1,1,1,1,2,1,5,2,2,1,4,1,1,2,1,1,2,1,5,1,2,1,3,1,17,1,17,1,3,2,4,1,6,1,2,1,1,1,1,1,10"/><path d="M409 291.5h282" stroke-dasharray="0,9,1,1,1,2,1,3,1,3,2,3,2,1,1,6,1,2,3,2,1,4,2,3,1,5,1,1,1,1,1,4,1,4,2,4,1,7,1,2,1,1,1,5,2,2,1,3,1,4,2,6,2,2,2,4,1,1,1,2,1,16,1,4,1,3,1,1,1,9,1,3,2,6,1,19,1,6,1,5,1,7,1,1,2,6,1,4,1,13,1,1,1,23"/><path d="M409 292.5h282" stroke-dasharray="0,6,1,2,1,5,1,1,1,1,4,1,1,2,1,1,2,1,3,1,4,1,1,2,1,6,1,2,1,1,1,4,1,2,1,1,3,3,1,3,4,2,1,1,2,1,1,3,1,4,1,1,1,2,1,1,1,1,1,2,1,2,3,1,1,1,1,2,1,1,4,1,2,1,2,6,2,1,3,1,1,1,1,7,1,1,1,3,1,1,2,2,1,3,1,2,2,3,2,2,1,3,3,3,1,6,1,2,1,7,1,7,1,5,3,2,1,1,1,12,1,2,1,4,2,1,1,6,1,3,1,2,2,5,3,2"/><path d="M409 293.5h282" stroke-dasharray="3,3,2,1,1,7,1,1,1,1,2,1,1,1,2,2,2,3,1,3,1,6,2,1,5,1,6,1,2,4,2,3,3,1,1,5,4,2,6,1,2,3,1,4,1,1,1,2,2,11,1,1,1,3,1,2,3,10,1,2,2,1,1,1,1,4,1,4,3,2,2,2,1,2,3,1,1,2,1,3,2,1,1,2,1,1,1,1,1,1,1,2,1,1,2,6,1,1,2,3,1,7,1,3,1,3,1,7,1,6,1,15,1,10,2,3"/></g><g stroke="#e06a14" stroke-width="1" fill="none" stroke-opacity="0.9"><path d="M409 294.5h282" stroke-dasharray="0,2,1,4,1,1,1,6,1,3,1,5,1,3,1,3,2,12,1,11,1,4,1,8,1,2,3,4,2,1,3,3,2,2,1,1,1,4,1,3,1,2,1,1,1,12,2,6,1,2,1,6,1,2,1,3,1,3,1,3,3,5,2,1,1,2,2,2,3,3,2,1,1,1,1,7,1,13,1,1,1,7,1,5,1,2,3,2,1,1,1,7,3,3,1,5,1,2,3,9,1,3,1,1,2,3"/><path d="M409 295.5h282" stroke-dasharray="0,3,1,1,1,4,2,1,1,1,2,1,1,4,1,5,1,3,1,5,1,11,1,1,1,7,1,1,1,7,1,1,1,2,1,4,1,10,1,4,1,1,1,1,1,1,1,1,2,6,1,1,3,8,1,1,1,6,2,1,1,1,2,4,1,7,1,1,1,2,1,3,4,4,1,2,1,3,2,1,2,1,1,4,1,2,1,8,2,5,1,3,1,1,2,6,3,3,2,3,2,1,1,2,1,1,1,6,1,1,2,3,3,6,2,2,1,2,2,7,1,1"/><path d="M409 296.5h282" stroke-dasharray="0,5,1,8,1,8,2,2,1,2,1,3,1,5,1,6,1,1,1,5,1,6,1,4,1,3,1,2,1,3,1,1,1,15,1,2,2,4,1,7,1,1,1,3,1,1,1,1,1,2,1,2,1,1,1,2,1,1,1,7,1,3,2,4,1,16,1,4,2,1,1,1,1,4,3,9,1,1,2,4,2,2,1,1,1,7,2,3,1,1,1,1,2,6,1,2,1,1,2,5,1,12,1,1,1,3,2,8,2,1,1"/><path d="M409 297.5h282" stroke-dasharray="0,3,1,2,1,1,1,3,1,7,1,10,1,2,2,1,1,3,1,8,1,2,2,7,1,18,1,2,1,4,1,2,1,2,1,1,1,1,1,6,1,3,1,5,1,2,2,4,1,9,1,5,2,1,1,2,1,7,1,3,1,2,1,5,1,3,1,1,1,3,1,1,2,2,3,4,2,1,3,3,1,3,1,1,2,1,1,1,1,9,2,4,1,9,1,3,1,1,1,7,2,4,1,7,1,3,1,3,1,2,2,2,1,1"/><path d="M409 298.5h282" stroke-dasharray="0,21,1,2,1,2,2,3,1,5,1,23,1,2,1,27,1,3,1,3,1,1,2,2,1,7,3,1,3,2,1,1,2,5,1,2,1,2,1,7,3,1,1,2,3,1,1,1,1,1,1,1,1,1,1,3,2,4,1,2,1,5,1,1,1,2,2,2,1,1,3,8,1,3,1,1,2,1,1,3,2,2,1,2,1,7,1,1,1,6,1,9,1,7,2,9,1,5,1,2"/><path d="M409 299.5h282" stroke-dasharray="0,8,1,3,2,2,1,4,2,1,1,3,1,5,1,17,1,13,1,4,1,21,1,3,1,1,2,4,2,1,1,2,1,7,1,2,1,4,3,3,2,2,1,5,1,3,1,2,3,2,1,1,1,3,1,2,1,1,1,2,1,7,1,5,2,3,1,4,1,1,1,1,2,1,1,1,1,6,2,1,2,3,1,7,2,1,2,4,1,1,1,7,1,2,1,1,1,11,1,7,1,10,1,1"/><path d="M409 300.5h282" stroke-dasharray="0,4,3,10,1,4,1,2,1,17,1,2,1,26,1,12,2,5,1,16,1,6,1,2,1,8,1,5,1,1,1,1,4,1,2,15,1,7,1,5,1,2,1,1,1,11,3,1,1,10,1,3,1,10,2,2,1,1,1,1,2,1,2,6,1,2,1,2,1,13,1,5,1,1,1,12"/><path d="M409 301.5h282" stroke-dasharray="0,1,1,3,1,11,1,3,2,3,1,8,1,28,1,29,1,6,1,6,3,1,1,9,1,3,1,1,1,6,1,3,1,3,3,4,1,1,4,1,1,7,1,14,1,6,1,1,2,1,1,3,1,5,2,8,1,10,1,3,2,2,1,2,1,1,1,2,1,2,1,5,1,1,3,8,1,1,1,8,1,3,2,2,1,1"/><path d="M409 302.5h282" stroke-dasharray="0,11,1,8,2,3,1,4,1,1,1,5,1,4,1,3,1,24,1,3,1,4,1,1,1,2,2,7,1,4,1,3,1,1,1,2,1,4,1,6,1,6,2,4,1,4,3,1,3,3,1,7,1,8,2,2,1,3,2,1,1,3,1,7,2,1,3,1,1,1,1,3,2,1,1,1,1,3,2,1,1,3,1,1,1,4,1,1,1,8,1,14,1,1,1,5,2,2,1,2,2,3,1,3,3,1,1,2"/><path d="M409 303.5h282" stroke-dasharray="0,9,1,2,1,1,1,8,1,19,2,7,1,33,1,6,1,5,1,7,1,8,1,18,2,7,1,3,1,5,2,11,1,6,1,1,1,2,3,17,2,2,1,2,1,2,1,9,1,5,1,7,1,3,1,13,1,11,1,4,1,13"/><path d="M409 304.5h282" stroke-dasharray="1,5,2,7,1,25,1,1,1,6,1,3,1,1,1,4,1,2,1,6,1,4,2,1,2,5,1,2,1,10,1,8,1,2,1,2,1,7,1,3,1,3,1,3,1,2,1,1,1,9,1,6,1,7,1,6,1,3,1,1,1,1,1,9,1,1,1,3,2,2,1,1,1,10,2,2,1,2,1,6,1,1,1,9,2,1,1,2,2,1,1,1,1,2,2,8,1,3,1,2,1,6,1,4"/><path d="M409 305.5h282" stroke-dasharray="0,5,1,7,1,4,1,19,1,5,1,11,1,23,1,2,1,13,1,10,1,2,3,8,1,1,1,9,2,1,1,7,1,8,1,2,1,3,2,2,1,1,1,8,1,4,1,1,1,1,1,1,1,1,1,4,1,2,1,3,2,2,1,3,1,6,1,5,1,1,1,8,1,1,1,3,2,7,1,1,1,30,1"/><path d="M409 306.5h282" stroke-dasharray="2,4,2,4,1,1,1,5,1,8,1,3,1,8,4,5,1,17,1,7,1,2,1,8,1,2,1,1,1,1,3,6,1,12,2,2,1,1,1,1,1,3,1,3,2,5,1,6,2,1,1,1,1,1,1,1,1,1,2,3,1,21,1,10,1,1,1,1,1,3,3,8,1,8,1,5,1,4,2,1,1,16,1,3,2,2,2,5,1,1,3,3,2,1"/><path d="M409 307.5h282" stroke-dasharray="0,6,1,1,2,8,1,3,1,4,1,13,1,10,1,11,1,1,1,9,1,1,1,1,1,8,1,8,2,3,1,4,3,12,1,1,1,5,2,6,1,2,6,3,2,1,1,1,1,1,1,4,2,2,1,9,1,2,1,1,1,5,1,3,1,8,2,6,1,3,3,2,1,6,1,1,3,5,1,9,1,1,2,4,1,5,1,4,1,2,1,4,1,3,2,4"/><path d="M409 308.5h282" stroke-dasharray="0,10,1,5,1,3,1,3,1,6,1,6,1,9,1,4,1,5,1,28,1,3,1,7,1,3,1,4,1,2,2,17,1,1,1,4,1,1,2,1,1,3,2,5,1,4,3,5,4,3,1,2,1,2,2,3,1,1,1,10,2,1,1,3,1,1,2,14,1,3,1,4,2,1,1,3,1,2,1,2,1,3,1,2,1,7,1,10,1,4,3,3"/><path d="M409 309.5h282" stroke-dasharray="0,1,1,6,2,1,1,2,1,2,2,2,2,3,1,13,2,9,1,2,1,15,1,9,1,10,1,1,1,1,2,10,4,4,2,3,4,1,2,2,2,1,2,1,1,2,1,6,1,1,1,1,2,1,1,1,2,1,1,1,2,2,2,4,1,2,1,2,1,1,3,2,3,2,1,3,1,2,1,2,1,1,9,3,1,2,1,4,2,1,2,1,1,1,4,4,1,5,1,4,3,2,1,2,1,2,1,13,2,2,1,4,1,1"/><path d="M409 310.5h282" stroke-dasharray="0,3,1,1,1,1,1,4,2,1,1,5,1,5,1,1,1,5,1,9,1,6,1,5,1,1,1,4,2,9,1,3,1,5,1,5,1,6,1,8,1,1,1,7,1,2,1,5,2,2,1,5,1,3,3,1,6,1,2,1,1,1,2,3,1,4,2,3,1,2,1,2,1,1,1,1,1,1,1,1,3,4,1,9,2,2,1,8,1,1,1,6,3,5,1,1,1,1,1,2,1,4,2,1,1,7,1,1,1,13,1,2,1,5,1"/><path d="M409 311.5h282" stroke-dasharray="0,3,1,5,1,8,1,2,1,1,2,4,1,4,1,4,1,6,1,15,2,9,1,10,1,6,1,3,1,7,1,3,1,1,2,4,1,4,1,2,1,2,2,1,1,5,2,1,1,2,1,1,1,1,3,1,2,3,3,1,1,1,1,1,2,2,1,4,2,1,1,1,3,2,1,1,1,10,2,2,4,2,1,3,1,1,2,1,2,4,1,4,2,3,1,5,2,3,1,3,2,9,1,4,1,3,1,2,1,4,1,3,2,4"/><path d="M409 312.5h282" stroke-dasharray="0,1,3,8,2,4,1,3,1,5,2,5,1,2,1,6,2,5,2,6,1,3,1,5,1,3,1,2,1,5,2,1,1,2,1,1,2,10,1,7,1,3,2,3,1,1,1,1,1,2,2,1,1,2,3,1,1,2,1,3,2,2,3,1,3,9,3,2,1,5,1,1,2,1,3,2,1,3,1,11,4,3,1,1,2,1,3,3,1,2,1,4,2,10,2,1,1,12,1,1,1,2,1,2,1,3,1,6,1,3,1,2,1"/><path d="M409 313.5h282" stroke-dasharray="0,15,1,1,1,2,1,46,1,1,1,19,1,6,1,4,2,8,1,11,1,2,2,13,1,1,1,1,1,2,1,8,1,3,2,12,2,6,1,3,1,10,1,5,3,14,1,1,1,5,1,1,1,12,3,6,2,6,1,20"/><path d="M409 314.5h282" stroke-dasharray="0,17,1,12,1,2,1,8,1,12,1,9,1,9,1,17,1,2,2,1,1,1,1,7,2,3,1,4,2,2,1,11,1,1,3,4,1,2,2,1,1,2,1,6,1,6,1,2,1,5,1,9,2,1,1,4,2,3,1,1,1,3,2,7,1,1,1,4,1,4,1,2,1,1,1,1,1,1,2,5,2,6,3,5,1,1,1,2,1,2,1,1,2,4,2,1,1,4"/><path d="M409 315.5h282" stroke-dasharray="0,2,1,1,1,2,2,25,1,33,1,1,1,1,1,3,1,14,1,19,1,10,1,8,2,8,1,6,1,2,1,14,2,8,1,2,1,3,1,7,1,11,1,3,1,2,1,7,1,2,1,7,1,12,1,6,2,15,1,3,2,8,1,1"/><path d="M409 316.5h282" stroke-dasharray="0,2,1,6,1,8,1,27,1,1,1,2,1,13,1,2,2,16,2,10,1,4,1,5,1,18,3,3,1,2,1,2,1,2,2,6,2,2,4,1,2,3,4,1,1,9,2,3,1,1,2,3,2,6,2,2,2,1,2,2,3,1,1,1,2,2,1,3,1,3,1,2,1,2,1,1,1,4,1,3,1,2,3,10,2,1,1,1,1,2,1,8,2,1"/><path d="M409 317.5h282" stroke-dasharray="0,17,1,6,1,4,1,3,1,11,1,11,1,11,1,6,2,1,1,3,2,7,1,5,1,2,1,3,1,5,1,3,1,15,1,3,1,7,1,6,3,13,1,8,1,4,1,1,1,1,1,7,1,7,2,4,1,15,2,2,1,7,1,19,1,4,2,2,1,8,2,3,1,2,1,1"/><path d="M409 318.5h282" stroke-dasharray="0,2,2,13,1,1,1,10,1,11,1,15,1,38,1,6,1,1,2,1,1,8,1,3,1,1,1,11,1,4,1,3,1,1,4,3,1,9,1,6,2,2,1,2,2,3,1,4,1,1,2,1,2,1,2,1,1,1,4,2,1,2,2,5,1,3,1,1,1,2,2,3,1,5,1,2,1,2,2,6,2,3,1,5,1,1,1,2,1,1,1,6,2,4"/><path d="M409 319.5h282" stroke-dasharray="1,8,3,16,1,6,1,4,1,1,1,2,1,13,1,2,1,8,1,2,1,2,1,29,1,5,1,2,2,1,2,6,2,5,2,1,2,8,1,3,1,4,1,1,1,4,1,1,1,3,1,1,5,1,1,3,3,6,2,2,3,2,2,3,1,4,2,1,3,1,2,5,2,1,1,3,1,2,1,2,1,3,1,4,1,4,1,1,1,4,1,3,1,3,1,1,1,2,1,6,1,4"/><path d="M409 320.5h282" stroke-dasharray="0,12,1,5,1,3,1,3,2,3,1,16,1,12,2,23,1,6,1,6,1,1,1,6,1,10,1,4,1,4,1,1,1,4,2,2,1,1,1,3,1,2,1,2,1,4,2,3,2,4,1,10,1,9,1,2,1,11,1,8,1,4,1,12,2,3,2,5,1,1,1,3,1,12,1,15,1,2"/><path d="M409 321.5h282" stroke-dasharray="4,4,2,3,1,9,1,3,1,2,1,2,2,5,1,6,1,1,1,4,1,7,1,4,1,16,1,3,1,3,3,6,1,2,1,2,2,7,2,2,1,5,1,2,2,2,1,1,1,3,1,5,1,3,1,2,1,9,3,4,2,2,2,1,2,2,2,3,1,4,1,1,1,4,5,5,1,1,1,3,2,1,4,1,1,2,1,2,1,1,2,7,2,12,1,1,1,1,1,17,1,1,1,5"/><path d="M409 322.5h282" stroke-dasharray="0,2,2,1,1,1,2,16,1,3,1,14,1,3,1,18,1,2,1,9,1,10,1,6,1,6,1,4,1,7,1,1,1,5,2,1,2,2,1,5,1,1,2,6,1,2,1,1,1,4,1,4,1,1,1,1,1,2,2,6,1,6,1,1,1,8,1,1,2,1,1,3,3,5,1,4,1,3,1,5,1,11,1,7,2,5,2,2,1,1,1,14,1,2,1,1"/><path d="M409 323.5h282" stroke-dasharray="0,5,2,2,1,7,2,4,2,3,4,10,1,3,1,6,3,6,1,8,1,7,1,18,1,1,1,9,1,5,1,2,2,3,1,4,1,2,1,6,2,1,2,2,3,6,2,4,3,4,2,2,1,1,1,2,2,1,1,1,2,11,1,11,2,10,1,2,1,5,1,3,1,1,2,2,1,1,1,1,2,1,1,1,1,4,1,1,1,2,1,5,1,3,1,2,1,2,1,8"/><path d="M409 324.5h282" stroke-dasharray="0,2,1,1,1,1,1,2,1,19,1,1,4,1,1,2,1,2,1,5,1,1,1,5,1,5,2,4,1,12,2,1,1,10,1,1,1,1,1,3,1,1,1,2,1,7,1,5,1,8,1,7,1,4,2,1,1,3,1,4,2,1,2,4,1,3,1,4,1,1,1,1,1,1,1,2,1,6,1,2,3,12,1,12,1,2,1,3,1,6,1,6,1,4,1,7,1,1,5,3,2,1,1,1,2,9,1"/><path d="M409 325.5h282" stroke-dasharray="0,7,1,19,1,23,1,3,1,12,1,12,1,14,1,3,1,8,2,2,1,1,1,13,1,4,2,1,1,2,2,4,1,2,1,1,4,1,1,4,2,1,1,3,1,1,1,5,1,1,1,1,1,2,2,6,2,1,1,2,1,2,1,2,1,1,1,1,3,11,3,1,1,6,1,5,1,6,3,3,1,11,1,18"/><path d="M409 326.5h282" stroke-dasharray="0,5,1,10,1,3,1,3,1,1,1,39,1,2,1,32,1,2,1,5,1,4,1,6,1,3,1,5,1,4,1,5,3,5,2,1,1,1,1,2,1,11,2,2,2,7,4,1,4,1,1,4,1,6,1,1,1,5,4,4,1,2,2,4,3,2,2,2,2,4,1,1,2,3,1,5,1,1,2,2,1,15"/><path d="M409 327.5h282" stroke-dasharray="0,9,1,1,1,1,1,13,3,2,1,9,1,3,1,2,1,13,1,1,1,8,1,12,1,1,1,6,1,1,1,1,1,2,1,1,1,2,1,5,1,1,2,3,1,3,1,2,1,1,3,6,2,2,1,4,2,2,2,1,4,3,4,4,1,3,1,2,2,1,1,2,1,1,1,3,2,2,1,2,1,3,1,7,5,5,1,6,1,8,1,1,1,1,1,1,1,4,1,8,1,24,2,1"/><path d="M409 328.5h282" stroke-dasharray="1,6,1,8,1,1,1,5,1,4,1,4,1,1,1,4,1,12,1,13,1,5,1,4,2,1,1,3,1,2,1,1,1,1,3,1,1,2,1,1,1,1,1,1,1,6,5,14,1,1,1,2,1,1,2,1,2,4,1,3,1,1,2,7,1,1,1,3,2,4,1,2,1,1,3,2,1,1,1,2,2,4,1,1,1,1,2,1,1,3,1,1,1,1,3,7,1,2,1,4,1,3,4,6,1,1,2,5,1,4,1,7,1,5,1,10"/><path d="M409 329.5h282" stroke-dasharray="0,4,1,10,1,10,1,18,2,7,1,8,2,9,2,4,1,8,1,2,2,3,1,3,1,2,1,2,1,11,2,1,1,1,2,4,3,5,2,3,2,3,3,1,2,3,1,4,4,6,1,5,4,1,1,7,1,1,2,3,1,6,2,9,1,1,1,6,2,6,1,2,5,2,1,3,1,3,1,5,1,5,1,1,1,1,1,1,2,2,1,2,1,1,1,3"/><path d="M409 330.5h282" stroke-dasharray="0,6,1,1,1,1,1,10,1,31,1,3,2,2,1,8,1,10,1,3,1,2,1,1,1,3,2,6,2,7,1,2,2,6,1,5,3,3,2,5,1,11,4,2,1,3,1,1,2,1,1,1,1,4,1,2,1,10,1,1,1,2,1,1,3,1,1,2,1,7,1,5,2,1,1,4,1,6,3,2,1,6,1,6,1,2,1,10,1,5,1,3,1,1,1,2,1,1"/><path d="M409 331.5h282" stroke-dasharray="0,3,2,2,2,31,1,2,1,10,1,18,1,19,1,5,1,3,1,15,1,3,1,2,1,3,1,5,1,5,1,2,2,14,1,5,1,5,1,4,1,5,1,5,1,16,1,7,1,1,1,3,1,3,1,8,1,1,1,5,1,9,1,1,1,4,2,12,1,8"/><path d="M409 332.5h282" stroke-dasharray="0,1,1,28,1,25,1,15,1,10,1,2,1,2,1,3,1,7,2,1,1,2,1,6,1,2,3,1,2,1,1,1,1,2,2,4,1,6,1,1,1,1,1,6,1,1,1,1,1,2,2,1,1,4,3,2,1,3,2,2,4,3,2,2,1,10,1,3,1,6,1,1,1,5,2,2,1,16,1,3,1,6,1,6,1,2,1,2,1,1,1,10,1,1"/><path d="M409 333.5h282" stroke-dasharray="2,3,1,2,1,2,1,2,1,1,1,3,1,1,1,2,1,1,2,13,1,22,1,3,1,10,2,3,1,6,4,3,1,3,4,5,1,3,1,2,2,5,1,6,1,2,1,8,1,2,1,12,1,1,2,5,1,1,1,2,1,5,1,1,1,2,3,1,1,2,1,1,1,1,2,4,2,7,2,1,1,9,1,10,2,1,1,1,1,9,1,2,3,4,1,3,1,15,1"/><path d="M409 334.5h282" stroke-dasharray="1,8,1,3,1,5,1,18,1,3,1,5,1,2,1,2,1,1,1,9,1,2,1,3,1,7,1,3,1,5,1,1,1,1,1,4,3,4,1,3,1,2,1,4,1,2,1,8,1,3,2,1,1,1,2,3,1,3,1,1,1,2,3,2,1,2,1,3,2,3,1,3,1,3,1,1,3,5,1,4,1,2,1,4,1,1,3,1,2,7,1,1,2,3,2,3,1,2,3,4,1,2,1,3,1,3,1,5,2,4,1,3,1,3,1,1,2,1,1,3,1,1,1"/><path d="M409 335.5h282" stroke-dasharray="0,4,1,11,1,3,1,14,1,5,1,14,1,1,1,3,1,3,1,4,1,5,2,4,1,3,1,26,2,3,1,3,1,11,2,4,2,2,1,2,1,1,1,1,1,4,1,3,1,1,1,5,1,12,1,4,1,6,2,7,1,9,2,10,1,1,2,2,2,3,1,5,1,2,1,4,1,1,1,2,2,4,1,15,1,3,1"/><path d="M409 336.5h282" stroke-dasharray="1,4,1,4,1,1,1,4,1,5,1,2,1,22,1,7,1,4,1,10,2,1,1,4,1,4,1,7,1,3,3,6,1,5,1,4,1,4,1,4,1,1,1,1,1,4,1,1,2,4,1,8,3,1,2,2,2,2,1,10,3,2,3,2,2,2,1,5,2,6,1,1,1,5,1,8,1,10,1,1,1,7,1,5,1,1,1,1,1,2,1,7,1,1,1,1,1,1,2,2,1,1,1,3,1,1"/><path d="M409 337.5h282" stroke-dasharray="0,4,2,19,1,8,1,3,1,22,1,19,1,16,1,10,1,3,1,4,1,6,3,1,1,8,1,2,1,1,1,2,1,4,1,2,1,11,1,9,1,2,1,13,1,2,1,1,1,4,1,2,1,2,1,3,1,3,1,10,3,3,1,3,3,8,1,4,1,10,1,16"/><path d="M409 338.5h282" stroke-dasharray="0,4,2,11,1,4,1,37,1,16,1,1,1,7,1,11,1,12,1,3,1,1,1,3,2,13,1,17,1,12,1,1,1,4,1,16,1,6,3,8,2,4,2,9,1,1,2,6,1,5,1,6,1,1,1,1,1,18,1,8"/><path d="M409 339.5h282" stroke-dasharray="0,4,1,9,2,15,1,1,1,2,1,30,1,2,1,7,2,5,1,11,1,3,2,1,1,1,1,27,1,7,1,1,3,4,1,2,1,5,1,3,2,2,1,10,1,4,1,4,2,13,1,3,1,2,1,4,1,7,1,7,1,1,1,3,2,7,1,1,1,1,1,2,1,7,1,1,1,10,2,5"/><path d="M409 340.5h282" stroke-dasharray="0,21,2,3,1,10,1,11,2,1,1,3,1,6,1,1,1,16,3,15,1,6,1,28,1,8,1,7,1,2,1,2,1,4,1,2,1,3,3,8,1,10,1,1,1,5,3,2,2,14,1,9,1,2,1,6,1,2,1,6,1,2,1,3,1,19,3"/><path d="M409 341.5h282" stroke-dasharray="0,8,1,21,1,2,1,56,2,1,1,3,2,2,1,2,1,1,1,17,1,7,1,1,1,1,1,17,2,1,1,1,4,4,1,4,1,11,1,1,1,7,1,6,1,1,1,10,1,2,1,1,1,13,1,2,1,3,1,5,1,5,2,3,2,8,1,3,1,1,1,8"/><path d="M409 342.5h282" stroke-dasharray="0,14,1,2,1,1,1,4,1,20,1,1,1,31,1,4,1,4,1,2,2,11,1,3,1,1,2,2,1,11,2,2,1,3,1,6,1,1,1,3,2,7,1,5,1,4,1,3,1,6,1,10,1,1,1,1,1,2,2,6,1,6,1,9,1,6,1,5,3,2,1,3,1,1,1,2,3,2,1,5,1,1,2,3,2,4,2,1,1,2,1,2"/><path d="M409 343.5h282" stroke-dasharray="1,3,1,11,1,6,1,21,1,2,1,17,1,2,1,8,1,10,1,8,1,8,1,1,2,4,1,1,1,1,1,1,1,1,1,1,1,1,1,1,2,1,1,4,1,5,7,5,1,7,1,2,2,3,1,1,1,1,1,2,2,1,2,3,1,1,1,1,1,1,2,1,1,15,1,8,1,5,1,3,2,2,1,4,1,3,1,3,1,4,1,1,1,1,2,6,1,3,1,6,1,1,2,2,1"/></g><g stroke="#556b2a" stroke-width="1" fill="none" stroke-opacity="0.9"><path d="M409 344.5h282" stroke-dasharray="0,10,1,10,1,3,1,5,1,9,1,3,1,5,1,19,1,2,1,15,1,11,2,5,1,5,1,6,1,5,2,15,1,1,1,3,1,23,1,10,1,1,1,4,1,2,1,3,1,1,1,7,2,10,1,3,1,3,2,10,1,3,2,7,2,2,1,1,1,8,1,11"/><path d="M409 345.5h282" stroke-dasharray="0,6,2,3,1,1,1,2,1,12,1,4,1,1,1,2,1,32,1,12,1,1,1,2,1,8,4,2,1,6,1,3,1,3,1,2,1,10,2,2,1,2,3,2,1,1,1,6,1,14,1,2,1,2,1,2,1,9,1,1,4,2,1,6,1,1,1,3,1,5,1,3,1,4,1,4,2,1,1,10,3,11,1,5,1,9,1,7"/><path d="M409 346.5h282" stroke-dasharray="0,3,1,1,2,18,2,32,1,18,1,12,1,14,1,12,1,5,1,6,2,4,1,2,1,6,1,2,1,8,1,17,2,2,1,2,1,2,1,6,1,2,1,4,1,7,1,10,1,4,1,7,1,1,3,7,1,1,1,3,1,28"/><path d="M409 347.5h282" stroke-dasharray="0,10,1,1,1,6,1,4,1,4,1,18,1,1,1,15,1,22,1,11,1,2,1,7,1,6,1,9,1,6,2,15,1,17,1,2,2,2,3,3,1,2,1,2,2,1,1,4,1,8,1,2,1,9,1,3,1,3,2,3,1,5,2,5,1,5,1,11,1,17"/><path d="M409 348.5h282" stroke-dasharray="0,13,1,10,2,7,1,1,1,6,1,7,1,4,1,22,1,2,1,15,1,3,1,13,1,4,1,2,1,6,1,6,1,13,1,7,1,1,1,8,1,2,1,17,1,3,1,6,1,3,1,13,1,3,1,13,1,2,1,2,2,2,1,33"/><path d="M409 349.5h282" stroke-dasharray="0,4,1,9,1,1,1,87,1,3,1,8,1,3,2,2,2,3,2,11,1,4,1,6,2,22,1,5,1,3,1,1,1,1,1,8,1,3,1,21,1,4,1,4,1,7,1,1,1,13,1,4,1,1,1,2,2,5,2,1"/><path d="M409 350.5h282" stroke-dasharray="1,6,2,12,1,2,1,2,1,22,1,4,1,25,1,7,2,1,3,2,1,5,1,13,1,2,1,13,1,2,1,1,2,3,1,5,1,12,2,2,1,7,2,1,1,6,2,2,1,1,1,1,2,7,1,3,2,2,2,1,1,4,1,4,1,1,1,10,1,3,1,5,1,7,2,2,1,1,1,2,1,8,1,1,1,1,2,1,1,2"/><path d="M409 351.5h282" stroke-dasharray="0,10,1,3,1,3,1,5,1,11,1,10,1,16,1,26,2,8,1,6,1,1,1,5,1,2,1,2,1,5,1,4,1,3,1,1,2,6,1,2,1,3,2,7,1,3,2,5,1,2,1,1,1,1,1,2,2,2,1,3,1,1,1,1,1,4,1,6,1,3,3,3,2,3,1,2,1,4,1,3,1,4,3,8,1,4,1,1,1,7,1,1,1,1,1,11"/><path d="M409 352.5h282" stroke-dasharray="0,4,1,9,1,11,1,11,1,4,1,15,2,5,1,8,1,3,1,29,1,7,1,6,1,3,4,21,1,8,1,5,1,5,1,4,1,1,1,2,1,1,2,2,1,10,1,2,1,4,1,2,1,14,2,3,1,2,1,12,1,19,1,5,1,7"/><path d="M409 353.5h282" stroke-dasharray="0,11,1,3,1,4,1,13,1,24,1,2,1,7,1,7,1,4,1,6,1,7,1,1,1,3,2,11,2,4,1,7,2,11,1,2,1,8,1,3,1,2,1,3,1,4,1,1,1,4,3,2,1,2,1,5,1,4,1,3,1,17,1,10,1,2,1,3,1,2,1,6,1,2,1,2,2,8,1,3,4,6,1,3"/><path d="M409 354.5h282" stroke-dasharray="0,3,2,2,1,8,1,7,1,12,1,11,1,7,1,26,1,3,2,17,1,14,1,18,1,4,1,8,1,3,1,1,2,9,1,1,2,5,2,1,1,9,1,28,1,2,1,14,2,6,1,1,1,2,1,11,1,6,1,8"/><path d="M409 355.5h282" stroke-dasharray="0,3,2,21,2,1,1,1,1,6,1,1,1,15,1,8,1,1,1,12,1,10,1,1,1,8,1,1,1,7,2,5,1,2,1,9,1,1,1,1,2,11,1,5,1,4,1,1,2,1,1,3,1,3,1,2,1,3,1,4,1,1,1,1,1,2,1,6,1,4,2,14,1,2,1,7,2,3,1,2,1,3,1,3,1,5,3,11,1,12,2"/><path d="M409 356.5h282" stroke-dasharray="1,15,1,6,2,2,1,11,1,1,1,5,1,10,1,1,1,1,1,5,1,30,1,4,2,5,2,1,1,3,1,1,2,2,1,2,3,1,1,1,1,6,1,1,1,3,1,2,2,5,1,1,1,3,1,1,1,1,1,7,1,1,1,2,1,5,1,1,2,2,1,1,2,2,1,5,1,1,1,2,1,1,2,2,1,6,1,1,1,8,1,3,1,1,1,5,2,11,1,1,2,6,1,7,2,5"/><path d="M409 357.5h282" stroke-dasharray="0,3,1,4,1,24,1,2,2,18,1,6,1,18,1,24,1,9,1,5,2,1,1,7,1,8,1,4,1,3,1,1,2,4,2,1,1,3,1,8,2,6,1,1,1,24,1,3,1,3,1,8,1,21,1,6,1,3,2,7,1,5,1,2,1,2"/><path d="M409 358.5h282" stroke-dasharray="0,1,1,2,1,5,1,5,1,2,2,5,1,3,1,3,2,18,1,2,2,5,1,5,1,23,1,2,1,2,1,3,1,7,3,5,1,2,1,3,2,3,2,13,1,2,1,5,1,6,1,2,2,2,1,3,2,4,4,3,1,13,1,4,1,5,2,13,4,2,1,8,1,1,1,2,1,1,1,3,1,3,1,1,1,1,2,3,1,1,1,5,1,3,1,3"/><path d="M409 359.5h282" stroke-dasharray="0,4,1,33,1,5,1,12,1,8,1,29,1,2,2,3,1,6,1,15,1,19,1,21,1,3,1,2,1,10,1,12,1,3,1,2,1,8,1,15,1,8,1,4,2,1,1,25,1,1,1,1,1,2"/><path d="M409 360.5h282" stroke-dasharray="0,2,1,24,3,4,1,32,1,15,1,4,1,2,1,5,1,5,1,9,2,8,1,21,1,3,1,5,1,11,1,3,1,1,1,10,1,2,2,3,2,6,1,1,1,2,1,1,2,6,1,15,2,7,1,10,1,9,3,5,2,4,1,1,1,1,1,2"/><path d="M409 361.5h282" stroke-dasharray="0,1,1,4,1,8,1,1,1,1,1,1,1,5,1,28,1,3,1,3,1,16,1,1,1,1,1,8,2,2,1,5,2,8,1,2,3,1,2,7,1,5,1,6,1,19,1,1,1,7,2,3,1,1,3,5,2,1,1,15,1,1,1,2,1,5,1,3,1,27,1,1,2,3,1,4,1,3,1,6,1,8"/><path d="M409 362.5h282" stroke-dasharray="0,4,1,1,1,1,1,1,1,4,1,3,1,2,1,1,1,4,1,1,1,6,1,1,1,6,1,15,3,1,1,5,1,2,1,5,1,20,2,3,1,3,1,3,1,2,3,2,1,10,1,2,1,2,2,3,2,5,2,3,1,1,1,1,2,2,1,1,1,4,1,3,1,1,1,2,1,7,1,4,1,5,1,4,1,1,2,3,1,6,1,8,1,12,1,14,1,2,2,10,1,2,1,6"/><path d="M409 363.5h282" stroke-dasharray="0,2,1,6,2,1,1,3,1,1,2,27,1,14,1,2,1,24,1,12,1,4,1,1,1,18,1,3,1,6,1,6,1,2,1,5,1,9,1,4,1,6,1,9,1,2,1,1,1,1,1,2,1,2,2,3,1,2,1,6,1,1,1,1,1,5,1,8,1,14,1,1,1,4,1,2,1,1,1,1,1,6,1,10"/><path d="M409 364.5h282" stroke-dasharray="0,11,1,1,1,9,1,40,1,3,1,12,1,15,1,1,1,3,1,21,1,1,1,11,1,4,1,3,1,2,2,3,1,4,2,3,1,2,1,6,2,5,1,2,2,8,1,1,1,7,1,2,1,6,1,7,1,5,1,8,1,9,1,14,1,2,1,6,1,7"/><path d="M409 365.5h282" stroke-dasharray="0,16,1,2,1,12,1,19,1,9,1,22,1,2,1,3,1,16,1,14,1,13,1,7,1,11,1,30,1,2,1,13,1,5,2,5,1,14,1,1,2,3,1,4,1,3,1,5,1,15,1,1,1,7"/><path d="M409 366.5h282" stroke-dasharray="0,6,1,24,1,4,1,28,1,3,1,1,1,28,1,5,2,5,1,10,1,8,1,6,1,14,1,2,1,7,1,5,2,1,1,3,2,3,1,10,1,3,1,5,1,11,1,12,1,9,1,4,1,1,1,6,1,27"/><path d="M409 367.5h282" stroke-dasharray="0,6,1,16,1,1,1,1,1,7,1,7,1,18,1,8,1,18,1,7,2,10,1,5,1,6,1,3,1,13,1,5,1,14,1,1,2,2,3,4,1,6,1,2,1,4,1,7,1,1,1,11,1,2,1,5,1,4,1,3,1,2,2,3,1,1,1,16,1,4,3,5,2,6,1,3"/><path d="M409 368.5h282" stroke-dasharray="0,1,1,10,1,1,1,21,1,3,2,2,1,4,1,5,1,3,1,30,1,5,1,1,1,2,3,1,1,5,1,4,1,6,1,3,1,2,1,2,1,3,1,3,1,7,1,6,1,1,1,9,1,1,2,2,1,5,1,1,1,1,1,1,1,3,1,9,1,7,1,1,1,2,1,1,1,1,2,1,1,2,1,2,3,12,1,3,3,1,1,8,1,6,1,2,1,2,1,9,1"/><path d="M409 369.5h282" stroke-dasharray="1,4,1,11,1,1,2,4,1,6,2,19,1,5,1,1,1,3,1,3,1,14,1,4,1,14,1,2,1,6,1,2,1,1,1,3,1,3,2,10,1,3,2,1,3,9,1,5,1,3,1,4,1,7,1,2,2,3,2,17,1,3,1,10,1,7,2,1,1,21,1,7,1,2,1,3,1,8,1,1"/><path d="M409 370.5h282" stroke-dasharray="2,2,1,3,1,2,1,6,1,25,1,18,1,12,1,16,1,1,1,4,1,3,2,4,1,2,1,2,3,3,1,3,1,1,1,3,3,2,1,4,1,1,2,11,4,5,3,1,1,3,1,9,3,3,2,2,1,2,1,1,2,1,1,3,1,2,1,1,2,6,1,1,1,5,2,6,1,10,1,1,1,12,1,6,2,1,1,2,1,6,1"/><path d="M409 371.5h282" stroke-dasharray="1,17,1,1,2,2,3,5,1,3,1,9,2,3,1,4,1,15,1,16,2,6,2,10,1,13,3,1,1,7,3,1,1,1,1,11,1,7,1,3,2,1,1,1,1,3,1,2,1,2,1,7,1,7,2,3,1,1,1,3,1,6,4,1,1,3,1,4,2,4,2,5,1,1,1,5,2,4,1,7,1,4,2,9,1,2"/><path d="M409 372.5h282" stroke-dasharray="0,2,1,2,1,1,2,2,1,6,1,2,1,21,2,2,1,15,2,23,3,6,2,8,1,7,1,2,2,6,4,2,1,2,1,1,2,4,1,4,1,1,1,4,2,12,1,2,1,3,2,1,2,6,3,5,1,2,2,2,1,7,1,2,2,1,1,15,1,4,1,4,1,5,1,1,1,6,1,2,3,1,1,2,1,6,1,7"/><path d="M409 373.5h282" stroke-dasharray="0,4,2,8,1,2,1,2,1,5,1,12,1,10,1,11,2,11,2,5,1,30,1,2,1,2,1,10,1,7,2,4,1,4,1,5,1,6,1,1,1,1,1,1,1,1,1,2,1,11,2,11,1,11,1,2,1,13,1,15,1,13,1,4,1,1,1,4,1,5,1,6"/><path d="M409 374.5h282" stroke-dasharray="1,4,1,2,1,1,1,1,1,3,1,2,1,9,1,1,1,5,1,21,1,3,1,15,1,3,1,17,1,6,3,2,1,4,1,2,1,7,1,3,1,1,1,6,1,7,2,2,1,3,1,6,2,8,1,3,2,1,1,1,1,4,1,7,3,1,1,3,2,1,1,2,1,2,1,2,2,3,1,1,1,6,1,2,1,3,1,8,1,11,1,3,1,2,1,2,1,3,1,4,1,3"/><path d="M409 375.5h282" stroke-dasharray="0,14,1,36,1,63,1,3,1,5,1,3,1,1,1,5,1,1,1,2,1,1,2,1,1,3,1,11,1,1,1,2,1,1,1,4,1,6,1,5,1,3,2,3,5,8,2,10,2,8,1,1,1,1,1,1,1,4,1,14,1,2,2,5,1,6,2,5"/><path d="M409 376.5h282" stroke-dasharray="0,1,1,2,1,2,2,1,1,2,1,7,1,1,1,2,1,1,1,13,1,3,1,9,1,3,2,50,1,4,1,5,1,1,1,3,2,3,1,21,1,1,1,3,1,7,1,1,1,3,1,4,2,7,2,6,1,6,1,5,1,1,2,5,1,3,2,2,3,2,1,8,1,1,1,2,1,9,1,4,1,1,1,1,1,9,1,5"/><path d="M409 377.5h282" stroke-dasharray="0,18,1,2,1,6,1,19,1,9,2,43,1,8,1,8,2,3,2,10,1,8,1,6,1,4,2,7,1,9,1,7,1,2,1,3,2,3,1,4,1,8,1,1,1,13,1,9,1,2,3,4,1,1,1,2,1,22,1,5"/><path d="M409 378.5h282" stroke-dasharray="0,3,2,4,2,3,3,13,1,5,1,2,1,9,1,2,1,3,1,9,2,2,1,4,1,15,1,7,1,1,1,3,1,3,1,7,2,4,1,3,2,7,2,5,3,1,1,9,1,8,1,4,1,3,2,2,1,1,1,4,1,2,1,10,2,1,1,2,1,8,1,3,1,1,1,3,2,2,1,2,1,5,1,1,1,10,1,1,1,4,1,3,2,3,1,6,1,3,1,3"/><path d="M409 379.5h282" stroke-dasharray="0,9,1,21,1,23,1,5,1,1,1,1,1,20,1,22,1,15,1,5,2,17,1,11,1,1,1,9,1,1,1,5,1,7,1,6,1,4,1,26,1,1,1,12,1,6,1,2,1,12,1,5,1,3,2,2,1"/><path d="M409 380.5h282" stroke-dasharray="0,8,1,2,1,4,3,1,1,15,1,4,1,1,1,3,1,10,2,5,1,5,1,2,2,29,1,3,2,4,1,3,1,4,1,4,3,1,1,2,1,3,2,2,1,1,1,8,1,1,1,3,1,2,2,1,1,7,1,3,1,6,1,2,1,1,1,3,1,3,1,4,1,1,1,1,1,1,1,2,1,12,1,6,1,5,1,7,1,1,1,14,1,17"/><path d="M409 381.5h282" stroke-dasharray="0,3,1,2,1,8,1,2,1,3,1,5,1,2,1,3,1,15,1,8,1,3,1,3,2,7,1,1,1,2,1,2,1,5,1,3,1,4,1,5,1,2,2,8,1,2,1,5,2,6,1,3,1,3,1,2,1,3,1,7,1,3,3,5,2,1,3,3,1,1,2,1,1,4,2,7,3,7,1,7,1,3,4,9,3,15,1,1,1,1,1,3,2,3,1,4,2,5,1,2,1,1"/><path d="M409 382.5h282" stroke-dasharray="0,21,1,4,1,2,1,5,1,33,2,14,1,1,1,3,1,3,1,6,1,17,1,2,1,20,1,4,1,4,2,5,1,2,1,11,1,9,2,4,2,3,1,10,1,5,1,13,2,6,1,11,1,20,1,1,1,10"/><path d="M409 383.5h282" stroke-dasharray="1,2,2,1,1,5,1,4,1,1,1,33,1,12,1,14,1,6,1,22,1,7,1,1,1,5,1,6,1,3,1,11,1,3,1,5,2,18,1,6,1,2,1,6,1,3,1,1,1,16,1,2,1,6,1,1,1,6,1,2,1,10,1,4,1,7,1,1,1,2,2,7,1,1"/><path d="M409 384.5h282" stroke-dasharray="2,5,1,4,2,4,1,2,2,4,1,19,1,1,1,13,1,12,1,14,1,2,1,3,1,1,1,3,1,6,2,2,1,2,1,2,1,4,1,7,2,4,1,7,2,11,1,1,1,5,1,2,1,4,1,3,1,2,2,1,1,2,1,6,1,7,5,1,1,2,1,5,2,3,2,1,1,3,2,4,1,17,1,1,1,2,1,8,2,1,1,8"/><path d="M409 385.5h282" stroke-dasharray="0,1,1,1,2,8,1,10,1,3,1,1,1,1,1,8,2,1,1,2,1,5,1,2,1,22,1,4,1,8,1,5,1,18,1,1,1,10,2,3,2,5,1,5,1,4,1,14,1,1,1,5,2,6,2,3,1,3,2,2,2,3,1,5,1,6,2,4,1,14,1,4,1,2,1,12,1,3,5,5,1,9"/><path d="M409 386.5h282" stroke-dasharray="0,5,1,6,1,6,1,1,2,5,1,10,1,1,1,5,1,2,3,12,1,6,1,10,1,3,1,17,2,4,1,10,1,1,1,4,3,7,1,3,1,2,2,1,1,7,1,4,1,2,3,4,1,2,1,2,1,1,1,3,2,1,1,6,1,11,1,1,1,1,1,7,1,2,2,1,1,2,1,9,2,2,1,11,1,5,1,1,1,4,1,4,2,5,1,1,1,1"/><path d="M409 387.5h282" stroke-dasharray="0,14,1,13,1,5,1,6,1,45,2,7,1,5,2,12,1,4,2,5,1,6,3,11,1,17,1,7,1,6,1,1,1,8,1,2,1,2,1,14,1,2,1,1,2,10,1,8,1,1,1,1,2,5,1,11,1,4,1,11,2"/><path d="M409 388.5h282" stroke-dasharray="0,2,1,5,1,5,1,1,1,2,1,1,1,5,1,8,1,20,1,11,1,5,1,9,1,9,2,7,1,7,2,1,1,1,1,2,1,2,1,5,1,1,1,1,1,10,1,1,1,2,1,3,2,3,1,4,1,1,1,1,3,3,1,2,1,1,1,11,1,9,1,10,1,1,1,1,1,1,1,11,1,7,1,2,1,10,1,4,1,3,1,4,1,2,1,13"/><path d="M409 389.5h282" stroke-dasharray="0,10,1,2,1,6,1,1,1,17,2,8,1,8,1,13,1,10,1,13,1,5,1,7,1,30,1,3,1,2,1,5,1,8,1,4,2,3,1,3,2,12,1,11,2,3,1,2,1,5,1,8,1,6,3,1,1,5,1,8,1,4,1,1,1,5,1,4,1,5,1,3"/><path d="M409 390.5h282" stroke-dasharray="0,1,1,17,1,4,1,16,1,63,1,9,3,2,1,7,1,2,1,7,1,4,2,7,1,1,1,9,1,2,1,7,2,2,1,5,1,1,1,16,1,2,1,2,3,8,1,3,1,5,1,23,1,9,1,6,2,5,1,1"/><path d="M409 391.5h282" stroke-dasharray="0,2,1,2,1,5,1,3,1,8,1,2,2,28,1,3,1,18,1,10,1,1,1,1,1,18,1,8,1,1,1,5,1,5,1,2,1,24,1,8,1,5,1,2,1,1,1,12,1,2,1,8,1,3,1,12,1,3,1,5,1,3,3,5,1,1,1,11,1,3,1,4,1,1,2,5,1"/><path d="M409 392.5h282" stroke-dasharray="0,11,1,1,1,12,1,1,1,22,1,30,1,4,1,2,1,5,1,1,1,3,1,8,2,10,1,8,1,6,1,6,1,7,1,3,2,7,1,15,1,1,1,2,4,3,2,12,2,8,1,8,1,5,1,9,1,4,3,1,1,2,1,1,1,9,1,5,1,1,1,5"/><path d="M409 393.5h282" stroke-dasharray="0,10,2,20,1,10,1,3,1,21,1,20,1,4,1,10,3,12,1,11,1,10,1,4,2,4,1,8,1,5,1,3,1,2,1,1,1,6,1,2,2,2,2,2,1,5,1,5,1,2,1,2,1,5,1,2,1,8,1,4,1,3,2,5,1,6,1,1,1,1,1,2,1,3,1,3,1,8,1,1"/></g><path d="M408.1 243.5H691.6" stroke="#666" stroke-width="1" fill="none"/><path d="M408.1 294.5H691.6" stroke="#666" stroke-width="1" fill="none"/><path d="M408.1 344.5H691.6" stroke="#666" stroke-width="1" fill="none"/><path d="M421.5 194.1V393.6" stroke="#111" stroke-width="3.1" stroke-dasharray="2.9,3.0" fill="none"/><path d="M486.0 194.1V393.6" stroke="#111" stroke-width="3.1" stroke-dasharray="2.9,3.0" fill="none"/><path d="M679.3 194.1V393.6" stroke="#111" stroke-width="3.1" stroke-dasharray="2.9,3.0" fill="none"/><rect x="408.1" y="192.6" width="283.5" height="202.00000000000003" fill="none" stroke="#111" stroke-width="2"/><text transform="translate(381.90,294.20) rotate(-90)" x="0" y="5.47" font-size="15.2" fill="#1a1a1a" text-anchor="middle" font-weight="bold">Number of trials</text><text x="90.80" y="414.60" font-size="14.1" fill="#1a1a1a" text-anchor="middle" font-weight="bold" >0</text><text x="157.20" y="414.60" font-size="14.1" fill="#1a1a1a" text-anchor="middle" font-weight="bold" >1000</text><text x="222.50" y="414.60" font-size="14.1" fill="#1a1a1a" text-anchor="middle" font-weight="bold" >2000</text><text x="288.80" y="414.60" font-size="14.1" fill="#1a1a1a" text-anchor="middle" font-weight="bold" >3000</text><text x="355.40" y="414.60" font-size="14.1" fill="#1a1a1a" text-anchor="middle" font-weight="bold" >4000</text><text x="420.90" y="417.00" font-size="14.1" fill="#1a1a1a" text-anchor="middle" font-weight="bold" >0</text><text x="487.70" y="417.00" font-size="14.1" fill="#1a1a1a" text-anchor="middle" font-weight="bold" >1000</text><text x="553.70" y="417.00" font-size="14.1" fill="#1a1a1a" text-anchor="middle" font-weight="bold" >2000</text><text x="620.40" y="417.00" font-size="14.1" fill="#1a1a1a" text-anchor="middle" font-weight="bold" >3000</text><text x="687.40" y="417.00" font-size="14.1" fill="#1a1a1a" text-anchor="middle" font-weight="bold" >4000</text><text transform="translate(217.50,433.50) scale(0.83,1)" x="0" y="0" font-size="16.4" fill="#1a1a1a" text-anchor="middle" font-weight="bold">Time rel. to stimulus onset [ms]</text><text transform="translate(550.20,435.10) scale(0.83,1)" x="0" y="0" font-size="16.4" fill="#1a1a1a" text-anchor="middle" font-weight="bold">Time rel. to stimulus onset [ms]</text><text x="0.00" y="459.50" font-size="26" fill="#111" text-anchor="start" font-weight="bold" >c</text><path d="M103.0 648.0 L112.0 637.5 L116.0 640.0 L108.0 652.0Z" fill="#8a8af2" stroke="#8c8c8c" stroke-width="1.6" stroke-linejoin="round"/><path d="M170.0 654.5 L176.6 633.8 L190.7 633.0 L197.0 637.0 L204.0 648.0 L208.0 654.5Z" fill="#8a8af2" stroke="#8c8c8c" stroke-width="1.6" stroke-linejoin="round"/><path d="M99.7 654.5 L112.5 638.0 L125.5 604.3 L143.8 575.0 L149.0 575.0 L154.2 582.0 L164.7 603.0 L185.2 654.5Z" fill="#f08a8a" stroke="#8c8c8c" stroke-width="1.6" stroke-linejoin="round"/><path d="M197.0 654.5 L214.2 641.0 L226.7 641.0 L240.0 651.0 L243.0 654.5Z" fill="url(#hatch)" stroke="#8c8c8c" stroke-width="1.6" stroke-linejoin="round"/><path d="M238.3 654.5 L253.3 637.0 L271.4 608.9 L285.0 622.6 L303.3 654.5Z" fill="#8a8af2" stroke="#8c8c8c" stroke-width="1.6" stroke-linejoin="round"/><path d="M307.9 654.5 L327.3 638.6 L341.0 638.6 L352.4 654.5Z" fill="#8a8af2" stroke="#8c8c8c" stroke-width="1.6" stroke-linejoin="round"/><path d="M89.0 455V654" stroke="#111" stroke-width="3.1" stroke-dasharray="2.9,3.0" fill="none"/><path d="M153.2 455V654" stroke="#111" stroke-width="3.1" stroke-dasharray="2.9,3.0" fill="none"/><path d="M344.4 519V654" stroke="#111" stroke-width="3.1" stroke-dasharray="2.9,3.0" fill="none"/><path d="M77.6 590.2C78.6 590.5 81.3 592.7 83.6 591.9C85.9 591.1 89.6 586.0 91.6 585.4C93.6 584.8 93.9 584.2 95.6 588.0C97.3 591.8 99.8 601.1 102.0 608.2C104.2 615.3 106.4 624.3 108.6 630.4C110.8 636.5 112.5 641.2 115.1 644.7C117.7 648.2 121.2 650.8 124.2 651.3C127.2 651.8 130.3 650.4 133.4 647.4C136.5 644.4 139.2 638.4 142.5 633.0C145.8 627.6 149.7 620.9 152.9 614.8C156.2 608.7 159.2 603.6 162.0 596.5C164.8 589.4 167.6 579.6 169.9 572.0C172.2 564.4 174.1 556.0 176.0 551.0C177.9 546.0 178.6 541.1 181.2 542.2C183.8 543.3 188.1 552.6 191.6 557.8C195.1 563.0 199.4 570.4 202.0 573.4C204.6 576.4 204.7 576.9 207.3 576.0C209.9 575.1 214.2 567.8 217.7 568.2C221.2 568.7 224.3 576.1 228.2 578.7C232.1 581.3 236.0 582.4 241.2 583.9C246.4 585.4 253.1 586.1 259.4 587.8C265.7 589.5 272.7 595.4 279.0 594.3C285.3 593.2 292.9 583.3 297.3 581.3C301.7 579.2 301.2 580.0 305.1 582.0C309.0 584.0 315.4 591.4 320.8 593.0C326.2 594.6 331.7 592.4 337.7 591.7C343.7 591.0 353.8 589.5 357.0 589.0" fill="none" stroke="#e0148c" stroke-width="3.2" stroke-linejoin="round" stroke-dasharray="9.5,4.8"/><path d="M77.6 581.7C78.4 582.8 79.5 588.0 82.5 588.0C85.5 588.0 91.2 579.9 95.6 581.5C99.9 583.1 104.9 593.8 108.6 597.8C112.3 601.8 114.4 606.7 117.7 605.6C121.0 604.5 124.5 595.3 128.2 591.0C131.9 586.7 136.9 584.6 139.9 580.0C142.9 575.4 144.5 567.5 146.4 563.4C148.3 559.3 149.9 557.1 151.6 555.6C153.3 554.1 154.2 555.4 156.8 554.3C159.4 553.2 164.1 550.6 167.3 549.1C170.5 547.6 172.4 548.1 176.0 545.2C179.6 542.3 183.8 537.1 189.0 531.7C194.2 526.3 201.9 515.6 207.3 512.8C212.7 510.0 217.7 513.4 221.6 514.8C225.5 516.2 228.0 517.8 230.8 521.3C233.6 524.8 235.6 528.6 238.6 535.6C241.6 542.6 245.5 556.7 249.0 563.0C252.5 569.3 256.6 570.4 259.4 573.4C262.2 576.4 263.2 578.0 266.0 581.3C268.8 584.6 272.0 593.9 276.4 593.0C280.8 592.1 286.5 580.0 292.1 576.0C297.8 572.0 305.5 568.4 310.3 568.9C315.1 569.4 317.3 574.5 320.8 578.7C324.3 582.9 328.2 591.0 331.2 594.3C334.2 597.5 336.4 599.1 339.0 598.2C341.6 597.3 343.8 595.2 346.8 589.0C349.8 582.8 355.3 565.7 357.0 561.0" fill="none" stroke="#1a9ad2" stroke-width="3.2" stroke-linejoin="round" stroke-dasharray="9.5,4.8"/><path d="M77.6 575.8C78.3 576.1 80.3 578.2 81.9 577.5C83.5 576.8 84.9 573.4 87.0 571.5C89.1 569.6 91.8 565.0 94.3 565.9C96.8 566.8 99.6 572.5 102.0 577.0C104.4 581.5 106.4 585.6 108.6 592.6C110.8 599.6 113.1 611.3 115.1 618.7C117.0 626.1 117.9 632.8 120.3 636.9C122.7 641.0 126.5 643.4 129.5 643.4C132.6 643.4 135.1 641.5 138.6 636.9C142.1 632.3 147.5 619.7 150.3 616.0C153.1 612.3 152.9 614.1 155.5 614.8C158.1 615.5 162.6 621.5 166.0 620.0C169.4 618.5 171.1 614.2 176.0 605.6C180.9 597.0 189.9 577.4 195.6 568.2C201.2 559.0 205.6 553.0 209.9 550.6C214.2 548.2 217.5 552.2 221.6 553.9C225.7 555.6 229.7 559.1 234.7 561.0C239.7 562.9 247.3 566.0 251.6 565.0C255.9 564.0 256.6 558.1 260.7 555.2C264.8 552.3 272.2 547.6 276.4 547.4C280.5 547.2 282.3 549.8 285.6 553.9C288.9 558.0 293.2 568.4 296.0 572.1C298.8 575.8 300.1 576.2 302.5 576.0C304.9 575.8 307.2 573.3 310.3 570.8C313.4 568.3 317.3 562.2 320.8 561.0C324.3 559.8 327.3 563.7 331.2 563.7C335.1 563.7 339.9 561.7 344.2 561.0C348.5 560.3 354.9 559.8 357.0 559.5" fill="none" stroke="#983434" stroke-width="2.8" stroke-linejoin="round"/><path d="M77.6 588.5C78.3 589.9 79.8 599.0 81.9 597.0C84.0 595.0 88.0 582.3 90.3 576.6C92.5 570.9 93.3 566.5 95.4 563.0C97.5 559.5 100.5 555.1 103.0 555.9C105.5 556.7 107.8 561.6 110.7 568.0C113.6 574.4 117.2 593.3 120.3 594.5C123.4 595.7 125.8 584.8 129.3 575.0C132.8 565.2 137.3 547.8 141.2 536.0C145.1 524.2 148.9 506.8 152.9 504.0C156.9 501.2 161.3 508.9 165.0 519.0C168.7 529.1 172.1 552.8 175.0 564.7C177.9 576.6 180.3 586.6 182.5 590.5C184.7 594.4 184.8 592.1 188.0 588.0C191.2 583.9 197.5 572.4 202.0 565.6C206.5 558.8 212.0 551.1 215.1 547.4C218.2 543.7 218.1 543.7 220.3 543.5C222.5 543.3 225.8 546.1 228.2 546.1C230.6 546.1 232.5 545.9 234.7 543.5C236.9 541.1 238.8 536.3 241.2 531.7C243.6 527.1 245.8 521.1 249.0 516.1C252.2 511.1 257.2 503.0 260.7 501.7C264.2 500.4 266.8 504.8 269.9 508.3C272.9 511.8 275.3 518.5 279.0 522.6C282.7 526.7 287.8 529.3 292.1 533.0C296.5 536.7 300.3 541.3 305.1 544.8C309.9 548.3 316.0 553.4 320.8 553.9C325.6 554.4 329.9 548.2 333.8 548.0C337.7 547.8 340.3 551.3 344.2 552.6C348.1 553.9 354.9 555.4 357.0 556.0" fill="none" stroke="#1a365e" stroke-width="2.8" stroke-linejoin="round"/><path d="M83 454.4H76.5V654.5H358" fill="none" stroke="#1a1a1a" stroke-width="2.6"/><path d="M76.5 521.4H83M76.5 589H83" fill="none" stroke="#1a1a1a" stroke-width="2"/><path d="M358.3 454.6V654.6" fill="none" stroke="#8c8c8c" stroke-width="3"/><path d="M358.3 485H365M358.3 542H365M358.3 598H365" fill="none" stroke="#8c8c8c" stroke-width="2"/><text x="62.00" y="465.70" font-size="15.4" fill="#1a1a1a" text-anchor="middle" font-weight="bold" >20</text><text x="62.00" y="526.80" font-size="15.4" fill="#1a1a1a" text-anchor="middle" font-weight="bold" >15</text><text x="62.00" y="594.20" font-size="15.4" fill="#1a1a1a" text-anchor="middle" font-weight="bold" >10</text><text x="62.00" y="659.40" font-size="15.4" fill="#1a1a1a" text-anchor="middle" font-weight="bold" >5</text><text transform="translate(38.60,555.00) rotate(-90) scale(0.835,1)" x="0" y="5.90" font-size="16.4" fill="#1a1a1a" text-anchor="middle" font-weight="bold">Response [spikes/sec.]</text><text x="90.00" y="678.20" font-size="14.1" fill="#1a1a1a" text-anchor="middle" font-weight="bold" >0</text><text x="155.90" y="678.20" font-size="14.1" fill="#1a1a1a" text-anchor="middle" font-weight="bold" >1000</text><text x="221.30" y="678.20" font-size="14.1" fill="#1a1a1a" text-anchor="middle" font-weight="bold" >2000</text><text x="288.30" y="678.20" font-size="14.1" fill="#1a1a1a" text-anchor="middle" font-weight="bold" >3000</text><text x="354.50" y="678.20" font-size="14.1" fill="#1a1a1a" text-anchor="middle" font-weight="bold" >4000</text><text transform="translate(220.20,696.90) scale(0.83,1)" x="0" y="0" font-size="16.4" fill="#1a1a1a" text-anchor="middle" font-weight="bold">Time rel. to stimulus onset [ms]</text><rect x="309.1" y="449.7" width="40.1" height="23.6" fill="url(#hatch)" stroke="#8c8c8c" stroke-width="1.6"/><rect x="309.1" y="482.0" width="40.1" height="23.4" fill="#f08a8a" stroke="#8c8c8c" stroke-width="1.6"/><text x="301.00" y="465.10" font-size="11" fill="#8c8c8c" text-anchor="end" font-weight="bold" >Interaction</text><text x="301.20" y="497.00" font-size="11" fill="#8c8c8c" text-anchor="end" font-weight="bold" >Value</text><text x="383.20" y="450.30" font-size="12" fill="#8c8c8c" text-anchor="middle" font-weight="bold" >PEV</text><text x="383.20" y="466.50" font-size="12" fill="#8c8c8c" text-anchor="middle" font-weight="normal" >[η² ]</text><text x="383.20" y="491.00" font-size="14" fill="#8c8c8c" text-anchor="middle" font-weight="bold" >0.3</text><text x="383.20" y="548.40" font-size="14" fill="#8c8c8c" text-anchor="middle" font-weight="bold" >0.2</text><text x="383.20" y="604.40" font-size="14" fill="#8c8c8c" text-anchor="middle" font-weight="bold" >0.1</text><text x="383.20" y="659.50" font-size="14" fill="#8c8c8c" text-anchor="middle" font-weight="bold" >0</text><path d="M421.7 654.5 L432.0 600.0 L439.1 568.2 L453.5 531.7 L458.7 529.8 L470.4 547.4 L473.0 549.3 L478.2 550.0 L484.7 568.2 L491.3 591.7 L509.6 647.7 L516.4 654.5Z" fill="#8a8af2" stroke="#8c8c8c" stroke-width="1.6" stroke-linejoin="round"/><path d="M539.2 654.5 L550.0 650.0 L561.4 640.9 L572.8 627.2 L584.2 623.7 L599.1 624.9 L617.3 642.0 L629.9 630.6 L650.4 630.6 L667.6 654.5Z" fill="#8a8af2" stroke="#8c8c8c" stroke-width="1.6" stroke-linejoin="round"/><path d="M421.7 492V654" stroke="#111" stroke-width="3.1" stroke-dasharray="2.9,3.0" fill="none"/><path d="M485.6 492V654" stroke="#111" stroke-width="3.1" stroke-dasharray="2.9,3.0" fill="none"/><path d="M679.4 455V654" stroke="#111" stroke-width="3.1" stroke-dasharray="2.9,3.0" fill="none"/><path d="M406.5 568.2C407.1 569.1 409.2 572.3 410.4 573.4C411.6 574.5 411.3 577.2 413.5 575.0C415.7 572.8 420.8 562.0 423.5 560.4C426.2 558.8 427.6 562.3 430.0 565.6C432.4 568.9 435.9 577.6 437.8 580.0C439.8 582.4 440.2 582.0 441.7 580.0C443.2 578.0 445.2 574.1 447.0 568.2C448.8 562.3 450.5 552.0 452.2 544.8C453.9 537.6 455.4 529.3 457.4 525.2C459.3 521.1 461.7 520.4 463.9 520.0C466.1 519.6 468.0 523.2 470.4 522.6C472.8 522.0 475.8 518.3 478.2 516.1C480.6 513.9 481.2 510.4 484.7 509.6C488.1 508.9 495.0 509.7 498.9 511.6C502.8 513.5 504.9 517.7 507.9 521.3C510.9 524.9 513.1 530.5 516.8 533.2C520.5 535.9 526.2 538.0 530.2 537.7C534.2 537.5 537.0 533.0 540.7 531.7C544.4 530.5 548.6 529.7 552.6 530.2C556.6 530.7 561.0 531.5 564.5 534.7C568.0 537.9 570.9 544.7 573.5 549.6C576.1 554.5 577.6 560.0 580.0 564.2C582.4 568.5 585.2 572.5 587.8 575.1C590.4 577.7 590.4 578.5 595.6 579.8C600.8 581.1 612.6 582.9 619.1 582.9C625.6 582.9 630.4 579.3 634.8 579.8C639.2 580.3 642.3 583.0 645.7 586.1C649.1 589.2 652.5 596.2 655.1 598.6C657.7 601.0 657.5 602.4 661.4 600.2C665.3 598.0 673.9 590.8 678.6 585.3C683.3 579.8 687.7 570.3 689.5 567.3" fill="none" stroke="#8e8e8e" stroke-width="3.2" stroke-linejoin="round" stroke-dasharray="9.5,4.8"/><path d="M407.8 578.7C408.4 579.1 410.0 583.0 411.5 581.0C413.0 579.0 414.8 570.8 417.0 566.9C419.2 563.0 422.6 558.4 424.8 557.8C427.0 557.1 427.8 560.4 430.0 563.0C432.2 565.6 435.4 572.3 437.8 573.4C440.2 574.5 441.9 574.7 444.3 569.5C446.7 564.3 450.0 550.0 452.2 542.2C454.4 534.4 455.7 526.6 457.4 522.6C459.1 518.6 460.7 518.2 462.6 518.0C464.6 517.8 466.7 521.4 469.1 521.3C471.5 521.2 474.5 518.6 476.9 517.4C479.3 516.2 481.4 513.9 483.4 514.1C485.4 514.3 485.9 517.4 488.7 518.7C491.5 520.0 497.3 521.5 500.0 521.9C502.7 522.3 500.1 521.6 504.9 521.3C509.7 520.9 523.5 519.0 528.7 519.8C533.9 520.5 533.7 522.6 536.2 525.8C538.7 529.0 541.2 535.6 543.7 539.2C546.2 542.8 547.9 546.0 551.1 547.4C554.3 548.8 559.8 546.5 563.0 547.4C566.2 548.3 567.7 548.8 570.5 552.6C573.3 556.4 576.9 566.6 580.0 570.4C583.1 574.1 586.0 572.0 589.4 575.1C592.8 578.2 597.2 585.9 600.3 589.2C603.4 592.5 604.8 593.4 608.2 594.7C611.6 596.0 616.8 595.8 620.7 597.0C624.6 598.2 628.0 600.5 631.6 601.7C635.2 602.9 638.9 603.6 642.6 604.1C646.3 604.6 650.2 605.5 653.6 604.9C657.0 604.2 659.5 602.6 662.9 600.2C666.3 597.9 670.8 593.1 673.9 590.8C677.0 588.4 678.8 589.2 681.7 586.1C684.6 583.0 689.5 574.4 691.1 572.0" fill="none" stroke="#f7ac10" stroke-width="3.2" stroke-linejoin="round" stroke-dasharray="9.5,4.8"/><path d="M407.8 578.7C408.9 580.1 411.5 586.0 414.3 587.1C417.1 588.2 421.8 584.9 424.8 585.2C427.9 585.5 430.2 586.6 432.6 589.1C435.0 591.6 436.4 593.6 439.1 600.0C441.9 606.4 446.5 622.1 449.1 627.2C451.7 632.3 451.2 630.4 454.8 630.6C458.4 630.8 465.5 631.5 470.8 628.3C476.1 625.1 483.5 614.6 486.7 611.2C489.9 607.8 487.0 611.5 490.0 607.7C493.0 603.9 500.9 595.1 504.9 588.4C508.9 581.7 511.1 573.5 513.8 567.5C516.5 561.5 518.8 555.1 521.3 552.6C523.8 550.1 526.5 553.6 528.7 552.6C530.9 551.6 532.5 551.3 534.7 546.6C537.0 541.9 539.2 530.9 542.2 524.3C545.2 517.7 548.4 507.9 552.6 507.1C556.8 506.4 563.0 514.9 567.5 519.8C572.0 524.6 576.0 532.6 579.4 536.2C582.8 539.8 583.8 542.8 587.8 541.5C591.8 540.2 598.3 528.6 603.5 528.2C608.7 527.8 613.4 535.5 619.1 539.1C624.8 542.8 632.7 548.9 637.9 550.1C643.1 551.3 646.5 545.7 650.4 546.2C654.3 546.7 656.7 547.2 661.4 553.2C666.1 559.2 675.0 577.0 678.6 582.2C682.2 587.4 681.2 586.2 683.3 584.5C685.4 582.8 689.8 574.1 691.1 572.0" fill="none" stroke="#e06814" stroke-width="2.8" stroke-linejoin="round"/><path d="M407.8 576.0C408.7 577.5 409.9 585.2 413.0 585.2C416.1 585.2 422.6 576.6 426.1 576.0C429.6 575.4 431.7 577.6 433.9 581.3C436.1 585.0 436.6 591.1 439.1 598.2C441.6 605.3 444.6 621.0 449.1 623.7C453.6 626.4 460.3 613.6 466.2 614.6C472.1 615.6 479.6 628.9 484.5 629.5C489.4 630.1 492.5 623.4 495.9 618.0C499.3 612.6 500.9 606.7 504.9 597.3C508.9 587.9 514.8 570.4 519.8 561.5C524.8 552.6 529.7 547.4 534.7 543.7C539.7 540.0 544.6 541.0 549.6 539.2C554.6 537.5 560.0 535.9 564.5 533.2C569.0 530.5 572.5 525.2 576.4 522.8C580.3 520.4 584.1 517.4 587.8 518.8C591.5 520.2 594.9 527.1 598.8 531.3C602.7 535.5 607.4 541.2 611.3 543.8C615.2 546.4 618.4 543.9 622.3 547.0C626.2 550.1 630.9 558.6 634.8 562.6C638.7 566.6 642.3 571.7 645.7 571.2C649.1 570.7 651.7 563.4 655.1 559.5C658.5 555.6 662.5 548.2 666.1 547.7C669.8 547.2 672.8 553.8 677.0 556.3C681.2 558.8 688.8 561.5 691.1 562.6" fill="none" stroke="#4a6428" stroke-width="2.8" stroke-linejoin="round"/><path d="M406.5 454.2V655.2H692" fill="none" stroke="#8c8c8c" stroke-width="2.6"/><path d="M400.7 485H406.5M400.7 542H406.5M400.7 598.5H406.5" fill="none" stroke="#8c8c8c" stroke-width="2"/><path d="M687 454.2H693.3V654.6" fill="none" stroke="#1a1a1a" stroke-width="2.6"/><path d="M687 521H693.3M687 587.5H693.3M687 654.6H693.3" fill="none" stroke="#1a1a1a" stroke-width="2"/><text x="710.40" y="459.70" font-size="15.4" fill="#1a1a1a" text-anchor="middle" font-weight="bold" >20</text><text x="710.40" y="527.00" font-size="15.4" fill="#1a1a1a" text-anchor="middle" font-weight="bold" >15</text><text x="710.40" y="594.10" font-size="15.4" fill="#1a1a1a" text-anchor="middle" font-weight="bold" >10</text><text x="708.30" y="659.10" font-size="15.4" fill="#1a1a1a" text-anchor="middle" font-weight="bold" >5</text><text transform="translate(729.10,554.80) rotate(-90) scale(0.835,1)" x="0" y="5.90" font-size="16.4" fill="#1a1a1a" text-anchor="middle" font-weight="bold">Response [spikes/sec.]</text><text x="420.40" y="679.20" font-size="14.1" fill="#1a1a1a" text-anchor="middle" font-weight="bold" >0</text><text x="487.30" y="679.20" font-size="14.1" fill="#1a1a1a" text-anchor="middle" font-weight="bold" >1000</text><text x="553.50" y="679.20" font-size="14.1" fill="#1a1a1a" text-anchor="middle" font-weight="bold" >2000</text><text x="620.00" y="679.20" font-size="14.1" fill="#1a1a1a" text-anchor="middle" font-weight="bold" >3000</text><text x="687.80" y="679.20" font-size="14.1" fill="#1a1a1a" text-anchor="middle" font-weight="bold" >4000</text><text transform="translate(550.00,698.00) scale(0.83,1)" x="0" y="0" font-size="16.4" fill="#1a1a1a" text-anchor="middle" font-weight="bold">Time rel. to stimulus onset [ms]</text><rect x="415.5" y="448.7" width="41.6" height="24.4" fill="#8a8af2" stroke="#8c8c8c" stroke-width="1.6"/><text x="464.60" y="464.00" font-size="11" fill="#8c8c8c" text-anchor="start" font-weight="bold" >Choice</text><text x="133.90" y="531.30" font-size="16.5" fill="#1a365e" text-anchor="middle" font-weight="bold" >4</text><text x="189.30" y="521.50" font-size="16.5" fill="#1a9ad2" text-anchor="middle" font-weight="bold" >2</text><text x="221.80" y="597.50" font-size="16.5" fill="#e0148c" text-anchor="middle" font-weight="bold" >1</text><text x="184.00" y="616.60" font-size="16.5" fill="#983434" text-anchor="middle" font-weight="bold" >3</text><text x="496.40" y="590.60" font-size="16.5" fill="#e06814" text-anchor="middle" font-weight="bold" >7</text><text x="507.20" y="627.20" font-size="16.5" fill="#4a6428" text-anchor="middle" font-weight="bold" >8</text><text x="620.20" y="577.00" font-size="16.5" fill="#8e8e8e" text-anchor="middle" font-weight="bold" >5</text><text x="615.60" y="613.50" font-size="16.5" fill="#f7ac10" text-anchor="middle" font-weight="bold" >6</text><text x="0.00" y="717.60" font-size="26" fill="#111" text-anchor="start" font-weight="bold" >d</text><rect x="74.3" y="717.0" width="285.5" height="179.39999999999998" fill="#00008f"/><rect x="137.30" y="717.20" width="6.30" height="2.15" fill="#a00000"/><rect x="143.60" y="717.20" width="6.30" height="2.15" fill="#2020c0"/><rect x="105.80" y="719.35" width="6.30" height="2.15" fill="#2070ff"/><rect x="118.40" y="719.35" width="6.30" height="2.15" fill="#20b8ff"/><rect x="124.70" y="719.35" width="6.30" height="2.15" fill="#ff9010"/><rect x="131.00" y="719.35" width="6.30" height="2.15" fill="#ff3000"/><rect x="137.30" y="719.35" width="6.30" height="2.15" fill="#ff8000"/><rect x="143.60" y="719.35" width="6.30" height="2.15" fill="#ff2000"/><rect x="149.90" y="719.35" width="6.30" height="2.15" fill="#ff5000"/><rect x="156.20" y="719.35" width="6.30" height="2.15" fill="#ff9000"/><rect x="162.50" y="719.35" width="6.30" height="2.15" fill="#30f0a0"/><rect x="105.80" y="721.50" width="6.30" height="2.15" fill="#ffe000"/><rect x="112.10" y="721.50" width="6.30" height="2.15" fill="#ff4010"/><rect x="118.40" y="721.50" width="6.30" height="2.15" fill="#ff2000"/><rect x="124.70" y="721.50" width="6.30" height="2.15" fill="#ffa000"/><rect x="131.00" y="721.50" width="12.60" height="2.15" fill="#ffb000"/><rect x="143.60" y="721.50" width="6.30" height="2.15" fill="#ff1010"/><rect x="149.90" y="721.50" width="6.30" height="2.15" fill="#ff8000"/><rect x="156.20" y="721.50" width="6.30" height="2.15" fill="#40f080"/><rect x="162.50" y="721.50" width="6.30" height="2.15" fill="#30e8e0"/><rect x="168.80" y="721.50" width="6.30" height="2.15" fill="#30e0ff"/><rect x="162.50" y="723.65" width="6.30" height="2.15" fill="#ff2000"/><rect x="168.80" y="723.65" width="6.30" height="2.15" fill="#ffe000"/><rect x="175.10" y="723.65" width="12.60" height="2.15" fill="#0a30ff"/><rect x="187.70" y="723.65" width="6.30" height="2.15" fill="#40f080"/><rect x="194.00" y="723.65" width="12.60" height="2.15" fill="#ffe000"/><rect x="206.60" y="723.65" width="12.60" height="2.15" fill="#30d8f0"/><rect x="162.50" y="725.80" width="12.60" height="2.15" fill="#ff9000"/><rect x="206.60" y="727.95" width="12.60" height="2.15" fill="#ffd000"/><rect x="219.20" y="727.95" width="6.30" height="2.15" fill="#30d0ff"/><rect x="99.50" y="730.09" width="6.30" height="2.15" fill="#30e8c0"/><rect x="105.80" y="730.09" width="6.30" height="2.15" fill="#1a90ff"/><rect x="112.10" y="730.09" width="6.30" height="2.15" fill="#f0e000"/><rect x="118.40" y="730.09" width="6.30" height="2.15" fill="#c0f040"/><rect x="118.40" y="732.24" width="6.30" height="2.15" fill="#1a50ff"/><rect x="124.70" y="732.24" width="6.30" height="2.15" fill="#40f060"/><rect x="131.00" y="732.24" width="6.30" height="2.15" fill="#0a30ff"/><rect x="105.80" y="734.39" width="6.30" height="2.15" fill="#30f090"/><rect x="112.10" y="734.39" width="6.30" height="2.15" fill="#30e0d0"/><rect x="118.40" y="734.39" width="6.30" height="2.15" fill="#30f0c0"/><rect x="112.10" y="736.54" width="6.30" height="2.15" fill="#1a80ff"/><rect x="118.40" y="736.54" width="6.30" height="2.15" fill="#20e0ff"/><rect x="313.70" y="736.54" width="6.30" height="2.15" fill="#20c8ff"/><rect x="320.00" y="736.54" width="6.30" height="2.15" fill="#40e080"/><rect x="326.30" y="736.54" width="6.30" height="2.15" fill="#20c8ff"/><rect x="124.70" y="738.69" width="6.30" height="2.15" fill="#30f0b0"/><rect x="131.00" y="738.69" width="6.30" height="2.15" fill="#1aa0ff"/><rect x="162.50" y="740.84" width="6.30" height="2.15" fill="#1a40ff"/><rect x="175.10" y="740.84" width="6.30" height="2.15" fill="#0a30ff"/><rect x="181.40" y="740.84" width="6.30" height="2.15" fill="#40e8c0"/><rect x="294.80" y="740.84" width="12.60" height="2.15" fill="#1a60ff"/><rect x="206.60" y="742.99" width="18.90" height="2.15" fill="#30d8f0"/><rect x="149.90" y="745.14" width="6.30" height="2.15" fill="#40e0ff"/><rect x="156.20" y="745.14" width="6.30" height="2.15" fill="#30e0e0"/><rect x="250.70" y="747.29" width="31.50" height="2.15" fill="#1a70ff"/><rect x="257.00" y="747.29" width="6.30" height="2.15" fill="#20d8ff"/><rect x="257.00" y="749.44" width="6.30" height="2.15" fill="#20d8ff"/><rect x="143.60" y="751.58" width="6.30" height="2.15" fill="#20c0ff"/><rect x="149.90" y="751.58" width="12.60" height="2.15" fill="#1a80ff"/><rect x="131.00" y="753.73" width="6.30" height="2.15" fill="#0a40ff"/><rect x="137.30" y="753.73" width="6.30" height="2.15" fill="#1aa0ff"/><rect x="118.40" y="755.88" width="12.60" height="2.15" fill="#0a30ff"/><path d="M89.2 716.7V896.4" stroke="#e8e8f4" stroke-width="2.6" stroke-dasharray="2.6,3.13" fill="none"/><path d="M153.0 716.7V896.4" stroke="#e8e8f4" stroke-width="2.6" stroke-dasharray="2.6,3.13" fill="none"/><path d="M344.1 716.7V896.4" stroke="#e8e8f4" stroke-width="2.6" stroke-dasharray="2.6,3.13" fill="none"/><path d="M89.4 896.4v2.2" stroke="#b0b0b0" stroke-width="1"/><path d="M121.30000000000001 896.4v2.2" stroke="#b0b0b0" stroke-width="1"/><path d="M153.2 896.4v2.2" stroke="#b0b0b0" stroke-width="1"/><path d="M185.1 896.4v2.2" stroke="#b0b0b0" stroke-width="1"/><path d="M217.0 896.4v2.2" stroke="#b0b0b0" stroke-width="1"/><path d="M248.9 896.4v2.2" stroke="#b0b0b0" stroke-width="1"/><path d="M280.79999999999995 896.4v2.2" stroke="#b0b0b0" stroke-width="1"/><path d="M312.7 896.4v2.2" stroke="#b0b0b0" stroke-width="1"/><path d="M344.6 896.4v2.2" stroke="#b0b0b0" stroke-width="1"/><rect x="406.8" y="718.0" width="285.7" height="178.5" fill="#00008f"/><rect x="578.80" y="720.00" width="6.20" height="2.10" fill="#1a50ff"/><rect x="585.00" y="720.00" width="7.30" height="2.10" fill="#1a80ff"/><rect x="578.80" y="726.70" width="6.20" height="2.10" fill="#0a40ff"/><rect x="585.00" y="726.70" width="7.30" height="2.10" fill="#1a70ff"/><rect x="612.10" y="722.50" width="4.90" height="2.10" fill="#0a40ff"/><rect x="617.00" y="722.50" width="6.60" height="2.10" fill="#1a80ff"/><rect x="624.70" y="724.60" width="6.30" height="2.10" fill="#1a70ff"/><rect x="631.00" y="724.60" width="6.20" height="2.10" fill="#0a40ff"/><rect x="630.90" y="718.00" width="12.10" height="2.00" fill="#20d0ff"/><rect x="643.00" y="718.00" width="6.70" height="2.00" fill="#0a50ff"/><path d="M420.6 717.7V896.5" stroke="#e8e8f4" stroke-width="2.6" stroke-dasharray="2.6,3.13" fill="none"/><path d="M485.4 717.7V896.5" stroke="#e8e8f4" stroke-width="2.6" stroke-dasharray="2.6,3.13" fill="none"/><path d="M678.9 717.7V896.5" stroke="#e8e8f4" stroke-width="2.6" stroke-dasharray="2.6,3.13" fill="none"/><path d="M420.6 896.5v2.2" stroke="#b0b0b0" stroke-width="1"/><path d="M452.8 896.5v2.2" stroke="#b0b0b0" stroke-width="1"/><path d="M485.0 896.5v2.2" stroke="#b0b0b0" stroke-width="1"/><path d="M517.2 896.5v2.2" stroke="#b0b0b0" stroke-width="1"/><path d="M549.4000000000001 896.5v2.2" stroke="#b0b0b0" stroke-width="1"/><path d="M581.6 896.5v2.2" stroke="#b0b0b0" stroke-width="1"/><path d="M613.8000000000001 896.5v2.2" stroke="#b0b0b0" stroke-width="1"/><path d="M646.0 896.5v2.2" stroke="#b0b0b0" stroke-width="1"/><path d="M678.2 896.5v2.2" stroke="#b0b0b0" stroke-width="1"/><text x="122.20" y="881.80" font-size="15" fill="#dcdcee" text-anchor="middle" font-weight="bold" >Sample</text><text x="247.50" y="881.80" font-size="15" fill="#dcdcee" text-anchor="middle" font-weight="bold" >Delay</text><text x="454.00" y="883.90" font-size="15" fill="#dcdcee" text-anchor="middle" font-weight="bold" >Sample</text><text x="580.20" y="883.90" font-size="15" fill="#dcdcee" text-anchor="middle" font-weight="bold" >Delay</text><text x="54.10" y="742.20" font-size="13.0" fill="#1a1a1a" text-anchor="middle" font-weight="bold" >10</text><text x="54.10" y="763.90" font-size="13.0" fill="#1a1a1a" text-anchor="middle" font-weight="bold" >20</text><text x="54.10" y="785.60" font-size="13.0" fill="#1a1a1a" text-anchor="middle" font-weight="bold" >30</text><text x="54.10" y="807.10" font-size="13.0" fill="#1a1a1a" text-anchor="middle" font-weight="bold" >40</text><text x="54.10" y="828.40" font-size="13.0" fill="#1a1a1a" text-anchor="middle" font-weight="bold" >50</text><text x="54.10" y="849.70" font-size="13.0" fill="#1a1a1a" text-anchor="middle" font-weight="bold" >60</text><text x="54.10" y="871.20" font-size="13.0" fill="#1a1a1a" text-anchor="middle" font-weight="bold" >70</text><text x="54.10" y="892.60" font-size="13.0" fill="#1a1a1a" text-anchor="middle" font-weight="bold" >80</text><text x="712.00" y="744.40" font-size="13.0" fill="#1a1a1a" text-anchor="middle" font-weight="bold" >10</text><text x="712.00" y="765.30" font-size="13.0" fill="#1a1a1a" text-anchor="middle" font-weight="bold" >20</text><text x="712.00" y="786.60" font-size="13.0" fill="#1a1a1a" text-anchor="middle" font-weight="bold" >30</text><text x="712.00" y="808.20" font-size="13.0" fill="#1a1a1a" text-anchor="middle" font-weight="bold" >40</text><text x="712.00" y="828.80" font-size="13.0" fill="#1a1a1a" text-anchor="middle" font-weight="bold" >50</text><text x="712.00" y="849.60" font-size="13.0" fill="#1a1a1a" text-anchor="middle" font-weight="bold" >60</text><text x="712.00" y="871.00" font-size="13.0" fill="#1a1a1a" text-anchor="middle" font-weight="bold" >70</text><text x="712.00" y="891.80" font-size="13.0" fill="#1a1a1a" text-anchor="middle" font-weight="bold" >80</text><text transform="translate(35.60,810.20) rotate(-90)" x="0" y="5.40" font-size="15" fill="#1a1a1a" text-anchor="middle" font-weight="bold">Cells</text><text transform="translate(731.50,810.00) rotate(-90)" x="0" y="5.40" font-size="15" fill="#1a1a1a" text-anchor="middle" font-weight="bold">Cells</text><text x="90.20" y="922.30" font-size="14.1" fill="#1a1a1a" text-anchor="middle" font-weight="bold" >0</text><text x="156.30" y="922.30" font-size="14.1" fill="#1a1a1a" text-anchor="middle" font-weight="bold" >1000</text><text x="222.10" y="922.30" font-size="14.1" fill="#1a1a1a" text-anchor="middle" font-weight="bold" >2000</text><text x="288.00" y="922.30" font-size="14.1" fill="#1a1a1a" text-anchor="middle" font-weight="bold" >3000</text><text x="354.50" y="922.30" font-size="14.1" fill="#1a1a1a" text-anchor="middle" font-weight="bold" >4000</text><text x="421.00" y="921.00" font-size="14.1" fill="#1a1a1a" text-anchor="middle" font-weight="bold" >0</text><text x="485.60" y="921.00" font-size="14.1" fill="#1a1a1a" text-anchor="middle" font-weight="bold" >1000</text><text x="550.50" y="921.00" font-size="14.1" fill="#1a1a1a" text-anchor="middle" font-weight="bold" >2000</text><text x="615.70" y="921.00" font-size="14.1" fill="#1a1a1a" text-anchor="middle" font-weight="bold" >3000</text><text x="680.20" y="921.00" font-size="14.1" fill="#1a1a1a" text-anchor="middle" font-weight="bold" >4000</text><text x="216.90" y="942.50" font-size="14.2" fill="#1a1a1a" text-anchor="middle" font-weight="bold" >Time rel. to stimulus onset [ms]</text><text x="549.80" y="939.60" font-size="14.3" fill="#1a1a1a" text-anchor="middle" font-weight="bold" >Time rel. to stimulus onset [ms]</text><linearGradient id="jet" x1="0" x2="1" y1="0" y2="0"><stop offset="0" stop-color="#000093"/><stop offset="0.0031" stop-color="#000093"/><stop offset="0.0188" stop-color="#000093"/><stop offset="0.0188" stop-color="#0000b9"/><stop offset="0.0344" stop-color="#0000b9"/><stop offset="0.0344" stop-color="#0000df"/><stop offset="0.0500" stop-color="#0000df"/><stop offset="0.0500" stop-color="#0007ff"/><stop offset="0.0656" stop-color="#0007ff"/><stop offset="0.0656" stop-color="#0031ff"/><stop offset="0.0813" stop-color="#0031ff"/><stop offset="0.0813" stop-color="#005bff"/><stop offset="0.0969" stop-color="#005bff"/><stop offset="0.0969" stop-color="#0085ff"/><stop offset="0.1125" stop-color="#0085ff"/><stop offset="0.1125" stop-color="#00b0ff"/><stop offset="0.1281" stop-color="#00b0ff"/><stop offset="0.1281" stop-color="#00daff"/><stop offset="0.1438" stop-color="#00daff"/><stop offset="0.1438" stop-color="#00ffff"/><stop offset="0.1594" stop-color="#00ffff"/><stop offset="0.1594" stop-color="#00ffff"/><stop offset="0.1750" stop-color="#00ffff"/><stop offset="0.1750" stop-color="#00ffff"/><stop offset="0.1906" stop-color="#00ffff"/><stop offset="0.1906" stop-color="#00ffff"/><stop offset="0.2063" stop-color="#00ffff"/><stop offset="0.2063" stop-color="#00ffff"/><stop offset="0.2219" stop-color="#00ffff"/><stop offset="0.2219" stop-color="#00ffff"/><stop offset="0.2375" stop-color="#00ffff"/><stop offset="0.2375" stop-color="#00ffff"/><stop offset="0.2531" stop-color="#00ffff"/><stop offset="0.2531" stop-color="#00ffff"/><stop offset="0.2688" stop-color="#00ffff"/><stop offset="0.2688" stop-color="#00ffff"/><stop offset="0.2844" stop-color="#00ffff"/><stop offset="0.2844" stop-color="#00ffff"/><stop offset="0.3000" stop-color="#00ffff"/><stop offset="0.3000" stop-color="#00ffff"/><stop offset="0.3156" stop-color="#00ffff"/><stop offset="0.3156" stop-color="#00ffff"/><stop offset="0.3312" stop-color="#00ffff"/><stop offset="0.3312" stop-color="#00ffff"/><stop offset="0.3469" stop-color="#00ffff"/><stop offset="0.3469" stop-color="#11ffee"/><stop offset="0.3625" stop-color="#11ffee"/><stop offset="0.3625" stop-color="#25ffda"/><stop offset="0.3781" stop-color="#25ffda"/><stop offset="0.3781" stop-color="#39ffc6"/><stop offset="0.3937" stop-color="#39ffc6"/><stop offset="0.3937" stop-color="#4dffb2"/><stop offset="0.4094" stop-color="#4dffb2"/><stop offset="0.4094" stop-color="#61ff9e"/><stop offset="0.4250" stop-color="#61ff9e"/><stop offset="0.4250" stop-color="#75ff8a"/><stop offset="0.4406" stop-color="#75ff8a"/><stop offset="0.4406" stop-color="#8bff75"/><stop offset="0.4562" stop-color="#8bff75"/><stop offset="0.4562" stop-color="#a1ff5f"/><stop offset="0.4719" stop-color="#a1ff5f"/><stop offset="0.4719" stop-color="#b7ff48"/><stop offset="0.4875" stop-color="#b7ff48"/><stop offset="0.4875" stop-color="#ceff32"/><stop offset="0.5031" stop-color="#ceff32"/><stop offset="0.5031" stop-color="#e4ff1b"/><stop offset="0.5187" stop-color="#e4ff1b"/><stop offset="0.5187" stop-color="#fbff04"/><stop offset="0.5344" stop-color="#fbff04"/><stop offset="0.5344" stop-color="#ffe900"/><stop offset="0.5500" stop-color="#ffe900"/><stop offset="0.5500" stop-color="#ffce00"/><stop offset="0.5656" stop-color="#ffce00"/><stop offset="0.5656" stop-color="#ffb200"/><stop offset="0.5812" stop-color="#ffb200"/><stop offset="0.5812" stop-color="#ff9700"/><stop offset="0.5969" stop-color="#ff9700"/><stop offset="0.5969" stop-color="#ff7c00"/><stop offset="0.6125" stop-color="#ff7c00"/><stop offset="0.6125" stop-color="#ff6000"/><stop offset="0.6281" stop-color="#ff6000"/><stop offset="0.6281" stop-color="#ff4500"/><stop offset="0.6437" stop-color="#ff4500"/><stop offset="0.6437" stop-color="#ff2900"/><stop offset="0.6594" stop-color="#ff2900"/><stop offset="0.6594" stop-color="#ff0e00"/><stop offset="0.6750" stop-color="#ff0e00"/><stop offset="0.6750" stop-color="#ff0000"/><stop offset="0.6906" stop-color="#ff0000"/><stop offset="0.6906" stop-color="#ff0000"/><stop offset="0.7062" stop-color="#ff0000"/><stop offset="0.7062" stop-color="#ff0000"/><stop offset="0.7219" stop-color="#ff0000"/><stop offset="0.7219" stop-color="#ff0000"/><stop offset="0.7375" stop-color="#ff0000"/><stop offset="0.7375" stop-color="#ff0000"/><stop offset="0.7531" stop-color="#ff0000"/><stop offset="0.7531" stop-color="#ff0000"/><stop offset="0.7687" stop-color="#ff0000"/><stop offset="0.7687" stop-color="#ff0000"/><stop offset="0.7843" stop-color="#ff0000"/><stop offset="0.7843" stop-color="#ff0000"/><stop offset="0.8000" stop-color="#ff0000"/><stop offset="0.8000" stop-color="#ff0000"/><stop offset="0.8156" stop-color="#ff0000"/><stop offset="0.8156" stop-color="#ff0000"/><stop offset="0.8312" stop-color="#ff0000"/><stop offset="0.8312" stop-color="#ff0000"/><stop offset="0.8468" stop-color="#ff0000"/><stop offset="0.8468" stop-color="#ff0000"/><stop offset="0.8625" stop-color="#ff0000"/><stop offset="0.8625" stop-color="#ff0000"/><stop offset="0.8781" stop-color="#ff0000"/><stop offset="0.8781" stop-color="#ff0000"/><stop offset="0.8937" stop-color="#ff0000"/><stop offset="0.8937" stop-color="#ff0000"/><stop offset="0.9093" stop-color="#ff0000"/><stop offset="0.9093" stop-color="#ff0000"/><stop offset="0.9250" stop-color="#ff0000"/><stop offset="0.9250" stop-color="#f00000"/><stop offset="0.9406" stop-color="#f00000"/><stop offset="0.9406" stop-color="#d50000"/><stop offset="0.9562" stop-color="#d50000"/><stop offset="0.9562" stop-color="#ba0000"/><stop offset="0.9718" stop-color="#ba0000"/><stop offset="0.9718" stop-color="#9f0000"/><stop offset="0.9875" stop-color="#9f0000"/><stop offset="0.9875" stop-color="#870000"/><stop offset="1.0000" stop-color="#870000"/></linearGradient><rect x="213.6" y="953.2" width="350.1" height="23.09999999999991" fill="url(#jet)" stroke="#111" stroke-width="1.8"/><path d="M213.3 976.3v3" stroke="#555" stroke-width="1"/><path d="M307.5 976.3v3" stroke="#555" stroke-width="1"/><path d="M435.5 976.3v3" stroke="#555" stroke-width="1"/><path d="M563.7 976.3v3" stroke="#555" stroke-width="1"/><text x="383" y="969.2" font-size="15.2" font-weight="bold" fill="#111" text-anchor="middle"><tspan text-decoration="underline">P</tspan>ercent <tspan text-decoration="underline">E</tspan>xplained <tspan text-decoration="underline">V</tspan>ariance [η²]</text><text x="218.20" y="1000.40" font-size="15.2" fill="#1a1a1a" text-anchor="middle" font-weight="bold" >0.03</text><text x="308.00" y="1000.40" font-size="15.2" fill="#1a1a1a" text-anchor="middle" font-weight="bold" >0.05</text><text x="435.70" y="1000.40" font-size="15.2" fill="#1a1a1a" text-anchor="middle" font-weight="bold" >0.1</text><text x="563.00" y="1000.40" font-size="15.2" fill="#1a1a1a" text-anchor="middle" font-weight="bold" >0.2</text>
</svg>
</body></html>
